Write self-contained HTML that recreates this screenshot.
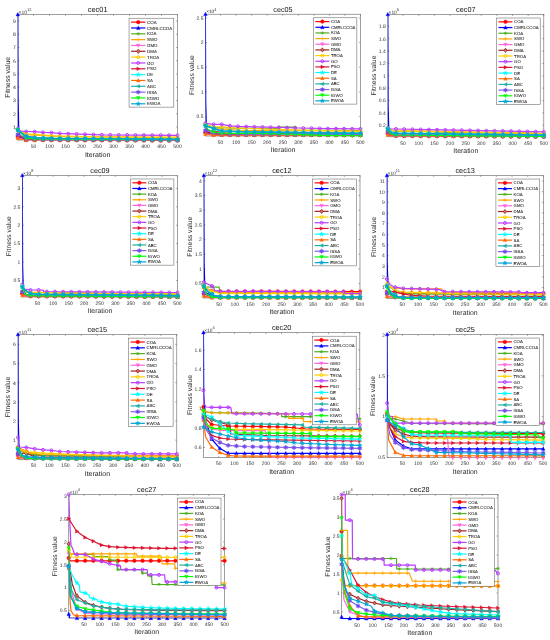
<!DOCTYPE html>
<html lang="en"><head><meta charset="utf-8"><title>Convergence curves</title>
<style>html,body{margin:0;padding:0;background:#fff}body{width:550px;height:640px;overflow:hidden}svg{display:block}</style></head>
<body>
<svg width="550" height="640" viewBox="0 0 550 640" font-family='"Liberation Sans", Arial, sans-serif' text-rendering="geometricPrecision">
<defs><g id="m0"><circle cx="0" cy="0" r="1.75" fill="#ff0000" stroke="#ff0000" stroke-width="0.55"/></g><g id="m1"><polygon points="0,-1.9 1.8,1.42 -1.8,1.42" fill="#0000ff" stroke="#0000ff" stroke-width="0.4"/></g><g id="m2"><path d="M-1.61 0H1.61M0 -1.61V1.61M-1.18 -1.18L1.18 1.18M-1.18 1.18L1.18 -1.18" stroke="#4cae1e" stroke-width="0.7" fill="none"/></g><g id="m3"><path d="M-1.9 0H1.9M0 -1.9V1.9" stroke="#ffa500" stroke-width="0.7" fill="none"/></g><g id="m4"><polygon points="0,1.9 1.8,-1.42 -1.8,-1.42" fill="#ff66dd" stroke="#ff66dd" stroke-width="0.4"/></g><g id="m5"><polygon points="0,-2.09 1.61,0 0,2.09 -1.61,0" fill="#c87870" stroke="#a02020" stroke-width="0.8"/></g><g id="m6"><circle cx="0" cy="0" r="1.48" fill="none" stroke="#ffd000" stroke-width="1.0"/></g><g id="m7"><circle cx="0" cy="0" r="1.48" fill="none" stroke="#b93cff" stroke-width="1.0"/></g><g id="m8"><polygon points="1.9,0 -1.42,-1.8 -1.42,1.8" fill="#dc1430" stroke="#dc1430" stroke-width="0.4"/></g><g id="m9"><polygon points="0,-2.38 0.58,-0.8 2.26,-0.73 0.94,0.31 1.4,1.92 0,0.99 -1.4,1.92 -0.94,0.31 -2.26,-0.73 -0.58,-0.8" fill="#00ffff" stroke="#00ffff" stroke-width="0.4"/></g><g id="m10"><polygon points="0,-1.9 1.8,1.42 -1.8,1.42" fill="#ff6a00" stroke="#ff6a00" stroke-width="0.4"/></g><g id="m11"><polygon points="-1.9,0 1.42,-1.8 1.42,1.8" fill="#20b0a4" stroke="#20b0a4" stroke-width="0.4"/></g><g id="m12"><polygon points="0,-2.38 0.68,-1.18 2.06,-1.19 1.37,0 2.06,1.19 0.68,1.18 0,2.38 -0.68,1.18 -2.06,1.19 -1.37,0 -2.06,-1.19 -0.68,-1.18" fill="#7048e8" stroke="#8560f0" stroke-width="0.4"/></g><g id="m13"><polygon points="0,1.9 1.8,-1.42 -1.8,-1.42" fill="#00ff00" stroke="#00ff00" stroke-width="0.4"/></g><g id="m14"><polygon points="0,-2.38 0.58,-0.8 2.26,-0.73 0.94,0.31 1.4,1.92 0,0.99 -1.4,1.92 -0.94,0.31 -2.26,-0.73 -0.58,-0.8" fill="#00a4d4" stroke="#00a4d4" stroke-width="0.4"/></g></defs>
<!-- cec01 -->
<clipPath id="c0"><rect x="17.8" y="14.2" width="160" height="126.1"/></clipPath>
<rect x="17.8" y="14.5" width="159.7" height="125.5" fill="#fff" stroke="#606060" stroke-width="0.6"/>
<path d="M33.48 140v-1.6 M33.48 14.5v1.6 M49.48 140v-1.6 M49.48 14.5v1.6 M65.49 140v-1.6 M65.49 14.5v1.6 M81.49 140v-1.6 M81.49 14.5v1.6 M97.49 140v-1.6 M97.49 14.5v1.6 M113.49 140v-1.6 M113.49 14.5v1.6 M129.49 140v-1.6 M129.49 14.5v1.6 M145.5 140v-1.6 M145.5 14.5v1.6 M161.5 140v-1.6 M161.5 14.5v1.6 M177.5 140v-1.6 M177.5 14.5v1.6 M17.8 21h1.6 M177.5 21h-1.6 M17.8 34.25h1.6 M177.5 34.25h-1.6 M17.8 47.5h1.6 M177.5 47.5h-1.6 M17.8 60.75h1.6 M177.5 60.75h-1.6 M17.8 74h1.6 M177.5 74h-1.6 M17.8 87.25h1.6 M177.5 87.25h-1.6 M17.8 100.5h1.6 M177.5 100.5h-1.6 M17.8 113.75h1.6 M177.5 113.75h-1.6 M17.8 127h1.6 M177.5 127h-1.6" stroke="#606060" stroke-width="0.5" fill="none"/>
<g font-size="5.12" fill="#303030"><g text-anchor="middle"><text x="33.48" y="147.88">50</text><text x="49.48" y="147.88">100</text><text x="65.49" y="147.88">150</text><text x="81.49" y="147.88">200</text><text x="97.49" y="147.88">250</text><text x="113.49" y="147.88">300</text><text x="129.49" y="147.88">350</text><text x="145.5" y="147.88">400</text><text x="161.5" y="147.88">450</text><text x="177.5" y="147.88">500</text></g><g text-anchor="end"><text x="15.8" y="22.84">9</text><text x="15.8" y="36.09">8</text><text x="15.8" y="49.34">7</text><text x="15.8" y="62.59">6</text><text x="15.8" y="75.84">5</text><text x="15.8" y="89.09">4</text><text x="15.8" y="102.34">3</text><text x="15.8" y="115.59">2</text><text x="15.8" y="128.84">1</text></g><text x="18.6" y="13.6" font-size="4.91">×10<tspan dy="-2.35" font-size="3.99">12</tspan></text></g>
<text x="97.65" y="12.04" font-size="7.42" text-anchor="middle" fill="#111">cec01</text>
<text x="97.65" y="156.58" font-size="7.06" text-anchor="middle" fill="#262626">Iteration</text>
<text transform="translate(9.51 77.25) rotate(-90)" font-size="6.96" text-anchor="middle" fill="#262626">Fitness value</text>
<polyline clip-path="url(#c0)" points="17.8,137 20.68,138.5 26.12,140 177.5,140.4" fill="none" stroke="#ff0000" stroke-width="1.2" stroke-linejoin="round"/><use href="#m0" x="17.8" y="137"/><use href="#m0" x="26.21" y="140"/><use href="#m0" x="34.61" y="140.02"/><use href="#m0" x="43.02" y="140.04"/><use href="#m0" x="51.42" y="140.07"/><use href="#m0" x="59.83" y="140.09"/><use href="#m0" x="68.23" y="140.11"/><use href="#m0" x="76.64" y="140.13"/><use href="#m0" x="85.04" y="140.16"/><use href="#m0" x="93.45" y="140.18"/><use href="#m0" x="101.85" y="140.2"/><use href="#m0" x="110.26" y="140.22"/><use href="#m0" x="118.66" y="140.24"/><use href="#m0" x="127.07" y="140.27"/><use href="#m0" x="135.47" y="140.29"/><use href="#m0" x="143.88" y="140.31"/><use href="#m0" x="152.28" y="140.33"/><use href="#m0" x="160.69" y="140.36"/><use href="#m0" x="169.09" y="140.38"/><use href="#m0" x="177.5" y="140.4"/><polyline clip-path="url(#c0)" points="17.8,14.5 18.12,100 18.76,130 20.36,137 26.12,139.8 177.5,140.3" fill="none" stroke="#0000ff" stroke-width="1.2" stroke-linejoin="round"/><use href="#m1" x="17.8" y="14.5"/><use href="#m1" x="26.21" y="139.8"/><use href="#m1" x="34.61" y="139.83"/><use href="#m1" x="43.02" y="139.86"/><use href="#m1" x="51.42" y="139.88"/><use href="#m1" x="59.83" y="139.91"/><use href="#m1" x="68.23" y="139.94"/><use href="#m1" x="76.64" y="139.97"/><use href="#m1" x="85.04" y="139.99"/><use href="#m1" x="93.45" y="140.02"/><use href="#m1" x="101.85" y="140.05"/><use href="#m1" x="110.26" y="140.08"/><use href="#m1" x="118.66" y="140.11"/><use href="#m1" x="127.07" y="140.13"/><use href="#m1" x="135.47" y="140.16"/><use href="#m1" x="143.88" y="140.19"/><use href="#m1" x="152.28" y="140.22"/><use href="#m1" x="160.69" y="140.24"/><use href="#m1" x="169.09" y="140.27"/><use href="#m1" x="177.5" y="140.3"/><polyline clip-path="url(#c0)" points="17.8,130 26.12,136.5 43.08,138 177.5,139" fill="none" stroke="#4cae1e" stroke-width="1.2" stroke-linejoin="round"/><use href="#m2" x="17.8" y="130"/><use href="#m2" x="26.21" y="136.51"/><use href="#m2" x="34.61" y="137.25"/><use href="#m2" x="43.02" y="137.99"/><use href="#m2" x="51.42" y="138.06"/><use href="#m2" x="59.83" y="138.12"/><use href="#m2" x="68.23" y="138.19"/><use href="#m2" x="76.64" y="138.25"/><use href="#m2" x="85.04" y="138.31"/><use href="#m2" x="93.45" y="138.37"/><use href="#m2" x="101.85" y="138.44"/><use href="#m2" x="110.26" y="138.5"/><use href="#m2" x="118.66" y="138.56"/><use href="#m2" x="127.07" y="138.62"/><use href="#m2" x="135.47" y="138.69"/><use href="#m2" x="143.88" y="138.75"/><use href="#m2" x="152.28" y="138.81"/><use href="#m2" x="160.69" y="138.87"/><use href="#m2" x="169.09" y="138.94"/><use href="#m2" x="177.5" y="139"/><polyline clip-path="url(#c0)" points="17.8,131 26.12,134.6 59.09,136.3 177.5,137.6" fill="none" stroke="#ffa500" stroke-width="1.2" stroke-linejoin="round"/><use href="#m3" x="17.8" y="131"/><use href="#m3" x="26.21" y="134.6"/><use href="#m3" x="34.61" y="135.04"/><use href="#m3" x="43.02" y="135.47"/><use href="#m3" x="51.42" y="135.9"/><use href="#m3" x="59.83" y="136.31"/><use href="#m3" x="68.23" y="136.4"/><use href="#m3" x="76.64" y="136.49"/><use href="#m3" x="85.04" y="136.58"/><use href="#m3" x="93.45" y="136.68"/><use href="#m3" x="101.85" y="136.77"/><use href="#m3" x="110.26" y="136.86"/><use href="#m3" x="118.66" y="136.95"/><use href="#m3" x="127.07" y="137.05"/><use href="#m3" x="135.47" y="137.14"/><use href="#m3" x="143.88" y="137.23"/><use href="#m3" x="152.28" y="137.32"/><use href="#m3" x="160.69" y="137.42"/><use href="#m3" x="169.09" y="137.51"/><use href="#m3" x="177.5" y="137.6"/><polyline clip-path="url(#c0)" points="17.8,137.8 21.32,138.5 26.12,140 177.5,140.6" fill="none" stroke="#ff66dd" stroke-width="1.2" stroke-linejoin="round"/><use href="#m4" x="17.8" y="137.8"/><use href="#m4" x="26.21" y="140"/><use href="#m4" x="34.61" y="140.03"/><use href="#m4" x="43.02" y="140.07"/><use href="#m4" x="51.42" y="140.1"/><use href="#m4" x="59.83" y="140.13"/><use href="#m4" x="68.23" y="140.17"/><use href="#m4" x="76.64" y="140.2"/><use href="#m4" x="85.04" y="140.23"/><use href="#m4" x="93.45" y="140.27"/><use href="#m4" x="101.85" y="140.3"/><use href="#m4" x="110.26" y="140.33"/><use href="#m4" x="118.66" y="140.37"/><use href="#m4" x="127.07" y="140.4"/><use href="#m4" x="135.47" y="140.43"/><use href="#m4" x="143.88" y="140.47"/><use href="#m4" x="152.28" y="140.5"/><use href="#m4" x="160.69" y="140.53"/><use href="#m4" x="169.09" y="140.57"/><use href="#m4" x="177.5" y="140.6"/><polyline clip-path="url(#c0)" points="17.8,136 22.28,137.5 33.48,139.6 177.5,140.2" fill="none" stroke="#a02020" stroke-width="1.2" stroke-linejoin="round"/><use href="#m5" x="17.8" y="136"/><use href="#m5" x="26.21" y="138.24"/><use href="#m5" x="34.61" y="139.6"/><use href="#m5" x="43.02" y="139.64"/><use href="#m5" x="51.42" y="139.67"/><use href="#m5" x="59.83" y="139.71"/><use href="#m5" x="68.23" y="139.74"/><use href="#m5" x="76.64" y="139.78"/><use href="#m5" x="85.04" y="139.81"/><use href="#m5" x="93.45" y="139.85"/><use href="#m5" x="101.85" y="139.88"/><use href="#m5" x="110.26" y="139.92"/><use href="#m5" x="118.66" y="139.95"/><use href="#m5" x="127.07" y="139.99"/><use href="#m5" x="135.47" y="140.02"/><use href="#m5" x="143.88" y="140.06"/><use href="#m5" x="152.28" y="140.09"/><use href="#m5" x="160.69" y="140.13"/><use href="#m5" x="169.09" y="140.16"/><use href="#m5" x="177.5" y="140.2"/><polyline clip-path="url(#c0)" points="17.8,129.5 26.12,133.9 34.44,134.4 52.68,135.8 100.69,136.8 177.5,137.2" fill="none" stroke="#ffd000" stroke-width="1.2" stroke-linejoin="round"/><use href="#m6" x="17.8" y="129.5"/><use href="#m6" x="26.21" y="133.91"/><use href="#m6" x="34.61" y="134.41"/><use href="#m6" x="43.02" y="135.06"/><use href="#m6" x="51.42" y="135.7"/><use href="#m6" x="59.83" y="135.95"/><use href="#m6" x="68.23" y="136.12"/><use href="#m6" x="76.64" y="136.3"/><use href="#m6" x="85.04" y="136.47"/><use href="#m6" x="93.45" y="136.65"/><use href="#m6" x="101.85" y="136.81"/><use href="#m6" x="110.26" y="136.85"/><use href="#m6" x="118.66" y="136.89"/><use href="#m6" x="127.07" y="136.94"/><use href="#m6" x="135.47" y="136.98"/><use href="#m6" x="143.88" y="137.02"/><use href="#m6" x="152.28" y="137.07"/><use href="#m6" x="160.69" y="137.11"/><use href="#m6" x="169.09" y="137.16"/><use href="#m6" x="177.5" y="137.2"/><polyline clip-path="url(#c0)" points="17.8,128.7 20.68,131.2 26.12,131.5 34.44,131.7 43.08,132.4 51.4,132.6 59.09,133.3 100.69,134.8 177.5,135.3" fill="none" stroke="#b93cff" stroke-width="1.2" stroke-linejoin="round"/><use href="#m7" x="17.8" y="128.7"/><use href="#m7" x="26.21" y="131.5"/><use href="#m7" x="34.61" y="131.71"/><use href="#m7" x="43.02" y="132.39"/><use href="#m7" x="51.42" y="132.6"/><use href="#m7" x="59.83" y="133.33"/><use href="#m7" x="68.23" y="133.63"/><use href="#m7" x="76.64" y="133.93"/><use href="#m7" x="85.04" y="134.24"/><use href="#m7" x="93.45" y="134.54"/><use href="#m7" x="101.85" y="134.81"/><use href="#m7" x="110.26" y="134.86"/><use href="#m7" x="118.66" y="134.92"/><use href="#m7" x="127.07" y="134.97"/><use href="#m7" x="135.47" y="135.03"/><use href="#m7" x="143.88" y="135.08"/><use href="#m7" x="152.28" y="135.14"/><use href="#m7" x="160.69" y="135.19"/><use href="#m7" x="169.09" y="135.25"/><use href="#m7" x="177.5" y="135.3"/><polyline clip-path="url(#c0)" points="17.8,135.2 26.12,137.5 43.08,139.3 177.5,139.9" fill="none" stroke="#dc1430" stroke-width="1.2" stroke-linejoin="round"/><use href="#m8" x="17.8" y="135.2"/><use href="#m8" x="26.21" y="137.51"/><use href="#m8" x="34.61" y="138.4"/><use href="#m8" x="43.02" y="139.29"/><use href="#m8" x="51.42" y="139.34"/><use href="#m8" x="59.83" y="139.37"/><use href="#m8" x="68.23" y="139.41"/><use href="#m8" x="76.64" y="139.45"/><use href="#m8" x="85.04" y="139.49"/><use href="#m8" x="93.45" y="139.52"/><use href="#m8" x="101.85" y="139.56"/><use href="#m8" x="110.26" y="139.6"/><use href="#m8" x="118.66" y="139.64"/><use href="#m8" x="127.07" y="139.67"/><use href="#m8" x="135.47" y="139.71"/><use href="#m8" x="143.88" y="139.75"/><use href="#m8" x="152.28" y="139.79"/><use href="#m8" x="160.69" y="139.82"/><use href="#m8" x="169.09" y="139.86"/><use href="#m8" x="177.5" y="139.9"/><polyline clip-path="url(#c0)" points="17.8,130 26.12,136.5 34.44,137.8 52.68,138.6 177.5,139.5" fill="none" stroke="#00ffff" stroke-width="1.2" stroke-linejoin="round"/><use href="#m9" x="17.8" y="130"/><use href="#m9" x="26.21" y="136.51"/><use href="#m9" x="34.61" y="137.81"/><use href="#m9" x="43.02" y="138.18"/><use href="#m9" x="51.42" y="138.54"/><use href="#m9" x="59.83" y="138.65"/><use href="#m9" x="68.23" y="138.71"/><use href="#m9" x="76.64" y="138.77"/><use href="#m9" x="85.04" y="138.83"/><use href="#m9" x="93.45" y="138.89"/><use href="#m9" x="101.85" y="138.95"/><use href="#m9" x="110.26" y="139.02"/><use href="#m9" x="118.66" y="139.08"/><use href="#m9" x="127.07" y="139.14"/><use href="#m9" x="135.47" y="139.2"/><use href="#m9" x="143.88" y="139.26"/><use href="#m9" x="152.28" y="139.32"/><use href="#m9" x="160.69" y="139.38"/><use href="#m9" x="169.09" y="139.44"/><use href="#m9" x="177.5" y="139.5"/><polyline clip-path="url(#c0)" points="17.8,138.3 20.68,139 26.12,140.2 177.5,140.5" fill="none" stroke="#ff6a00" stroke-width="1.2" stroke-linejoin="round"/><use href="#m10" x="17.8" y="138.3"/><use href="#m10" x="26.21" y="140.2"/><use href="#m10" x="34.61" y="140.22"/><use href="#m10" x="43.02" y="140.23"/><use href="#m10" x="51.42" y="140.25"/><use href="#m10" x="59.83" y="140.27"/><use href="#m10" x="68.23" y="140.28"/><use href="#m10" x="76.64" y="140.3"/><use href="#m10" x="85.04" y="140.32"/><use href="#m10" x="93.45" y="140.33"/><use href="#m10" x="101.85" y="140.35"/><use href="#m10" x="110.26" y="140.37"/><use href="#m10" x="118.66" y="140.38"/><use href="#m10" x="127.07" y="140.4"/><use href="#m10" x="135.47" y="140.42"/><use href="#m10" x="143.88" y="140.43"/><use href="#m10" x="152.28" y="140.45"/><use href="#m10" x="160.69" y="140.47"/><use href="#m10" x="169.09" y="140.48"/><use href="#m10" x="177.5" y="140.5"/><polyline clip-path="url(#c0)" points="17.8,130.5 26.12,136.2 34.44,137.5 52.68,138.3 177.5,139.3" fill="none" stroke="#20b0a4" stroke-width="1.2" stroke-linejoin="round"/><use href="#m11" x="17.8" y="130.5"/><use href="#m11" x="26.21" y="136.21"/><use href="#m11" x="34.61" y="137.51"/><use href="#m11" x="43.02" y="137.88"/><use href="#m11" x="51.42" y="138.24"/><use href="#m11" x="59.83" y="138.36"/><use href="#m11" x="68.23" y="138.42"/><use href="#m11" x="76.64" y="138.49"/><use href="#m11" x="85.04" y="138.56"/><use href="#m11" x="93.45" y="138.63"/><use href="#m11" x="101.85" y="138.69"/><use href="#m11" x="110.26" y="138.76"/><use href="#m11" x="118.66" y="138.83"/><use href="#m11" x="127.07" y="138.9"/><use href="#m11" x="135.47" y="138.96"/><use href="#m11" x="143.88" y="139.03"/><use href="#m11" x="152.28" y="139.1"/><use href="#m11" x="160.69" y="139.17"/><use href="#m11" x="169.09" y="139.23"/><use href="#m11" x="177.5" y="139.3"/><polyline clip-path="url(#c0)" points="17.8,134.5 26.12,138.3 43.08,139.5 177.5,140" fill="none" stroke="#8560f0" stroke-width="1.2" stroke-linejoin="round"/><use href="#m12" x="17.8" y="134.5"/><use href="#m12" x="26.21" y="138.31"/><use href="#m12" x="34.61" y="138.9"/><use href="#m12" x="43.02" y="139.5"/><use href="#m12" x="51.42" y="139.53"/><use href="#m12" x="59.83" y="139.56"/><use href="#m12" x="68.23" y="139.59"/><use href="#m12" x="76.64" y="139.62"/><use href="#m12" x="85.04" y="139.66"/><use href="#m12" x="93.45" y="139.69"/><use href="#m12" x="101.85" y="139.72"/><use href="#m12" x="110.26" y="139.75"/><use href="#m12" x="118.66" y="139.78"/><use href="#m12" x="127.07" y="139.81"/><use href="#m12" x="135.47" y="139.84"/><use href="#m12" x="143.88" y="139.87"/><use href="#m12" x="152.28" y="139.91"/><use href="#m12" x="160.69" y="139.94"/><use href="#m12" x="169.09" y="139.97"/><use href="#m12" x="177.5" y="140"/><polyline clip-path="url(#c0)" points="17.8,130 26.12,138 34.44,139 177.5,139.8" fill="none" stroke="#00ff00" stroke-width="1.2" stroke-linejoin="round"/><use href="#m13" x="17.8" y="130"/><use href="#m13" x="26.21" y="138.01"/><use href="#m13" x="34.61" y="139"/><use href="#m13" x="43.02" y="139.05"/><use href="#m13" x="51.42" y="139.09"/><use href="#m13" x="59.83" y="139.14"/><use href="#m13" x="68.23" y="139.19"/><use href="#m13" x="76.64" y="139.24"/><use href="#m13" x="85.04" y="139.28"/><use href="#m13" x="93.45" y="139.33"/><use href="#m13" x="101.85" y="139.38"/><use href="#m13" x="110.26" y="139.42"/><use href="#m13" x="118.66" y="139.47"/><use href="#m13" x="127.07" y="139.52"/><use href="#m13" x="135.47" y="139.56"/><use href="#m13" x="143.88" y="139.61"/><use href="#m13" x="152.28" y="139.66"/><use href="#m13" x="160.69" y="139.71"/><use href="#m13" x="169.09" y="139.75"/><use href="#m13" x="177.5" y="139.8"/><polyline clip-path="url(#c0)" points="17.8,130 26.12,136.4 34.44,137.7 52.68,138.4 177.5,139.4" fill="none" stroke="#00a4d4" stroke-width="1.2" stroke-linejoin="round"/><use href="#m14" x="17.8" y="130"/><use href="#m14" x="26.21" y="136.41"/><use href="#m14" x="34.61" y="137.71"/><use href="#m14" x="43.02" y="138.03"/><use href="#m14" x="51.42" y="138.35"/><use href="#m14" x="59.83" y="138.46"/><use href="#m14" x="68.23" y="138.52"/><use href="#m14" x="76.64" y="138.59"/><use href="#m14" x="85.04" y="138.66"/><use href="#m14" x="93.45" y="138.73"/><use href="#m14" x="101.85" y="138.79"/><use href="#m14" x="110.26" y="138.86"/><use href="#m14" x="118.66" y="138.93"/><use href="#m14" x="127.07" y="139"/><use href="#m14" x="135.47" y="139.06"/><use href="#m14" x="143.88" y="139.13"/><use href="#m14" x="152.28" y="139.2"/><use href="#m14" x="160.69" y="139.27"/><use href="#m14" x="169.09" y="139.33"/><use href="#m14" x="177.5" y="139.4"/>
<rect x="129.05" y="18.2" width="44.75" height="88.92" fill="#fff" stroke="#555" stroke-width="0.5"/>
<g font-size="4.4" fill="#111" stroke="#111" stroke-width="0.04"><path d="M131.09 22.14H145.43" stroke="#ff0000" stroke-width="1.2"/><use href="#m0" x="138.26" y="22.14"/><text x="147.06" y="23.73">COA</text><path d="M131.09 27.97H145.43" stroke="#0000ff" stroke-width="1.2"/><use href="#m1" x="138.26" y="27.97"/><text x="147.06" y="29.56">CMRLCCOA</text><path d="M131.09 33.81H145.43" stroke="#4cae1e" stroke-width="1.2"/><use href="#m2" x="138.26" y="33.81"/><text x="147.06" y="35.39">KOA</text><path d="M131.09 39.64H145.43" stroke="#ffa500" stroke-width="1.2"/><use href="#m3" x="138.26" y="39.64"/><text x="147.06" y="41.23">SWO</text><path d="M131.09 45.47H145.43" stroke="#ff66dd" stroke-width="1.2"/><use href="#m4" x="138.26" y="45.47"/><text x="147.06" y="47.06">GMO</text><path d="M131.09 51.3H145.43" stroke="#a02020" stroke-width="1.2"/><use href="#m5" x="138.26" y="51.3"/><text x="147.06" y="52.89">DMA</text><path d="M131.09 57.14H145.43" stroke="#ffd000" stroke-width="1.2"/><use href="#m6" x="138.26" y="57.14"/><text x="147.06" y="58.72">TROA</text><path d="M131.09 62.97H145.43" stroke="#b93cff" stroke-width="1.2"/><use href="#m7" x="138.26" y="62.97"/><text x="147.06" y="64.55">GO</text><path d="M131.09 68.8H145.43" stroke="#dc1430" stroke-width="1.2"/><use href="#m8" x="138.26" y="68.8"/><text x="147.06" y="70.39">PSO</text><path d="M131.09 74.63H145.43" stroke="#00ffff" stroke-width="1.2"/><use href="#m9" x="138.26" y="74.63"/><text x="147.06" y="76.22">DE</text><path d="M131.09 80.46H145.43" stroke="#ff6a00" stroke-width="1.2"/><use href="#m10" x="138.26" y="80.46"/><text x="147.06" y="82.05">SA</text><path d="M131.09 86.3H145.43" stroke="#20b0a4" stroke-width="1.2"/><use href="#m11" x="138.26" y="86.3"/><text x="147.06" y="87.88">ABC</text><path d="M131.09 92.13H145.43" stroke="#8560f0" stroke-width="1.2"/><use href="#m12" x="138.26" y="92.13"/><text x="147.06" y="93.72">ISSA</text><path d="M131.09 97.96H145.43" stroke="#00ff00" stroke-width="1.2"/><use href="#m13" x="138.26" y="97.96"/><text x="147.06" y="99.55">IGWO</text><path d="M131.09 103.79H145.43" stroke="#00a4d4" stroke-width="1.2"/><use href="#m14" x="138.26" y="103.79"/><text x="147.06" y="105.38">EWOA</text></g>
<!-- cec05 -->
<clipPath id="c1"><rect x="205.4" y="13.9" width="155.35" height="122.4"/></clipPath>
<rect x="205.4" y="14.2" width="155.05" height="121.8" fill="#fff" stroke="#606060" stroke-width="0.6"/>
<path d="M220.63 136v-1.6 M220.63 14.2v1.6 M236.16 136v-1.6 M236.16 14.2v1.6 M251.7 136v-1.6 M251.7 14.2v1.6 M267.23 136v-1.6 M267.23 14.2v1.6 M282.77 136v-1.6 M282.77 14.2v1.6 M298.31 136v-1.6 M298.31 14.2v1.6 M313.84 136v-1.6 M313.84 14.2v1.6 M329.38 136v-1.6 M329.38 14.2v1.6 M344.91 136v-1.6 M344.91 14.2v1.6 M360.45 136v-1.6 M360.45 14.2v1.6 M205.4 18h1.6 M360.45 18h-1.6 M205.4 42.6h1.6 M360.45 42.6h-1.6 M205.4 67.2h1.6 M360.45 67.2h-1.6 M205.4 91.8h1.6 M360.45 91.8h-1.6 M205.4 116.4h1.6 M360.45 116.4h-1.6" stroke="#606060" stroke-width="0.5" fill="none"/>
<g font-size="4.97" fill="#303030"><g text-anchor="middle"><text x="220.63" y="143.65">50</text><text x="236.16" y="143.65">100</text><text x="251.7" y="143.65">150</text><text x="267.23" y="143.65">200</text><text x="282.77" y="143.65">250</text><text x="298.31" y="143.65">300</text><text x="313.84" y="143.65">350</text><text x="329.38" y="143.65">400</text><text x="344.91" y="143.65">450</text><text x="360.45" y="143.65">500</text></g><g text-anchor="end"><text x="203.4" y="19.79">2.5</text><text x="203.4" y="44.39">2</text><text x="203.4" y="68.99">1.5</text><text x="203.4" y="93.59">1</text><text x="203.4" y="118.19">0.5</text></g><text x="206.2" y="13.3" font-size="4.77">×10<tspan dy="-2.29" font-size="3.88">4</tspan></text></g>
<text x="282.93" y="11.81" font-size="7.21" text-anchor="middle" fill="#111">cec05</text>
<text x="282.93" y="152.1" font-size="6.86" text-anchor="middle" fill="#262626">Iteration</text>
<text transform="translate(193.77 75.1) rotate(-90)" font-size="6.76" text-anchor="middle" fill="#262626">Fitness value</text>
<polyline clip-path="url(#c1)" points="205.4,133 207.58,133.5 213.48,134.8 360.45,135" fill="none" stroke="#ff0000" stroke-width="1.2" stroke-linejoin="round"/><use href="#m0" x="205.4" y="133"/><use href="#m0" x="213.56" y="134.8"/><use href="#m0" x="221.72" y="134.81"/><use href="#m0" x="229.88" y="134.82"/><use href="#m0" x="238.04" y="134.83"/><use href="#m0" x="246.2" y="134.84"/><use href="#m0" x="254.36" y="134.86"/><use href="#m0" x="262.52" y="134.87"/><use href="#m0" x="270.68" y="134.88"/><use href="#m0" x="278.84" y="134.89"/><use href="#m0" x="287.01" y="134.9"/><use href="#m0" x="295.17" y="134.91"/><use href="#m0" x="303.33" y="134.92"/><use href="#m0" x="311.49" y="134.93"/><use href="#m0" x="319.65" y="134.94"/><use href="#m0" x="327.81" y="134.96"/><use href="#m0" x="335.97" y="134.97"/><use href="#m0" x="344.13" y="134.98"/><use href="#m0" x="352.29" y="134.99"/><use href="#m0" x="360.45" y="135"/><polyline clip-path="url(#c1)" points="205.4,14.2 205.71,100 206.33,126 207.58,131 209.75,134 221.56,134.8 360.45,135" fill="none" stroke="#0000ff" stroke-width="1.2" stroke-linejoin="round"/><use href="#m1" x="205.4" y="14.2"/><use href="#m1" x="213.56" y="134.26"/><use href="#m1" x="221.72" y="134.8"/><use href="#m1" x="229.88" y="134.81"/><use href="#m1" x="238.04" y="134.82"/><use href="#m1" x="246.2" y="134.84"/><use href="#m1" x="254.36" y="134.85"/><use href="#m1" x="262.52" y="134.86"/><use href="#m1" x="270.68" y="134.87"/><use href="#m1" x="278.84" y="134.88"/><use href="#m1" x="287.01" y="134.89"/><use href="#m1" x="295.17" y="134.91"/><use href="#m1" x="303.33" y="134.92"/><use href="#m1" x="311.49" y="134.93"/><use href="#m1" x="319.65" y="134.94"/><use href="#m1" x="327.81" y="134.95"/><use href="#m1" x="335.97" y="134.96"/><use href="#m1" x="344.13" y="134.98"/><use href="#m1" x="352.29" y="134.99"/><use href="#m1" x="360.45" y="135"/><polyline clip-path="url(#c1)" points="205.4,125 213.48,127.5 245.48,128.3 278.11,128.6 278.73,127.2 295.2,127.2 295.82,130 360.45,130.6" fill="none" stroke="#4cae1e" stroke-width="1.2" stroke-linejoin="round"/><use href="#m2" x="205.4" y="125"/><use href="#m2" x="213.56" y="127.5"/><use href="#m2" x="221.72" y="127.71"/><use href="#m2" x="229.88" y="127.91"/><use href="#m2" x="238.04" y="128.11"/><use href="#m2" x="246.2" y="128.31"/><use href="#m2" x="254.36" y="128.38"/><use href="#m2" x="262.52" y="128.46"/><use href="#m2" x="270.68" y="128.53"/><use href="#m2" x="278.84" y="127.2"/><use href="#m2" x="287.01" y="127.2"/><use href="#m2" x="295.17" y="127.2"/><use href="#m2" x="303.33" y="130.07"/><use href="#m2" x="311.49" y="130.15"/><use href="#m2" x="319.65" y="130.22"/><use href="#m2" x="327.81" y="130.3"/><use href="#m2" x="335.97" y="130.37"/><use href="#m2" x="344.13" y="130.45"/><use href="#m2" x="352.29" y="130.52"/><use href="#m2" x="360.45" y="130.6"/><polyline clip-path="url(#c1)" points="205.4,124.8 213.48,128.5 245.48,130.5 360.45,131" fill="none" stroke="#ffa500" stroke-width="1.2" stroke-linejoin="round"/><use href="#m3" x="205.4" y="124.8"/><use href="#m3" x="213.56" y="128.51"/><use href="#m3" x="221.72" y="129.02"/><use href="#m3" x="229.88" y="129.53"/><use href="#m3" x="238.04" y="130.04"/><use href="#m3" x="246.2" y="130.5"/><use href="#m3" x="254.36" y="130.54"/><use href="#m3" x="262.52" y="130.57"/><use href="#m3" x="270.68" y="130.61"/><use href="#m3" x="278.84" y="130.65"/><use href="#m3" x="287.01" y="130.68"/><use href="#m3" x="295.17" y="130.72"/><use href="#m3" x="303.33" y="130.75"/><use href="#m3" x="311.49" y="130.79"/><use href="#m3" x="319.65" y="130.82"/><use href="#m3" x="327.81" y="130.86"/><use href="#m3" x="335.97" y="130.89"/><use href="#m3" x="344.13" y="130.93"/><use href="#m3" x="352.29" y="130.96"/><use href="#m3" x="360.45" y="131"/><polyline clip-path="url(#c1)" points="205.4,133.7 207.58,134 213.48,135 360.45,135.2" fill="none" stroke="#ff66dd" stroke-width="1.2" stroke-linejoin="round"/><use href="#m4" x="205.4" y="133.7"/><use href="#m4" x="213.56" y="135"/><use href="#m4" x="221.72" y="135.01"/><use href="#m4" x="229.88" y="135.02"/><use href="#m4" x="238.04" y="135.03"/><use href="#m4" x="246.2" y="135.04"/><use href="#m4" x="254.36" y="135.06"/><use href="#m4" x="262.52" y="135.07"/><use href="#m4" x="270.68" y="135.08"/><use href="#m4" x="278.84" y="135.09"/><use href="#m4" x="287.01" y="135.1"/><use href="#m4" x="295.17" y="135.11"/><use href="#m4" x="303.33" y="135.12"/><use href="#m4" x="311.49" y="135.13"/><use href="#m4" x="319.65" y="135.14"/><use href="#m4" x="327.81" y="135.16"/><use href="#m4" x="335.97" y="135.17"/><use href="#m4" x="344.13" y="135.18"/><use href="#m4" x="352.29" y="135.19"/><use href="#m4" x="360.45" y="135.2"/><polyline clip-path="url(#c1)" points="205.4,132 211.3,133 229.95,134.4 360.45,134.7" fill="none" stroke="#a02020" stroke-width="1.2" stroke-linejoin="round"/><use href="#m5" x="205.4" y="132"/><use href="#m5" x="213.56" y="133.17"/><use href="#m5" x="221.72" y="133.78"/><use href="#m5" x="229.88" y="134.4"/><use href="#m5" x="238.04" y="134.42"/><use href="#m5" x="246.2" y="134.44"/><use href="#m5" x="254.36" y="134.46"/><use href="#m5" x="262.52" y="134.47"/><use href="#m5" x="270.68" y="134.49"/><use href="#m5" x="278.84" y="134.51"/><use href="#m5" x="287.01" y="134.53"/><use href="#m5" x="295.17" y="134.55"/><use href="#m5" x="303.33" y="134.57"/><use href="#m5" x="311.49" y="134.59"/><use href="#m5" x="319.65" y="134.61"/><use href="#m5" x="327.81" y="134.62"/><use href="#m5" x="335.97" y="134.64"/><use href="#m5" x="344.13" y="134.66"/><use href="#m5" x="352.29" y="134.68"/><use href="#m5" x="360.45" y="134.7"/><polyline clip-path="url(#c1)" points="205.4,124.5 213.48,126.5 245.48,128.3 298.31,130 360.45,131.3" fill="none" stroke="#ffd000" stroke-width="1.2" stroke-linejoin="round"/><use href="#m6" x="205.4" y="124.5"/><use href="#m6" x="213.56" y="126.5"/><use href="#m6" x="221.72" y="126.96"/><use href="#m6" x="229.88" y="127.42"/><use href="#m6" x="238.04" y="127.88"/><use href="#m6" x="246.2" y="128.32"/><use href="#m6" x="254.36" y="128.59"/><use href="#m6" x="262.52" y="128.85"/><use href="#m6" x="270.68" y="129.11"/><use href="#m6" x="278.84" y="129.37"/><use href="#m6" x="287.01" y="129.64"/><use href="#m6" x="295.17" y="129.9"/><use href="#m6" x="303.33" y="130.11"/><use href="#m6" x="311.49" y="130.28"/><use href="#m6" x="319.65" y="130.45"/><use href="#m6" x="327.81" y="130.62"/><use href="#m6" x="335.97" y="130.79"/><use href="#m6" x="344.13" y="130.96"/><use href="#m6" x="352.29" y="131.13"/><use href="#m6" x="360.45" y="131.3"/><polyline clip-path="url(#c1)" points="205.4,123.3 213.48,124.3 221.56,124.3 229.95,125.8 238.03,126.3 267.23,127.2 298.31,128 329.38,128.6 360.45,128.9" fill="none" stroke="#b93cff" stroke-width="1.2" stroke-linejoin="round"/><use href="#m7" x="205.4" y="123.3"/><use href="#m7" x="213.56" y="124.3"/><use href="#m7" x="221.72" y="124.33"/><use href="#m7" x="229.88" y="125.79"/><use href="#m7" x="238.04" y="126.3"/><use href="#m7" x="246.2" y="126.55"/><use href="#m7" x="254.36" y="126.8"/><use href="#m7" x="262.52" y="127.05"/><use href="#m7" x="270.68" y="127.29"/><use href="#m7" x="278.84" y="127.5"/><use href="#m7" x="287.01" y="127.71"/><use href="#m7" x="295.17" y="127.92"/><use href="#m7" x="303.33" y="128.1"/><use href="#m7" x="311.49" y="128.25"/><use href="#m7" x="319.65" y="128.41"/><use href="#m7" x="327.81" y="128.57"/><use href="#m7" x="335.97" y="128.66"/><use href="#m7" x="344.13" y="128.74"/><use href="#m7" x="352.29" y="128.82"/><use href="#m7" x="360.45" y="128.9"/><polyline clip-path="url(#c1)" points="205.4,130.7 213.48,131 229.95,133.5 360.45,134.2" fill="none" stroke="#dc1430" stroke-width="1.2" stroke-linejoin="round"/><use href="#m8" x="205.4" y="130.7"/><use href="#m8" x="213.56" y="131.01"/><use href="#m8" x="221.72" y="132.25"/><use href="#m8" x="229.88" y="133.49"/><use href="#m8" x="238.04" y="133.54"/><use href="#m8" x="246.2" y="133.59"/><use href="#m8" x="254.36" y="133.63"/><use href="#m8" x="262.52" y="133.67"/><use href="#m8" x="270.68" y="133.72"/><use href="#m8" x="278.84" y="133.76"/><use href="#m8" x="287.01" y="133.81"/><use href="#m8" x="295.17" y="133.85"/><use href="#m8" x="303.33" y="133.89"/><use href="#m8" x="311.49" y="133.94"/><use href="#m8" x="319.65" y="133.98"/><use href="#m8" x="327.81" y="134.02"/><use href="#m8" x="335.97" y="134.07"/><use href="#m8" x="344.13" y="134.11"/><use href="#m8" x="352.29" y="134.16"/><use href="#m8" x="360.45" y="134.2"/><polyline clip-path="url(#c1)" points="205.4,125.5 213.48,129 221.56,131.5 245.48,132 360.45,133.3" fill="none" stroke="#00ffff" stroke-width="1.2" stroke-linejoin="round"/><use href="#m9" x="205.4" y="125.5"/><use href="#m9" x="213.56" y="129.03"/><use href="#m9" x="221.72" y="131.5"/><use href="#m9" x="229.88" y="131.67"/><use href="#m9" x="238.04" y="131.84"/><use href="#m9" x="246.2" y="132.01"/><use href="#m9" x="254.36" y="132.1"/><use href="#m9" x="262.52" y="132.19"/><use href="#m9" x="270.68" y="132.28"/><use href="#m9" x="278.84" y="132.38"/><use href="#m9" x="287.01" y="132.47"/><use href="#m9" x="295.17" y="132.56"/><use href="#m9" x="303.33" y="132.65"/><use href="#m9" x="311.49" y="132.75"/><use href="#m9" x="319.65" y="132.84"/><use href="#m9" x="327.81" y="132.93"/><use href="#m9" x="335.97" y="133.02"/><use href="#m9" x="344.13" y="133.12"/><use href="#m9" x="352.29" y="133.21"/><use href="#m9" x="360.45" y="133.3"/><polyline clip-path="url(#c1)" points="205.4,134.2 206.95,134.5 213.48,135.1 360.45,135.2" fill="none" stroke="#ff6a00" stroke-width="1.2" stroke-linejoin="round"/><use href="#m10" x="205.4" y="134.2"/><use href="#m10" x="213.56" y="135.1"/><use href="#m10" x="221.72" y="135.11"/><use href="#m10" x="229.88" y="135.11"/><use href="#m10" x="238.04" y="135.12"/><use href="#m10" x="246.2" y="135.12"/><use href="#m10" x="254.36" y="135.13"/><use href="#m10" x="262.52" y="135.13"/><use href="#m10" x="270.68" y="135.14"/><use href="#m10" x="278.84" y="135.14"/><use href="#m10" x="287.01" y="135.15"/><use href="#m10" x="295.17" y="135.16"/><use href="#m10" x="303.33" y="135.16"/><use href="#m10" x="311.49" y="135.17"/><use href="#m10" x="319.65" y="135.17"/><use href="#m10" x="327.81" y="135.18"/><use href="#m10" x="335.97" y="135.18"/><use href="#m10" x="344.13" y="135.19"/><use href="#m10" x="352.29" y="135.19"/><use href="#m10" x="360.45" y="135.2"/><polyline clip-path="url(#c1)" points="205.4,125.5 213.48,128 221.56,130.6 245.48,131.8 360.45,133.2" fill="none" stroke="#20b0a4" stroke-width="1.2" stroke-linejoin="round"/><use href="#m11" x="205.4" y="125.5"/><use href="#m11" x="213.56" y="128.03"/><use href="#m11" x="221.72" y="130.61"/><use href="#m11" x="229.88" y="131.02"/><use href="#m11" x="238.04" y="131.43"/><use href="#m11" x="246.2" y="131.81"/><use href="#m11" x="254.36" y="131.91"/><use href="#m11" x="262.52" y="132.01"/><use href="#m11" x="270.68" y="132.11"/><use href="#m11" x="278.84" y="132.21"/><use href="#m11" x="287.01" y="132.31"/><use href="#m11" x="295.17" y="132.41"/><use href="#m11" x="303.33" y="132.5"/><use href="#m11" x="311.49" y="132.6"/><use href="#m11" x="319.65" y="132.7"/><use href="#m11" x="327.81" y="132.8"/><use href="#m11" x="335.97" y="132.9"/><use href="#m11" x="344.13" y="133"/><use href="#m11" x="352.29" y="133.1"/><use href="#m11" x="360.45" y="133.2"/><polyline clip-path="url(#c1)" points="205.4,130.5 213.48,132.5 229.95,134 360.45,134.4" fill="none" stroke="#8560f0" stroke-width="1.2" stroke-linejoin="round"/><use href="#m12" x="205.4" y="130.5"/><use href="#m12" x="213.56" y="132.51"/><use href="#m12" x="221.72" y="133.25"/><use href="#m12" x="229.88" y="133.99"/><use href="#m12" x="238.04" y="134.02"/><use href="#m12" x="246.2" y="134.05"/><use href="#m12" x="254.36" y="134.07"/><use href="#m12" x="262.52" y="134.1"/><use href="#m12" x="270.68" y="134.12"/><use href="#m12" x="278.84" y="134.15"/><use href="#m12" x="287.01" y="134.17"/><use href="#m12" x="295.17" y="134.2"/><use href="#m12" x="303.33" y="134.22"/><use href="#m12" x="311.49" y="134.25"/><use href="#m12" x="319.65" y="134.27"/><use href="#m12" x="327.81" y="134.3"/><use href="#m12" x="335.97" y="134.32"/><use href="#m12" x="344.13" y="134.35"/><use href="#m12" x="352.29" y="134.37"/><use href="#m12" x="360.45" y="134.4"/><polyline clip-path="url(#c1)" points="205.4,126 208.2,129.5 213.48,132 221.56,133.1 245.48,133.3 282.77,133.8 307.63,134.8 335.59,135.6 360.45,135.9" fill="none" stroke="#00ff00" stroke-width="1.2" stroke-linejoin="round"/><use href="#m13" x="205.4" y="126"/><use href="#m13" x="213.56" y="132.01"/><use href="#m13" x="221.72" y="133.1"/><use href="#m13" x="229.88" y="133.17"/><use href="#m13" x="238.04" y="133.24"/><use href="#m13" x="246.2" y="133.31"/><use href="#m13" x="254.36" y="133.42"/><use href="#m13" x="262.52" y="133.53"/><use href="#m13" x="270.68" y="133.64"/><use href="#m13" x="278.84" y="133.75"/><use href="#m13" x="287.01" y="133.97"/><use href="#m13" x="295.17" y="134.3"/><use href="#m13" x="303.33" y="134.63"/><use href="#m13" x="311.49" y="134.91"/><use href="#m13" x="319.65" y="135.14"/><use href="#m13" x="327.81" y="135.38"/><use href="#m13" x="335.97" y="135.6"/><use href="#m13" x="344.13" y="135.7"/><use href="#m13" x="352.29" y="135.8"/><use href="#m13" x="360.45" y="135.9"/><polyline clip-path="url(#c1)" points="205.4,126 213.48,128.5 221.56,131 245.48,132 360.45,133.4" fill="none" stroke="#00a4d4" stroke-width="1.2" stroke-linejoin="round"/><use href="#m14" x="205.4" y="126"/><use href="#m14" x="213.56" y="128.53"/><use href="#m14" x="221.72" y="131.01"/><use href="#m14" x="229.88" y="131.35"/><use href="#m14" x="238.04" y="131.69"/><use href="#m14" x="246.2" y="132.01"/><use href="#m14" x="254.36" y="132.11"/><use href="#m14" x="262.52" y="132.21"/><use href="#m14" x="270.68" y="132.31"/><use href="#m14" x="278.84" y="132.41"/><use href="#m14" x="287.01" y="132.51"/><use href="#m14" x="295.17" y="132.61"/><use href="#m14" x="303.33" y="132.7"/><use href="#m14" x="311.49" y="132.8"/><use href="#m14" x="319.65" y="132.9"/><use href="#m14" x="327.81" y="133"/><use href="#m14" x="335.97" y="133.1"/><use href="#m14" x="344.13" y="133.2"/><use href="#m14" x="352.29" y="133.3"/><use href="#m14" x="360.45" y="133.4"/>
<rect x="313.41" y="17.79" width="43.45" height="86.3" fill="#fff" stroke="#555" stroke-width="0.5"/>
<g font-size="4.27" fill="#111" stroke="#111" stroke-width="0.04"><path d="M315.4 21.62H329.31" stroke="#ff0000" stroke-width="1.2"/><use href="#m0" x="322.35" y="21.62"/><text x="330.9" y="23.16">COA</text><path d="M315.4 27.28H329.31" stroke="#0000ff" stroke-width="1.2"/><use href="#m1" x="322.35" y="27.28"/><text x="330.9" y="28.82">CMRLCCOA</text><path d="M315.4 32.94H329.31" stroke="#4cae1e" stroke-width="1.2"/><use href="#m2" x="322.35" y="32.94"/><text x="330.9" y="34.48">KOA</text><path d="M315.4 38.6H329.31" stroke="#ffa500" stroke-width="1.2"/><use href="#m3" x="322.35" y="38.6"/><text x="330.9" y="40.14">SWO</text><path d="M315.4 44.26H329.31" stroke="#ff66dd" stroke-width="1.2"/><use href="#m4" x="322.35" y="44.26"/><text x="330.9" y="45.8">GMO</text><path d="M315.4 49.92H329.31" stroke="#a02020" stroke-width="1.2"/><use href="#m5" x="322.35" y="49.92"/><text x="330.9" y="51.46">DMA</text><path d="M315.4 55.58H329.31" stroke="#ffd000" stroke-width="1.2"/><use href="#m6" x="322.35" y="55.58"/><text x="330.9" y="57.12">TROA</text><path d="M315.4 61.24H329.31" stroke="#b93cff" stroke-width="1.2"/><use href="#m7" x="322.35" y="61.24"/><text x="330.9" y="62.78">GO</text><path d="M315.4 66.9H329.31" stroke="#dc1430" stroke-width="1.2"/><use href="#m8" x="322.35" y="66.9"/><text x="330.9" y="68.44">PSO</text><path d="M315.4 72.56H329.31" stroke="#00ffff" stroke-width="1.2"/><use href="#m9" x="322.35" y="72.56"/><text x="330.9" y="74.1">DE</text><path d="M315.4 78.22H329.31" stroke="#ff6a00" stroke-width="1.2"/><use href="#m10" x="322.35" y="78.22"/><text x="330.9" y="79.76">SA</text><path d="M315.4 83.88H329.31" stroke="#20b0a4" stroke-width="1.2"/><use href="#m11" x="322.35" y="83.88"/><text x="330.9" y="85.42">ABC</text><path d="M315.4 89.54H329.31" stroke="#8560f0" stroke-width="1.2"/><use href="#m12" x="322.35" y="89.54"/><text x="330.9" y="91.08">ISSA</text><path d="M315.4 95.2H329.31" stroke="#00ff00" stroke-width="1.2"/><use href="#m13" x="322.35" y="95.2"/><text x="330.9" y="96.74">IGWO</text><path d="M315.4 100.86H329.31" stroke="#00a4d4" stroke-width="1.2"/><use href="#m14" x="322.35" y="100.86"/><text x="330.9" y="102.4">EWOA</text></g>
<!-- cec07 -->
<clipPath id="c2"><rect x="387.8" y="14.1" width="156.3" height="123"/></clipPath>
<rect x="387.8" y="14.4" width="156" height="122.4" fill="#fff" stroke="#606060" stroke-width="0.6"/>
<path d="M403.12 136.8v-1.6 M403.12 14.4v1.6 M418.75 136.8v-1.6 M418.75 14.4v1.6 M434.38 136.8v-1.6 M434.38 14.4v1.6 M450.01 136.8v-1.6 M450.01 14.4v1.6 M465.64 136.8v-1.6 M465.64 14.4v1.6 M481.27 136.8v-1.6 M481.27 14.4v1.6 M496.91 136.8v-1.6 M496.91 14.4v1.6 M512.54 136.8v-1.6 M512.54 14.4v1.6 M528.17 136.8v-1.6 M528.17 14.4v1.6 M543.8 136.8v-1.6 M543.8 14.4v1.6 M387.8 26.4h1.6 M543.8 26.4h-1.6 M387.8 38.75h1.6 M543.8 38.75h-1.6 M387.8 51.1h1.6 M543.8 51.1h-1.6 M387.8 63.45h1.6 M543.8 63.45h-1.6 M387.8 75.8h1.6 M543.8 75.8h-1.6 M387.8 88.15h1.6 M543.8 88.15h-1.6 M387.8 100.5h1.6 M543.8 100.5h-1.6 M387.8 112.85h1.6 M543.8 112.85h-1.6 M387.8 125.2h1.6 M543.8 125.2h-1.6" stroke="#606060" stroke-width="0.5" fill="none"/>
<g font-size="5" fill="#303030"><g text-anchor="middle"><text x="403.12" y="144.5">50</text><text x="418.75" y="144.5">100</text><text x="434.38" y="144.5">150</text><text x="450.01" y="144.5">200</text><text x="465.64" y="144.5">250</text><text x="481.27" y="144.5">300</text><text x="496.91" y="144.5">350</text><text x="512.54" y="144.5">400</text><text x="528.17" y="144.5">450</text><text x="543.8" y="144.5">500</text></g><g text-anchor="end"><text x="385.8" y="28.2">1.8</text><text x="385.8" y="40.55">1.6</text><text x="385.8" y="52.9">1.4</text><text x="385.8" y="65.25">1.2</text><text x="385.8" y="77.6">1</text><text x="385.8" y="89.95">0.8</text><text x="385.8" y="102.3">0.6</text><text x="385.8" y="114.65">0.4</text><text x="385.8" y="127">0.2</text></g><text x="388.6" y="13.5" font-size="4.8">×10<tspan dy="-2.3" font-size="3.9">5</tspan></text></g>
<text x="465.8" y="12" font-size="7.25" text-anchor="middle" fill="#111">cec07</text>
<text x="465.8" y="153" font-size="6.9" text-anchor="middle" fill="#262626">Iteration</text>
<text transform="translate(376.1 75.6) rotate(-90)" font-size="6.8" text-anchor="middle" fill="#262626">Fitness value</text>
<polyline clip-path="url(#c2)" points="387.8,133.8 389.99,135.3 395.93,136 543.8,136.6" fill="none" stroke="#ff0000" stroke-width="1.2" stroke-linejoin="round"/><use href="#m0" x="387.8" y="133.8"/><use href="#m0" x="396.01" y="136"/><use href="#m0" x="404.22" y="136.03"/><use href="#m0" x="412.43" y="136.07"/><use href="#m0" x="420.64" y="136.1"/><use href="#m0" x="428.85" y="136.13"/><use href="#m0" x="437.06" y="136.17"/><use href="#m0" x="445.27" y="136.2"/><use href="#m0" x="453.48" y="136.23"/><use href="#m0" x="461.69" y="136.27"/><use href="#m0" x="469.91" y="136.3"/><use href="#m0" x="478.12" y="136.33"/><use href="#m0" x="486.33" y="136.37"/><use href="#m0" x="494.54" y="136.4"/><use href="#m0" x="502.75" y="136.43"/><use href="#m0" x="510.96" y="136.47"/><use href="#m0" x="519.17" y="136.5"/><use href="#m0" x="527.38" y="136.53"/><use href="#m0" x="535.59" y="136.57"/><use href="#m0" x="543.8" y="136.6"/><polyline clip-path="url(#c2)" points="387.8,14.4 388.11,105 388.74,128 389.99,133 392.18,135.3 543.8,136.5" fill="none" stroke="#0000ff" stroke-width="1.2" stroke-linejoin="round"/><use href="#m1" x="387.8" y="14.4"/><use href="#m1" x="396.01" y="135.33"/><use href="#m1" x="404.22" y="135.4"/><use href="#m1" x="412.43" y="135.46"/><use href="#m1" x="420.64" y="135.53"/><use href="#m1" x="428.85" y="135.59"/><use href="#m1" x="437.06" y="135.66"/><use href="#m1" x="445.27" y="135.72"/><use href="#m1" x="453.48" y="135.79"/><use href="#m1" x="461.69" y="135.85"/><use href="#m1" x="469.91" y="135.92"/><use href="#m1" x="478.12" y="135.98"/><use href="#m1" x="486.33" y="136.05"/><use href="#m1" x="494.54" y="136.11"/><use href="#m1" x="502.75" y="136.18"/><use href="#m1" x="510.96" y="136.24"/><use href="#m1" x="519.17" y="136.31"/><use href="#m1" x="527.38" y="136.37"/><use href="#m1" x="535.59" y="136.44"/><use href="#m1" x="543.8" y="136.5"/><polyline clip-path="url(#c2)" points="387.8,129 392.18,131 481.27,132.8 543.8,133.6" fill="none" stroke="#4cae1e" stroke-width="1.2" stroke-linejoin="round"/><use href="#m2" x="387.8" y="129"/><use href="#m2" x="396.01" y="131.08"/><use href="#m2" x="404.22" y="131.24"/><use href="#m2" x="412.43" y="131.41"/><use href="#m2" x="420.64" y="131.58"/><use href="#m2" x="428.85" y="131.74"/><use href="#m2" x="437.06" y="131.91"/><use href="#m2" x="445.27" y="132.07"/><use href="#m2" x="453.48" y="132.24"/><use href="#m2" x="461.69" y="132.4"/><use href="#m2" x="469.91" y="132.57"/><use href="#m2" x="478.12" y="132.74"/><use href="#m2" x="486.33" y="132.86"/><use href="#m2" x="494.54" y="132.97"/><use href="#m2" x="502.75" y="133.07"/><use href="#m2" x="510.96" y="133.18"/><use href="#m2" x="519.17" y="133.28"/><use href="#m2" x="527.38" y="133.39"/><use href="#m2" x="535.59" y="133.49"/><use href="#m2" x="543.8" y="133.6"/><polyline clip-path="url(#c2)" points="387.8,128.8 392.18,130.6 481.27,132.5 543.8,133.5" fill="none" stroke="#ffa500" stroke-width="1.2" stroke-linejoin="round"/><use href="#m3" x="387.8" y="128.8"/><use href="#m3" x="396.01" y="130.68"/><use href="#m3" x="404.22" y="130.86"/><use href="#m3" x="412.43" y="131.03"/><use href="#m3" x="420.64" y="131.21"/><use href="#m3" x="428.85" y="131.38"/><use href="#m3" x="437.06" y="131.56"/><use href="#m3" x="445.27" y="131.73"/><use href="#m3" x="453.48" y="131.91"/><use href="#m3" x="461.69" y="132.08"/><use href="#m3" x="469.91" y="132.26"/><use href="#m3" x="478.12" y="132.43"/><use href="#m3" x="486.33" y="132.58"/><use href="#m3" x="494.54" y="132.71"/><use href="#m3" x="502.75" y="132.84"/><use href="#m3" x="510.96" y="132.97"/><use href="#m3" x="519.17" y="133.11"/><use href="#m3" x="527.38" y="133.24"/><use href="#m3" x="535.59" y="133.37"/><use href="#m3" x="543.8" y="133.5"/><polyline clip-path="url(#c2)" points="387.8,134.6 389.99,135.4 395.93,136.1 543.8,136.7" fill="none" stroke="#ff66dd" stroke-width="1.2" stroke-linejoin="round"/><use href="#m4" x="387.8" y="134.6"/><use href="#m4" x="396.01" y="136.1"/><use href="#m4" x="404.22" y="136.13"/><use href="#m4" x="412.43" y="136.17"/><use href="#m4" x="420.64" y="136.2"/><use href="#m4" x="428.85" y="136.23"/><use href="#m4" x="437.06" y="136.27"/><use href="#m4" x="445.27" y="136.3"/><use href="#m4" x="453.48" y="136.33"/><use href="#m4" x="461.69" y="136.37"/><use href="#m4" x="469.91" y="136.4"/><use href="#m4" x="478.12" y="136.43"/><use href="#m4" x="486.33" y="136.47"/><use href="#m4" x="494.54" y="136.5"/><use href="#m4" x="502.75" y="136.53"/><use href="#m4" x="510.96" y="136.57"/><use href="#m4" x="519.17" y="136.6"/><use href="#m4" x="527.38" y="136.63"/><use href="#m4" x="535.59" y="136.67"/><use href="#m4" x="543.8" y="136.7"/><polyline clip-path="url(#c2)" points="387.8,132.8 391.86,134.8 399.99,135.5 543.8,136.3" fill="none" stroke="#a02020" stroke-width="1.2" stroke-linejoin="round"/><use href="#m5" x="387.8" y="132.8"/><use href="#m5" x="396.01" y="135.16"/><use href="#m5" x="404.22" y="135.52"/><use href="#m5" x="412.43" y="135.57"/><use href="#m5" x="420.64" y="135.61"/><use href="#m5" x="428.85" y="135.66"/><use href="#m5" x="437.06" y="135.71"/><use href="#m5" x="445.27" y="135.75"/><use href="#m5" x="453.48" y="135.8"/><use href="#m5" x="461.69" y="135.84"/><use href="#m5" x="469.91" y="135.89"/><use href="#m5" x="478.12" y="135.93"/><use href="#m5" x="486.33" y="135.98"/><use href="#m5" x="494.54" y="136.03"/><use href="#m5" x="502.75" y="136.07"/><use href="#m5" x="510.96" y="136.12"/><use href="#m5" x="519.17" y="136.16"/><use href="#m5" x="527.38" y="136.21"/><use href="#m5" x="535.59" y="136.25"/><use href="#m5" x="543.8" y="136.3"/><polyline clip-path="url(#c2)" points="387.8,128.5 392.18,130.3 395.93,130.6 481.27,132.2 543.8,133.3" fill="none" stroke="#ffd000" stroke-width="1.2" stroke-linejoin="round"/><use href="#m6" x="387.8" y="128.5"/><use href="#m6" x="396.01" y="130.6"/><use href="#m6" x="404.22" y="130.76"/><use href="#m6" x="412.43" y="130.91"/><use href="#m6" x="420.64" y="131.06"/><use href="#m6" x="428.85" y="131.22"/><use href="#m6" x="437.06" y="131.37"/><use href="#m6" x="445.27" y="131.53"/><use href="#m6" x="453.48" y="131.68"/><use href="#m6" x="461.69" y="131.83"/><use href="#m6" x="469.91" y="131.99"/><use href="#m6" x="478.12" y="132.14"/><use href="#m6" x="486.33" y="132.29"/><use href="#m6" x="494.54" y="132.43"/><use href="#m6" x="502.75" y="132.58"/><use href="#m6" x="510.96" y="132.72"/><use href="#m6" x="519.17" y="132.87"/><use href="#m6" x="527.38" y="133.01"/><use href="#m6" x="535.59" y="133.16"/><use href="#m6" x="543.8" y="133.3"/><polyline clip-path="url(#c2)" points="387.8,127.9 390.61,128.8 395.93,129 428.13,129.6 481.27,130.6 543.8,131.8" fill="none" stroke="#b93cff" stroke-width="1.2" stroke-linejoin="round"/><use href="#m7" x="387.8" y="127.9"/><use href="#m7" x="396.01" y="129"/><use href="#m7" x="404.22" y="129.15"/><use href="#m7" x="412.43" y="129.31"/><use href="#m7" x="420.64" y="129.46"/><use href="#m7" x="428.85" y="129.61"/><use href="#m7" x="437.06" y="129.77"/><use href="#m7" x="445.27" y="129.92"/><use href="#m7" x="453.48" y="130.08"/><use href="#m7" x="461.69" y="130.23"/><use href="#m7" x="469.91" y="130.39"/><use href="#m7" x="478.12" y="130.54"/><use href="#m7" x="486.33" y="130.7"/><use href="#m7" x="494.54" y="130.85"/><use href="#m7" x="502.75" y="131.01"/><use href="#m7" x="510.96" y="131.17"/><use href="#m7" x="519.17" y="131.33"/><use href="#m7" x="527.38" y="131.48"/><use href="#m7" x="535.59" y="131.64"/><use href="#m7" x="543.8" y="131.8"/><polyline clip-path="url(#c2)" points="387.8,132 393.74,134.8 543.8,136.2" fill="none" stroke="#dc1430" stroke-width="1.2" stroke-linejoin="round"/><use href="#m8" x="387.8" y="132"/><use href="#m8" x="396.01" y="134.82"/><use href="#m8" x="404.22" y="134.9"/><use href="#m8" x="412.43" y="134.97"/><use href="#m8" x="420.64" y="135.05"/><use href="#m8" x="428.85" y="135.13"/><use href="#m8" x="437.06" y="135.2"/><use href="#m8" x="445.27" y="135.28"/><use href="#m8" x="453.48" y="135.36"/><use href="#m8" x="461.69" y="135.43"/><use href="#m8" x="469.91" y="135.51"/><use href="#m8" x="478.12" y="135.59"/><use href="#m8" x="486.33" y="135.66"/><use href="#m8" x="494.54" y="135.74"/><use href="#m8" x="502.75" y="135.82"/><use href="#m8" x="510.96" y="135.89"/><use href="#m8" x="519.17" y="135.97"/><use href="#m8" x="527.38" y="136.05"/><use href="#m8" x="535.59" y="136.12"/><use href="#m8" x="543.8" y="136.2"/><polyline clip-path="url(#c2)" points="387.8,128.5 393.74,133.2 481.27,134.5 543.8,135.3" fill="none" stroke="#00ffff" stroke-width="1.2" stroke-linejoin="round"/><use href="#m9" x="387.8" y="128.5"/><use href="#m9" x="396.01" y="133.23"/><use href="#m9" x="404.22" y="133.36"/><use href="#m9" x="412.43" y="133.48"/><use href="#m9" x="420.64" y="133.6"/><use href="#m9" x="428.85" y="133.72"/><use href="#m9" x="437.06" y="133.84"/><use href="#m9" x="445.27" y="133.97"/><use href="#m9" x="453.48" y="134.09"/><use href="#m9" x="461.69" y="134.21"/><use href="#m9" x="469.91" y="134.33"/><use href="#m9" x="478.12" y="134.45"/><use href="#m9" x="486.33" y="134.56"/><use href="#m9" x="494.54" y="134.67"/><use href="#m9" x="502.75" y="134.77"/><use href="#m9" x="510.96" y="134.88"/><use href="#m9" x="519.17" y="134.98"/><use href="#m9" x="527.38" y="135.09"/><use href="#m9" x="535.59" y="135.19"/><use href="#m9" x="543.8" y="135.3"/><polyline clip-path="url(#c2)" points="387.8,135.1 389.36,135.6 543.8,136.7" fill="none" stroke="#ff6a00" stroke-width="1.2" stroke-linejoin="round"/><use href="#m10" x="387.8" y="135.1"/><use href="#m10" x="396.01" y="135.65"/><use href="#m10" x="404.22" y="135.71"/><use href="#m10" x="412.43" y="135.76"/><use href="#m10" x="420.64" y="135.82"/><use href="#m10" x="428.85" y="135.88"/><use href="#m10" x="437.06" y="135.94"/><use href="#m10" x="445.27" y="136"/><use href="#m10" x="453.48" y="136.06"/><use href="#m10" x="461.69" y="136.12"/><use href="#m10" x="469.91" y="136.17"/><use href="#m10" x="478.12" y="136.23"/><use href="#m10" x="486.33" y="136.29"/><use href="#m10" x="494.54" y="136.35"/><use href="#m10" x="502.75" y="136.41"/><use href="#m10" x="510.96" y="136.47"/><use href="#m10" x="519.17" y="136.52"/><use href="#m10" x="527.38" y="136.58"/><use href="#m10" x="535.59" y="136.64"/><use href="#m10" x="543.8" y="136.7"/><polyline clip-path="url(#c2)" points="387.8,128.7 391.86,132.8 395.93,133.2 481.27,134.3 543.8,135.1" fill="none" stroke="#20b0a4" stroke-width="1.2" stroke-linejoin="round"/><use href="#m11" x="387.8" y="128.7"/><use href="#m11" x="396.01" y="133.2"/><use href="#m11" x="404.22" y="133.31"/><use href="#m11" x="412.43" y="133.41"/><use href="#m11" x="420.64" y="133.52"/><use href="#m11" x="428.85" y="133.62"/><use href="#m11" x="437.06" y="133.73"/><use href="#m11" x="445.27" y="133.84"/><use href="#m11" x="453.48" y="133.94"/><use href="#m11" x="461.69" y="134.05"/><use href="#m11" x="469.91" y="134.15"/><use href="#m11" x="478.12" y="134.26"/><use href="#m11" x="486.33" y="134.36"/><use href="#m11" x="494.54" y="134.47"/><use href="#m11" x="502.75" y="134.57"/><use href="#m11" x="510.96" y="134.68"/><use href="#m11" x="519.17" y="134.78"/><use href="#m11" x="527.38" y="134.89"/><use href="#m11" x="535.59" y="134.99"/><use href="#m11" x="543.8" y="135.1"/><polyline clip-path="url(#c2)" points="387.8,131.3 392.49,134.8 543.8,136.1" fill="none" stroke="#8560f0" stroke-width="1.2" stroke-linejoin="round"/><use href="#m12" x="387.8" y="131.3"/><use href="#m12" x="396.01" y="134.83"/><use href="#m12" x="404.22" y="134.9"/><use href="#m12" x="412.43" y="134.97"/><use href="#m12" x="420.64" y="135.04"/><use href="#m12" x="428.85" y="135.11"/><use href="#m12" x="437.06" y="135.18"/><use href="#m12" x="445.27" y="135.25"/><use href="#m12" x="453.48" y="135.32"/><use href="#m12" x="461.69" y="135.39"/><use href="#m12" x="469.91" y="135.47"/><use href="#m12" x="478.12" y="135.54"/><use href="#m12" x="486.33" y="135.61"/><use href="#m12" x="494.54" y="135.68"/><use href="#m12" x="502.75" y="135.75"/><use href="#m12" x="510.96" y="135.82"/><use href="#m12" x="519.17" y="135.89"/><use href="#m12" x="527.38" y="135.96"/><use href="#m12" x="535.59" y="136.03"/><use href="#m12" x="543.8" y="136.1"/><polyline clip-path="url(#c2)" points="387.8,129.5 390.61,134 395.93,135 481.27,135.8 543.8,136.5" fill="none" stroke="#00ff00" stroke-width="1.2" stroke-linejoin="round"/><use href="#m13" x="387.8" y="129.5"/><use href="#m13" x="396.01" y="135"/><use href="#m13" x="404.22" y="135.08"/><use href="#m13" x="412.43" y="135.15"/><use href="#m13" x="420.64" y="135.23"/><use href="#m13" x="428.85" y="135.31"/><use href="#m13" x="437.06" y="135.39"/><use href="#m13" x="445.27" y="135.46"/><use href="#m13" x="453.48" y="135.54"/><use href="#m13" x="461.69" y="135.62"/><use href="#m13" x="469.91" y="135.69"/><use href="#m13" x="478.12" y="135.77"/><use href="#m13" x="486.33" y="135.86"/><use href="#m13" x="494.54" y="135.95"/><use href="#m13" x="502.75" y="136.04"/><use href="#m13" x="510.96" y="136.13"/><use href="#m13" x="519.17" y="136.22"/><use href="#m13" x="527.38" y="136.32"/><use href="#m13" x="535.59" y="136.41"/><use href="#m13" x="543.8" y="136.5"/><polyline clip-path="url(#c2)" points="387.8,129 391.86,133 395.93,133.3 481.27,134.4 543.8,135.2" fill="none" stroke="#00a4d4" stroke-width="1.2" stroke-linejoin="round"/><use href="#m14" x="387.8" y="129"/><use href="#m14" x="396.01" y="133.3"/><use href="#m14" x="404.22" y="133.41"/><use href="#m14" x="412.43" y="133.51"/><use href="#m14" x="420.64" y="133.62"/><use href="#m14" x="428.85" y="133.72"/><use href="#m14" x="437.06" y="133.83"/><use href="#m14" x="445.27" y="133.94"/><use href="#m14" x="453.48" y="134.04"/><use href="#m14" x="461.69" y="134.15"/><use href="#m14" x="469.91" y="134.25"/><use href="#m14" x="478.12" y="134.36"/><use href="#m14" x="486.33" y="134.46"/><use href="#m14" x="494.54" y="134.57"/><use href="#m14" x="502.75" y="134.67"/><use href="#m14" x="510.96" y="134.78"/><use href="#m14" x="519.17" y="134.88"/><use href="#m14" x="527.38" y="134.99"/><use href="#m14" x="535.59" y="135.09"/><use href="#m14" x="543.8" y="135.2"/>
<rect x="496.47" y="18.01" width="43.71" height="86.72" fill="#fff" stroke="#555" stroke-width="0.5"/>
<g font-size="4.3" fill="#111" stroke="#111" stroke-width="0.04"><path d="M498.47 21.85H512.47" stroke="#ff0000" stroke-width="1.2"/><use href="#m0" x="505.47" y="21.85"/><text x="514.07" y="23.4">COA</text><path d="M498.47 27.54H512.47" stroke="#0000ff" stroke-width="1.2"/><use href="#m1" x="505.47" y="27.54"/><text x="514.07" y="29.09">CMRLCCOA</text><path d="M498.47 33.23H512.47" stroke="#4cae1e" stroke-width="1.2"/><use href="#m2" x="505.47" y="33.23"/><text x="514.07" y="34.78">KOA</text><path d="M498.47 38.92H512.47" stroke="#ffa500" stroke-width="1.2"/><use href="#m3" x="505.47" y="38.92"/><text x="514.07" y="40.47">SWO</text><path d="M498.47 44.61H512.47" stroke="#ff66dd" stroke-width="1.2"/><use href="#m4" x="505.47" y="44.61"/><text x="514.07" y="46.16">GMO</text><path d="M498.47 50.29H512.47" stroke="#a02020" stroke-width="1.2"/><use href="#m5" x="505.47" y="50.29"/><text x="514.07" y="51.84">DMA</text><path d="M498.47 55.98H512.47" stroke="#ffd000" stroke-width="1.2"/><use href="#m6" x="505.47" y="55.98"/><text x="514.07" y="57.53">TROA</text><path d="M498.47 61.67H512.47" stroke="#b93cff" stroke-width="1.2"/><use href="#m7" x="505.47" y="61.67"/><text x="514.07" y="63.22">GO</text><path d="M498.47 67.36H512.47" stroke="#dc1430" stroke-width="1.2"/><use href="#m8" x="505.47" y="67.36"/><text x="514.07" y="68.91">PSO</text><path d="M498.47 73.05H512.47" stroke="#00ffff" stroke-width="1.2"/><use href="#m9" x="505.47" y="73.05"/><text x="514.07" y="74.6">DE</text><path d="M498.47 78.74H512.47" stroke="#ff6a00" stroke-width="1.2"/><use href="#m10" x="505.47" y="78.74"/><text x="514.07" y="80.29">SA</text><path d="M498.47 84.42H512.47" stroke="#20b0a4" stroke-width="1.2"/><use href="#m11" x="505.47" y="84.42"/><text x="514.07" y="85.97">ABC</text><path d="M498.47 90.11H512.47" stroke="#8560f0" stroke-width="1.2"/><use href="#m12" x="505.47" y="90.11"/><text x="514.07" y="91.66">ISSA</text><path d="M498.47 95.8H512.47" stroke="#00ff00" stroke-width="1.2"/><use href="#m13" x="505.47" y="95.8"/><text x="514.07" y="97.35">IGWO</text><path d="M498.47 101.49H512.47" stroke="#00a4d4" stroke-width="1.2"/><use href="#m14" x="505.47" y="101.49"/><text x="514.07" y="103.04">EWOA</text></g>
<!-- cec09 -->
<clipPath id="c3"><rect x="22.3" y="175.1" width="155.5" height="122.2"/></clipPath>
<rect x="22.3" y="175.4" width="155.2" height="121.6" fill="#fff" stroke="#606060" stroke-width="0.6"/>
<path d="M37.54 297v-1.6 M37.54 175.4v1.6 M53.09 297v-1.6 M53.09 175.4v1.6 M68.64 297v-1.6 M68.64 175.4v1.6 M84.19 297v-1.6 M84.19 175.4v1.6 M99.74 297v-1.6 M99.74 175.4v1.6 M115.3 297v-1.6 M115.3 175.4v1.6 M130.85 297v-1.6 M130.85 175.4v1.6 M146.4 297v-1.6 M146.4 175.4v1.6 M161.95 297v-1.6 M161.95 175.4v1.6 M177.5 297v-1.6 M177.5 175.4v1.6 M22.3 188.4h1.6 M177.5 188.4h-1.6 M22.3 206.82h1.6 M177.5 206.82h-1.6 M22.3 225.24h1.6 M177.5 225.24h-1.6 M22.3 243.66h1.6 M177.5 243.66h-1.6 M22.3 262.08h1.6 M177.5 262.08h-1.6 M22.3 280.5h1.6 M177.5 280.5h-1.6" stroke="#606060" stroke-width="0.5" fill="none"/>
<g font-size="4.97" fill="#303030"><g text-anchor="middle"><text x="37.54" y="304.66">50</text><text x="53.09" y="304.66">100</text><text x="68.64" y="304.66">150</text><text x="84.19" y="304.66">200</text><text x="99.74" y="304.66">250</text><text x="115.3" y="304.66">300</text><text x="130.85" y="304.66">350</text><text x="146.4" y="304.66">400</text><text x="161.95" y="304.66">450</text><text x="177.5" y="304.66">500</text></g><g text-anchor="end"><text x="20.3" y="190.19">3</text><text x="20.3" y="208.61">2.5</text><text x="20.3" y="227.03">2</text><text x="20.3" y="245.45">1.5</text><text x="20.3" y="263.87">1</text><text x="20.3" y="282.29">0.5</text></g><text x="23.1" y="174.5" font-size="4.78">×10<tspan dy="-2.29" font-size="3.88">8</tspan></text></g>
<text x="99.9" y="173.01" font-size="7.21" text-anchor="middle" fill="#111">cec09</text>
<text x="99.9" y="313.12" font-size="6.86" text-anchor="middle" fill="#262626">Iteration</text>
<text transform="translate(10.66 236.2) rotate(-90)" font-size="6.77" text-anchor="middle" fill="#262626">Fitness value</text>
<polyline clip-path="url(#c3)" points="22.3,294 24.48,295.5 30.39,296.3 177.5,297" fill="none" stroke="#ff0000" stroke-width="1.2" stroke-linejoin="round"/><use href="#m0" x="22.3" y="294"/><use href="#m0" x="30.47" y="296.3"/><use href="#m0" x="38.64" y="296.34"/><use href="#m0" x="46.81" y="296.38"/><use href="#m0" x="54.97" y="296.42"/><use href="#m0" x="63.14" y="296.46"/><use href="#m0" x="71.31" y="296.49"/><use href="#m0" x="79.48" y="296.53"/><use href="#m0" x="87.65" y="296.57"/><use href="#m0" x="95.82" y="296.61"/><use href="#m0" x="103.98" y="296.65"/><use href="#m0" x="112.15" y="296.69"/><use href="#m0" x="120.32" y="296.73"/><use href="#m0" x="128.49" y="296.77"/><use href="#m0" x="136.66" y="296.81"/><use href="#m0" x="144.83" y="296.84"/><use href="#m0" x="152.99" y="296.88"/><use href="#m0" x="161.16" y="296.92"/><use href="#m0" x="169.33" y="296.96"/><use href="#m0" x="177.5" y="297"/><polyline clip-path="url(#c3)" points="22.3,175.4 22.61,265 23.23,287 24.48,292 26.65,295.5 177.5,296.8" fill="none" stroke="#0000ff" stroke-width="1.2" stroke-linejoin="round"/><use href="#m1" x="22.3" y="175.4"/><use href="#m1" x="30.47" y="295.53"/><use href="#m1" x="38.64" y="295.6"/><use href="#m1" x="46.81" y="295.67"/><use href="#m1" x="54.97" y="295.74"/><use href="#m1" x="63.14" y="295.81"/><use href="#m1" x="71.31" y="295.88"/><use href="#m1" x="79.48" y="295.96"/><use href="#m1" x="87.65" y="296.03"/><use href="#m1" x="95.82" y="296.1"/><use href="#m1" x="103.98" y="296.17"/><use href="#m1" x="112.15" y="296.24"/><use href="#m1" x="120.32" y="296.31"/><use href="#m1" x="128.49" y="296.38"/><use href="#m1" x="136.66" y="296.45"/><use href="#m1" x="144.83" y="296.52"/><use href="#m1" x="152.99" y="296.59"/><use href="#m1" x="161.16" y="296.66"/><use href="#m1" x="169.33" y="296.73"/><use href="#m1" x="177.5" y="296.8"/><polyline clip-path="url(#c3)" points="22.3,287 26.65,292.5 177.5,294.3" fill="none" stroke="#4cae1e" stroke-width="1.2" stroke-linejoin="round"/><use href="#m2" x="22.3" y="287"/><use href="#m2" x="30.47" y="292.55"/><use href="#m2" x="38.64" y="292.64"/><use href="#m2" x="46.81" y="292.74"/><use href="#m2" x="54.97" y="292.84"/><use href="#m2" x="63.14" y="292.94"/><use href="#m2" x="71.31" y="293.03"/><use href="#m2" x="79.48" y="293.13"/><use href="#m2" x="87.65" y="293.23"/><use href="#m2" x="95.82" y="293.33"/><use href="#m2" x="103.98" y="293.42"/><use href="#m2" x="112.15" y="293.52"/><use href="#m2" x="120.32" y="293.62"/><use href="#m2" x="128.49" y="293.72"/><use href="#m2" x="136.66" y="293.81"/><use href="#m2" x="144.83" y="293.91"/><use href="#m2" x="152.99" y="294.01"/><use href="#m2" x="161.16" y="294.11"/><use href="#m2" x="169.33" y="294.2"/><use href="#m2" x="177.5" y="294.3"/><polyline clip-path="url(#c3)" points="22.3,286.5 26.65,292.2 115.3,293.9 177.5,294.2" fill="none" stroke="#ffa500" stroke-width="1.2" stroke-linejoin="round"/><use href="#m3" x="22.3" y="286.5"/><use href="#m3" x="30.47" y="292.27"/><use href="#m3" x="38.64" y="292.43"/><use href="#m3" x="46.81" y="292.59"/><use href="#m3" x="54.97" y="292.74"/><use href="#m3" x="63.14" y="292.9"/><use href="#m3" x="71.31" y="293.06"/><use href="#m3" x="79.48" y="293.21"/><use href="#m3" x="87.65" y="293.37"/><use href="#m3" x="95.82" y="293.53"/><use href="#m3" x="103.98" y="293.68"/><use href="#m3" x="112.15" y="293.84"/><use href="#m3" x="120.32" y="293.92"/><use href="#m3" x="128.49" y="293.96"/><use href="#m3" x="136.66" y="294"/><use href="#m3" x="144.83" y="294.04"/><use href="#m3" x="152.99" y="294.08"/><use href="#m3" x="161.16" y="294.12"/><use href="#m3" x="169.33" y="294.16"/><use href="#m3" x="177.5" y="294.2"/><polyline clip-path="url(#c3)" points="22.3,294.8 24.48,295.6 30.39,296.4 177.5,297.1" fill="none" stroke="#ff66dd" stroke-width="1.2" stroke-linejoin="round"/><use href="#m4" x="22.3" y="294.8"/><use href="#m4" x="30.47" y="296.4"/><use href="#m4" x="38.64" y="296.44"/><use href="#m4" x="46.81" y="296.48"/><use href="#m4" x="54.97" y="296.52"/><use href="#m4" x="63.14" y="296.56"/><use href="#m4" x="71.31" y="296.59"/><use href="#m4" x="79.48" y="296.63"/><use href="#m4" x="87.65" y="296.67"/><use href="#m4" x="95.82" y="296.71"/><use href="#m4" x="103.98" y="296.75"/><use href="#m4" x="112.15" y="296.79"/><use href="#m4" x="120.32" y="296.83"/><use href="#m4" x="128.49" y="296.87"/><use href="#m4" x="136.66" y="296.91"/><use href="#m4" x="144.83" y="296.94"/><use href="#m4" x="152.99" y="296.98"/><use href="#m4" x="161.16" y="297.02"/><use href="#m4" x="169.33" y="297.06"/><use href="#m4" x="177.5" y="297.1"/><polyline clip-path="url(#c3)" points="22.3,293 26.34,295 34.43,295.8 177.5,296.6" fill="none" stroke="#a02020" stroke-width="1.2" stroke-linejoin="round"/><use href="#m5" x="22.3" y="293"/><use href="#m5" x="30.47" y="295.41"/><use href="#m5" x="38.64" y="295.82"/><use href="#m5" x="46.81" y="295.87"/><use href="#m5" x="54.97" y="295.91"/><use href="#m5" x="63.14" y="295.96"/><use href="#m5" x="71.31" y="296.01"/><use href="#m5" x="79.48" y="296.05"/><use href="#m5" x="87.65" y="296.1"/><use href="#m5" x="95.82" y="296.14"/><use href="#m5" x="103.98" y="296.19"/><use href="#m5" x="112.15" y="296.23"/><use href="#m5" x="120.32" y="296.28"/><use href="#m5" x="128.49" y="296.33"/><use href="#m5" x="136.66" y="296.37"/><use href="#m5" x="144.83" y="296.42"/><use href="#m5" x="152.99" y="296.46"/><use href="#m5" x="161.16" y="296.51"/><use href="#m5" x="169.33" y="296.55"/><use href="#m5" x="177.5" y="296.6"/><polyline clip-path="url(#c3)" points="22.3,286 26.65,291.8 30.39,292.3 115.3,293.6 177.5,294" fill="none" stroke="#ffd000" stroke-width="1.2" stroke-linejoin="round"/><use href="#m6" x="22.3" y="286"/><use href="#m6" x="30.47" y="292.3"/><use href="#m6" x="38.64" y="292.43"/><use href="#m6" x="46.81" y="292.55"/><use href="#m6" x="54.97" y="292.68"/><use href="#m6" x="63.14" y="292.8"/><use href="#m6" x="71.31" y="292.93"/><use href="#m6" x="79.48" y="293.05"/><use href="#m6" x="87.65" y="293.18"/><use href="#m6" x="95.82" y="293.3"/><use href="#m6" x="103.98" y="293.43"/><use href="#m6" x="112.15" y="293.55"/><use href="#m6" x="120.32" y="293.63"/><use href="#m6" x="128.49" y="293.68"/><use href="#m6" x="136.66" y="293.74"/><use href="#m6" x="144.83" y="293.79"/><use href="#m6" x="152.99" y="293.84"/><use href="#m6" x="161.16" y="293.89"/><use href="#m6" x="169.33" y="293.95"/><use href="#m6" x="177.5" y="294"/><polyline clip-path="url(#c3)" points="22.3,284.5 24.48,289 30.39,290 38.47,290 43.14,290.1 43.76,291.5 115.3,292.2 177.5,292.5" fill="none" stroke="#b93cff" stroke-width="1.2" stroke-linejoin="round"/><use href="#m7" x="22.3" y="284.5"/><use href="#m7" x="30.47" y="290"/><use href="#m7" x="38.64" y="290"/><use href="#m7" x="46.81" y="291.53"/><use href="#m7" x="54.97" y="291.61"/><use href="#m7" x="63.14" y="291.69"/><use href="#m7" x="71.31" y="291.77"/><use href="#m7" x="79.48" y="291.85"/><use href="#m7" x="87.65" y="291.93"/><use href="#m7" x="95.82" y="292.01"/><use href="#m7" x="103.98" y="292.09"/><use href="#m7" x="112.15" y="292.17"/><use href="#m7" x="120.32" y="292.22"/><use href="#m7" x="128.49" y="292.26"/><use href="#m7" x="136.66" y="292.3"/><use href="#m7" x="144.83" y="292.34"/><use href="#m7" x="152.99" y="292.38"/><use href="#m7" x="161.16" y="292.42"/><use href="#m7" x="169.33" y="292.46"/><use href="#m7" x="177.5" y="292.5"/><polyline clip-path="url(#c3)" points="22.3,292.2 28.21,295.3 177.5,296.5" fill="none" stroke="#dc1430" stroke-width="1.2" stroke-linejoin="round"/><use href="#m8" x="22.3" y="292.2"/><use href="#m8" x="30.47" y="295.32"/><use href="#m8" x="38.64" y="295.38"/><use href="#m8" x="46.81" y="295.45"/><use href="#m8" x="54.97" y="295.52"/><use href="#m8" x="63.14" y="295.58"/><use href="#m8" x="71.31" y="295.65"/><use href="#m8" x="79.48" y="295.71"/><use href="#m8" x="87.65" y="295.78"/><use href="#m8" x="95.82" y="295.84"/><use href="#m8" x="103.98" y="295.91"/><use href="#m8" x="112.15" y="295.97"/><use href="#m8" x="120.32" y="296.04"/><use href="#m8" x="128.49" y="296.11"/><use href="#m8" x="136.66" y="296.17"/><use href="#m8" x="144.83" y="296.24"/><use href="#m8" x="152.99" y="296.3"/><use href="#m8" x="161.16" y="296.37"/><use href="#m8" x="169.33" y="296.43"/><use href="#m8" x="177.5" y="296.5"/><polyline clip-path="url(#c3)" points="22.3,286.5 25.1,290.2 30.39,293.7 38.47,294.4 177.5,295.8" fill="none" stroke="#00ffff" stroke-width="1.2" stroke-linejoin="round"/><use href="#m9" x="22.3" y="286.5"/><use href="#m9" x="30.47" y="293.71"/><use href="#m9" x="38.64" y="294.4"/><use href="#m9" x="46.81" y="294.48"/><use href="#m9" x="54.97" y="294.57"/><use href="#m9" x="63.14" y="294.65"/><use href="#m9" x="71.31" y="294.73"/><use href="#m9" x="79.48" y="294.81"/><use href="#m9" x="87.65" y="294.9"/><use href="#m9" x="95.82" y="294.98"/><use href="#m9" x="103.98" y="295.06"/><use href="#m9" x="112.15" y="295.14"/><use href="#m9" x="120.32" y="295.22"/><use href="#m9" x="128.49" y="295.31"/><use href="#m9" x="136.66" y="295.39"/><use href="#m9" x="144.83" y="295.47"/><use href="#m9" x="152.99" y="295.55"/><use href="#m9" x="161.16" y="295.64"/><use href="#m9" x="169.33" y="295.72"/><use href="#m9" x="177.5" y="295.8"/><polyline clip-path="url(#c3)" points="22.3,295.3 23.86,295.8 177.5,297" fill="none" stroke="#ff6a00" stroke-width="1.2" stroke-linejoin="round"/><use href="#m10" x="22.3" y="295.3"/><use href="#m10" x="30.47" y="295.85"/><use href="#m10" x="38.64" y="295.92"/><use href="#m10" x="46.81" y="295.98"/><use href="#m10" x="54.97" y="296.04"/><use href="#m10" x="63.14" y="296.11"/><use href="#m10" x="71.31" y="296.17"/><use href="#m10" x="79.48" y="296.23"/><use href="#m10" x="87.65" y="296.3"/><use href="#m10" x="95.82" y="296.36"/><use href="#m10" x="103.98" y="296.43"/><use href="#m10" x="112.15" y="296.49"/><use href="#m10" x="120.32" y="296.55"/><use href="#m10" x="128.49" y="296.62"/><use href="#m10" x="136.66" y="296.68"/><use href="#m10" x="144.83" y="296.74"/><use href="#m10" x="152.99" y="296.81"/><use href="#m10" x="161.16" y="296.87"/><use href="#m10" x="169.33" y="296.94"/><use href="#m10" x="177.5" y="297"/><polyline clip-path="url(#c3)" points="22.3,286.8 25.1,290 30.39,293.5 38.47,294.2 177.5,295.6" fill="none" stroke="#20b0a4" stroke-width="1.2" stroke-linejoin="round"/><use href="#m11" x="22.3" y="286.8"/><use href="#m11" x="30.47" y="293.51"/><use href="#m11" x="38.64" y="294.2"/><use href="#m11" x="46.81" y="294.28"/><use href="#m11" x="54.97" y="294.37"/><use href="#m11" x="63.14" y="294.45"/><use href="#m11" x="71.31" y="294.53"/><use href="#m11" x="79.48" y="294.61"/><use href="#m11" x="87.65" y="294.7"/><use href="#m11" x="95.82" y="294.78"/><use href="#m11" x="103.98" y="294.86"/><use href="#m11" x="112.15" y="294.94"/><use href="#m11" x="120.32" y="295.02"/><use href="#m11" x="128.49" y="295.11"/><use href="#m11" x="136.66" y="295.19"/><use href="#m11" x="144.83" y="295.27"/><use href="#m11" x="152.99" y="295.35"/><use href="#m11" x="161.16" y="295.44"/><use href="#m11" x="169.33" y="295.52"/><use href="#m11" x="177.5" y="295.6"/><polyline clip-path="url(#c3)" points="22.3,291.5 26.97,295.2 177.5,296.4" fill="none" stroke="#8560f0" stroke-width="1.2" stroke-linejoin="round"/><use href="#m12" x="22.3" y="291.5"/><use href="#m12" x="30.47" y="295.23"/><use href="#m12" x="38.64" y="295.29"/><use href="#m12" x="46.81" y="295.36"/><use href="#m12" x="54.97" y="295.42"/><use href="#m12" x="63.14" y="295.49"/><use href="#m12" x="71.31" y="295.55"/><use href="#m12" x="79.48" y="295.62"/><use href="#m12" x="87.65" y="295.68"/><use href="#m12" x="95.82" y="295.75"/><use href="#m12" x="103.98" y="295.81"/><use href="#m12" x="112.15" y="295.88"/><use href="#m12" x="120.32" y="295.94"/><use href="#m12" x="128.49" y="296.01"/><use href="#m12" x="136.66" y="296.07"/><use href="#m12" x="144.83" y="296.14"/><use href="#m12" x="152.99" y="296.2"/><use href="#m12" x="161.16" y="296.27"/><use href="#m12" x="169.33" y="296.33"/><use href="#m12" x="177.5" y="296.4"/><polyline clip-path="url(#c3)" points="22.3,287.5 25.1,294.3 30.39,295.6 177.5,297.1" fill="none" stroke="#00ff00" stroke-width="1.2" stroke-linejoin="round"/><use href="#m13" x="22.3" y="287.5"/><use href="#m13" x="30.47" y="295.6"/><use href="#m13" x="38.64" y="295.68"/><use href="#m13" x="46.81" y="295.77"/><use href="#m13" x="54.97" y="295.85"/><use href="#m13" x="63.14" y="295.93"/><use href="#m13" x="71.31" y="296.02"/><use href="#m13" x="79.48" y="296.1"/><use href="#m13" x="87.65" y="296.18"/><use href="#m13" x="95.82" y="296.27"/><use href="#m13" x="103.98" y="296.35"/><use href="#m13" x="112.15" y="296.43"/><use href="#m13" x="120.32" y="296.52"/><use href="#m13" x="128.49" y="296.6"/><use href="#m13" x="136.66" y="296.68"/><use href="#m13" x="144.83" y="296.77"/><use href="#m13" x="152.99" y="296.85"/><use href="#m13" x="161.16" y="296.93"/><use href="#m13" x="169.33" y="297.02"/><use href="#m13" x="177.5" y="297.1"/><polyline clip-path="url(#c3)" points="22.3,287 25.1,290.1 30.39,293.6 38.47,294.3 177.5,295.7" fill="none" stroke="#00a4d4" stroke-width="1.2" stroke-linejoin="round"/><use href="#m14" x="22.3" y="287"/><use href="#m14" x="30.47" y="293.61"/><use href="#m14" x="38.64" y="294.3"/><use href="#m14" x="46.81" y="294.38"/><use href="#m14" x="54.97" y="294.47"/><use href="#m14" x="63.14" y="294.55"/><use href="#m14" x="71.31" y="294.63"/><use href="#m14" x="79.48" y="294.71"/><use href="#m14" x="87.65" y="294.8"/><use href="#m14" x="95.82" y="294.88"/><use href="#m14" x="103.98" y="294.96"/><use href="#m14" x="112.15" y="295.04"/><use href="#m14" x="120.32" y="295.12"/><use href="#m14" x="128.49" y="295.21"/><use href="#m14" x="136.66" y="295.29"/><use href="#m14" x="144.83" y="295.37"/><use href="#m14" x="152.99" y="295.45"/><use href="#m14" x="161.16" y="295.54"/><use href="#m14" x="169.33" y="295.62"/><use href="#m14" x="177.5" y="295.7"/>
<rect x="130.41" y="178.99" width="43.49" height="86.15" fill="#fff" stroke="#555" stroke-width="0.5"/>
<g font-size="4.28" fill="#111" stroke="#111" stroke-width="0.04"><path d="M132.4 182.81H146.33" stroke="#ff0000" stroke-width="1.2"/><use href="#m0" x="139.37" y="182.81"/><text x="147.92" y="184.35">COA</text><path d="M132.4 188.46H146.33" stroke="#0000ff" stroke-width="1.2"/><use href="#m1" x="139.37" y="188.46"/><text x="147.92" y="190">CMRLCCOA</text><path d="M132.4 194.11H146.33" stroke="#4cae1e" stroke-width="1.2"/><use href="#m2" x="139.37" y="194.11"/><text x="147.92" y="195.65">KOA</text><path d="M132.4 199.76H146.33" stroke="#ffa500" stroke-width="1.2"/><use href="#m3" x="139.37" y="199.76"/><text x="147.92" y="201.3">SWO</text><path d="M132.4 205.41H146.33" stroke="#ff66dd" stroke-width="1.2"/><use href="#m4" x="139.37" y="205.41"/><text x="147.92" y="206.95">GMO</text><path d="M132.4 211.06H146.33" stroke="#a02020" stroke-width="1.2"/><use href="#m5" x="139.37" y="211.06"/><text x="147.92" y="212.6">DMA</text><path d="M132.4 216.71H146.33" stroke="#ffd000" stroke-width="1.2"/><use href="#m6" x="139.37" y="216.71"/><text x="147.92" y="218.25">TROA</text><path d="M132.4 222.36H146.33" stroke="#b93cff" stroke-width="1.2"/><use href="#m7" x="139.37" y="222.36"/><text x="147.92" y="223.9">GO</text><path d="M132.4 228.01H146.33" stroke="#dc1430" stroke-width="1.2"/><use href="#m8" x="139.37" y="228.01"/><text x="147.92" y="229.56">PSO</text><path d="M132.4 233.66H146.33" stroke="#00ffff" stroke-width="1.2"/><use href="#m9" x="139.37" y="233.66"/><text x="147.92" y="235.21">DE</text><path d="M132.4 239.31H146.33" stroke="#ff6a00" stroke-width="1.2"/><use href="#m10" x="139.37" y="239.31"/><text x="147.92" y="240.86">SA</text><path d="M132.4 244.97H146.33" stroke="#20b0a4" stroke-width="1.2"/><use href="#m11" x="139.37" y="244.97"/><text x="147.92" y="246.51">ABC</text><path d="M132.4 250.62H146.33" stroke="#8560f0" stroke-width="1.2"/><use href="#m12" x="139.37" y="250.62"/><text x="147.92" y="252.16">ISSA</text><path d="M132.4 256.27H146.33" stroke="#00ff00" stroke-width="1.2"/><use href="#m13" x="139.37" y="256.27"/><text x="147.92" y="257.81">IGWO</text><path d="M132.4 261.92H146.33" stroke="#00a4d4" stroke-width="1.2"/><use href="#m14" x="139.37" y="261.92"/><text x="147.92" y="263.46">EWOA</text></g>
<!-- cec12 -->
<clipPath id="c4"><rect x="203.8" y="175.1" width="156.5" height="123.2"/></clipPath>
<rect x="203.8" y="175.4" width="156.2" height="122.6" fill="#fff" stroke="#606060" stroke-width="0.6"/>
<path d="M219.14 298v-1.6 M219.14 175.4v1.6 M234.79 298v-1.6 M234.79 175.4v1.6 M250.44 298v-1.6 M250.44 175.4v1.6 M266.09 298v-1.6 M266.09 175.4v1.6 M281.74 298v-1.6 M281.74 175.4v1.6 M297.39 298v-1.6 M297.39 175.4v1.6 M313.05 298v-1.6 M313.05 175.4v1.6 M328.7 298v-1.6 M328.7 175.4v1.6 M344.35 298v-1.6 M344.35 175.4v1.6 M360 298v-1.6 M360 175.4v1.6 M203.8 180.7h1.6 M360 180.7h-1.6 M203.8 195.41h1.6 M360 195.41h-1.6 M203.8 210.12h1.6 M360 210.12h-1.6 M203.8 224.83h1.6 M360 224.83h-1.6 M203.8 239.54h1.6 M360 239.54h-1.6 M203.8 254.25h1.6 M360 254.25h-1.6 M203.8 268.96h1.6 M360 268.96h-1.6 M203.8 283.67h1.6 M360 283.67h-1.6" stroke="#606060" stroke-width="0.5" fill="none"/>
<g font-size="5.01" fill="#303030"><g text-anchor="middle"><text x="219.14" y="305.71">50</text><text x="234.79" y="305.71">100</text><text x="250.44" y="305.71">150</text><text x="266.09" y="305.71">200</text><text x="281.74" y="305.71">250</text><text x="297.39" y="305.71">300</text><text x="313.05" y="305.71">350</text><text x="328.7" y="305.71">400</text><text x="344.35" y="305.71">450</text><text x="360" y="305.71">500</text></g><g text-anchor="end"><text x="201.8" y="182.5">4</text><text x="201.8" y="197.21">3.5</text><text x="201.8" y="211.92">3</text><text x="201.8" y="226.63">2.5</text><text x="201.8" y="241.34">2</text><text x="201.8" y="256.05">1.5</text><text x="201.8" y="270.76">1</text><text x="201.8" y="285.47">0.5</text></g><text x="204.6" y="174.5" font-size="4.81">×10<tspan dy="-2.3" font-size="3.9">12</tspan></text></g>
<text x="281.9" y="173" font-size="7.26" text-anchor="middle" fill="#111">cec12</text>
<text x="281.9" y="314.22" font-size="6.91" text-anchor="middle" fill="#262626">Iteration</text>
<text transform="translate(192.09 236.7) rotate(-90)" font-size="6.81" text-anchor="middle" fill="#262626">Fitness value</text>
<polyline clip-path="url(#c4)" points="203.8,287 208.18,289.5 211.94,291 220.08,291.4 360,291.7" fill="none" stroke="#ff0000" stroke-width="1.2" stroke-linejoin="round"/><use href="#m0" x="203.8" y="287"/><use href="#m0" x="212.02" y="291"/><use href="#m0" x="220.24" y="291.4"/><use href="#m0" x="228.46" y="291.42"/><use href="#m0" x="236.68" y="291.44"/><use href="#m0" x="244.91" y="291.45"/><use href="#m0" x="253.13" y="291.47"/><use href="#m0" x="261.35" y="291.49"/><use href="#m0" x="269.57" y="291.51"/><use href="#m0" x="277.79" y="291.52"/><use href="#m0" x="286.01" y="291.54"/><use href="#m0" x="294.23" y="291.56"/><use href="#m0" x="302.45" y="291.58"/><use href="#m0" x="310.67" y="291.59"/><use href="#m0" x="318.89" y="291.61"/><use href="#m0" x="327.12" y="291.63"/><use href="#m0" x="335.34" y="291.65"/><use href="#m0" x="343.56" y="291.66"/><use href="#m0" x="351.78" y="291.68"/><use href="#m0" x="360" y="291.7"/><polyline clip-path="url(#c4)" points="203.8,175.4 204.11,262 204.74,284 205.99,292.8 212.88,295.6 220.08,297 360,297.8" fill="none" stroke="#0000ff" stroke-width="1.2" stroke-linejoin="round"/><use href="#m1" x="203.8" y="175.4"/><use href="#m1" x="212.02" y="295.25"/><use href="#m1" x="220.24" y="297"/><use href="#m1" x="228.46" y="297.05"/><use href="#m1" x="236.68" y="297.09"/><use href="#m1" x="244.91" y="297.14"/><use href="#m1" x="253.13" y="297.19"/><use href="#m1" x="261.35" y="297.24"/><use href="#m1" x="269.57" y="297.28"/><use href="#m1" x="277.79" y="297.33"/><use href="#m1" x="286.01" y="297.38"/><use href="#m1" x="294.23" y="297.42"/><use href="#m1" x="302.45" y="297.47"/><use href="#m1" x="310.67" y="297.52"/><use href="#m1" x="318.89" y="297.56"/><use href="#m1" x="327.12" y="297.61"/><use href="#m1" x="335.34" y="297.66"/><use href="#m1" x="343.56" y="297.71"/><use href="#m1" x="351.78" y="297.75"/><use href="#m1" x="360" y="297.8"/><polyline clip-path="url(#c4)" points="203.8,284 205.99,287 219.14,287.2 219.76,292 222.27,293 360,293.6" fill="none" stroke="#4cae1e" stroke-width="1.2" stroke-linejoin="round"/><use href="#m2" x="203.8" y="284"/><use href="#m2" x="212.02" y="287.09"/><use href="#m2" x="220.24" y="292.19"/><use href="#m2" x="228.46" y="293.03"/><use href="#m2" x="236.68" y="293.06"/><use href="#m2" x="244.91" y="293.1"/><use href="#m2" x="253.13" y="293.13"/><use href="#m2" x="261.35" y="293.17"/><use href="#m2" x="269.57" y="293.21"/><use href="#m2" x="277.79" y="293.24"/><use href="#m2" x="286.01" y="293.28"/><use href="#m2" x="294.23" y="293.31"/><use href="#m2" x="302.45" y="293.35"/><use href="#m2" x="310.67" y="293.39"/><use href="#m2" x="318.89" y="293.42"/><use href="#m2" x="327.12" y="293.46"/><use href="#m2" x="335.34" y="293.49"/><use href="#m2" x="343.56" y="293.53"/><use href="#m2" x="351.78" y="293.56"/><use href="#m2" x="360" y="293.6"/><polyline clip-path="url(#c4)" points="203.8,285.5 209.75,290.6 220.08,292.3 360,292.7" fill="none" stroke="#ffa500" stroke-width="1.2" stroke-linejoin="round"/><use href="#m3" x="203.8" y="285.5"/><use href="#m3" x="212.02" y="290.97"/><use href="#m3" x="220.24" y="292.3"/><use href="#m3" x="228.46" y="292.32"/><use href="#m3" x="236.68" y="292.35"/><use href="#m3" x="244.91" y="292.37"/><use href="#m3" x="253.13" y="292.39"/><use href="#m3" x="261.35" y="292.42"/><use href="#m3" x="269.57" y="292.44"/><use href="#m3" x="277.79" y="292.46"/><use href="#m3" x="286.01" y="292.49"/><use href="#m3" x="294.23" y="292.51"/><use href="#m3" x="302.45" y="292.54"/><use href="#m3" x="310.67" y="292.56"/><use href="#m3" x="318.89" y="292.58"/><use href="#m3" x="327.12" y="292.61"/><use href="#m3" x="335.34" y="292.63"/><use href="#m3" x="343.56" y="292.65"/><use href="#m3" x="351.78" y="292.68"/><use href="#m3" x="360" y="292.7"/><polyline clip-path="url(#c4)" points="203.8,295.8 205.99,296.5 211.94,297.6 360,298.1" fill="none" stroke="#ff66dd" stroke-width="1.2" stroke-linejoin="round"/><use href="#m4" x="203.8" y="295.8"/><use href="#m4" x="212.02" y="297.6"/><use href="#m4" x="220.24" y="297.63"/><use href="#m4" x="228.46" y="297.66"/><use href="#m4" x="236.68" y="297.68"/><use href="#m4" x="244.91" y="297.71"/><use href="#m4" x="253.13" y="297.74"/><use href="#m4" x="261.35" y="297.77"/><use href="#m4" x="269.57" y="297.79"/><use href="#m4" x="277.79" y="297.82"/><use href="#m4" x="286.01" y="297.85"/><use href="#m4" x="294.23" y="297.88"/><use href="#m4" x="302.45" y="297.91"/><use href="#m4" x="310.67" y="297.93"/><use href="#m4" x="318.89" y="297.96"/><use href="#m4" x="327.12" y="297.99"/><use href="#m4" x="335.34" y="298.02"/><use href="#m4" x="343.56" y="298.04"/><use href="#m4" x="351.78" y="298.07"/><use href="#m4" x="360" y="298.1"/><polyline clip-path="url(#c4)" points="203.8,294 207.87,295.5 216.01,297.2 360,297.7" fill="none" stroke="#a02020" stroke-width="1.2" stroke-linejoin="round"/><use href="#m5" x="203.8" y="294"/><use href="#m5" x="212.02" y="296.37"/><use href="#m5" x="220.24" y="297.21"/><use href="#m5" x="228.46" y="297.24"/><use href="#m5" x="236.68" y="297.27"/><use href="#m5" x="244.91" y="297.3"/><use href="#m5" x="253.13" y="297.33"/><use href="#m5" x="261.35" y="297.36"/><use href="#m5" x="269.57" y="297.39"/><use href="#m5" x="277.79" y="297.41"/><use href="#m5" x="286.01" y="297.44"/><use href="#m5" x="294.23" y="297.47"/><use href="#m5" x="302.45" y="297.5"/><use href="#m5" x="310.67" y="297.53"/><use href="#m5" x="318.89" y="297.56"/><use href="#m5" x="327.12" y="297.59"/><use href="#m5" x="335.34" y="297.61"/><use href="#m5" x="343.56" y="297.64"/><use href="#m5" x="351.78" y="297.67"/><use href="#m5" x="360" y="297.7"/><polyline clip-path="url(#c4)" points="203.8,285 209.75,291 220.08,293.2 360,293.8" fill="none" stroke="#ffd000" stroke-width="1.2" stroke-linejoin="round"/><use href="#m6" x="203.8" y="285"/><use href="#m6" x="212.02" y="291.48"/><use href="#m6" x="220.24" y="293.2"/><use href="#m6" x="228.46" y="293.24"/><use href="#m6" x="236.68" y="293.27"/><use href="#m6" x="244.91" y="293.31"/><use href="#m6" x="253.13" y="293.34"/><use href="#m6" x="261.35" y="293.38"/><use href="#m6" x="269.57" y="293.41"/><use href="#m6" x="277.79" y="293.45"/><use href="#m6" x="286.01" y="293.48"/><use href="#m6" x="294.23" y="293.52"/><use href="#m6" x="302.45" y="293.55"/><use href="#m6" x="310.67" y="293.59"/><use href="#m6" x="318.89" y="293.62"/><use href="#m6" x="327.12" y="293.66"/><use href="#m6" x="335.34" y="293.69"/><use href="#m6" x="343.56" y="293.73"/><use href="#m6" x="351.78" y="293.76"/><use href="#m6" x="360" y="293.8"/><polyline clip-path="url(#c4)" points="203.8,282.3 211.53,285.9 213.19,286.2 214.76,290.6 220.08,291.2 284.87,291.5 344.35,291.7 344.97,293.5 360,293.5" fill="none" stroke="#b93cff" stroke-width="1.2" stroke-linejoin="round"/><use href="#m7" x="203.8" y="282.3"/><use href="#m7" x="212.02" y="285.99"/><use href="#m7" x="220.24" y="291.2"/><use href="#m7" x="228.46" y="291.24"/><use href="#m7" x="236.68" y="291.28"/><use href="#m7" x="244.91" y="291.31"/><use href="#m7" x="253.13" y="291.35"/><use href="#m7" x="261.35" y="291.39"/><use href="#m7" x="269.57" y="291.43"/><use href="#m7" x="277.79" y="291.47"/><use href="#m7" x="286.01" y="291.5"/><use href="#m7" x="294.23" y="291.53"/><use href="#m7" x="302.45" y="291.56"/><use href="#m7" x="310.67" y="291.59"/><use href="#m7" x="318.89" y="291.61"/><use href="#m7" x="327.12" y="291.64"/><use href="#m7" x="335.34" y="291.67"/><use href="#m7" x="343.56" y="291.7"/><use href="#m7" x="351.78" y="293.5"/><use href="#m7" x="360" y="293.5"/><polyline clip-path="url(#c4)" points="203.8,293.2 206.62,294.5 211.94,296.9 360,297.6" fill="none" stroke="#dc1430" stroke-width="1.2" stroke-linejoin="round"/><use href="#m8" x="203.8" y="293.2"/><use href="#m8" x="212.02" y="296.9"/><use href="#m8" x="220.24" y="296.94"/><use href="#m8" x="228.46" y="296.98"/><use href="#m8" x="236.68" y="297.02"/><use href="#m8" x="244.91" y="297.06"/><use href="#m8" x="253.13" y="297.09"/><use href="#m8" x="261.35" y="297.13"/><use href="#m8" x="269.57" y="297.17"/><use href="#m8" x="277.79" y="297.21"/><use href="#m8" x="286.01" y="297.25"/><use href="#m8" x="294.23" y="297.29"/><use href="#m8" x="302.45" y="297.33"/><use href="#m8" x="310.67" y="297.37"/><use href="#m8" x="318.89" y="297.41"/><use href="#m8" x="327.12" y="297.44"/><use href="#m8" x="335.34" y="297.48"/><use href="#m8" x="343.56" y="297.52"/><use href="#m8" x="351.78" y="297.56"/><use href="#m8" x="360" y="297.6"/><polyline clip-path="url(#c4)" points="203.8,286 208.18,291.5 214.44,295.6 220.08,296.6 360,297.2" fill="none" stroke="#00ffff" stroke-width="1.2" stroke-linejoin="round"/><use href="#m9" x="203.8" y="286"/><use href="#m9" x="212.02" y="294.01"/><use href="#m9" x="220.24" y="296.6"/><use href="#m9" x="228.46" y="296.64"/><use href="#m9" x="236.68" y="296.67"/><use href="#m9" x="244.91" y="296.71"/><use href="#m9" x="253.13" y="296.74"/><use href="#m9" x="261.35" y="296.78"/><use href="#m9" x="269.57" y="296.81"/><use href="#m9" x="277.79" y="296.85"/><use href="#m9" x="286.01" y="296.88"/><use href="#m9" x="294.23" y="296.92"/><use href="#m9" x="302.45" y="296.95"/><use href="#m9" x="310.67" y="296.99"/><use href="#m9" x="318.89" y="297.02"/><use href="#m9" x="327.12" y="297.06"/><use href="#m9" x="335.34" y="297.09"/><use href="#m9" x="343.56" y="297.13"/><use href="#m9" x="351.78" y="297.16"/><use href="#m9" x="360" y="297.2"/><polyline clip-path="url(#c4)" points="203.8,296.3 205.37,296.6 211.94,297.8 360,298.2" fill="none" stroke="#ff6a00" stroke-width="1.2" stroke-linejoin="round"/><use href="#m10" x="203.8" y="296.3"/><use href="#m10" x="212.02" y="297.8"/><use href="#m10" x="220.24" y="297.82"/><use href="#m10" x="228.46" y="297.84"/><use href="#m10" x="236.68" y="297.87"/><use href="#m10" x="244.91" y="297.89"/><use href="#m10" x="253.13" y="297.91"/><use href="#m10" x="261.35" y="297.93"/><use href="#m10" x="269.57" y="297.96"/><use href="#m10" x="277.79" y="297.98"/><use href="#m10" x="286.01" y="298"/><use href="#m10" x="294.23" y="298.02"/><use href="#m10" x="302.45" y="298.04"/><use href="#m10" x="310.67" y="298.07"/><use href="#m10" x="318.89" y="298.09"/><use href="#m10" x="327.12" y="298.11"/><use href="#m10" x="335.34" y="298.13"/><use href="#m10" x="343.56" y="298.16"/><use href="#m10" x="351.78" y="298.18"/><use href="#m10" x="360" y="298.2"/><polyline clip-path="url(#c4)" points="203.8,286 208.18,291.5 214.44,295.5 220.08,296.5 360,297.1" fill="none" stroke="#20b0a4" stroke-width="1.2" stroke-linejoin="round"/><use href="#m11" x="203.8" y="286"/><use href="#m11" x="212.02" y="293.95"/><use href="#m11" x="220.24" y="296.5"/><use href="#m11" x="228.46" y="296.54"/><use href="#m11" x="236.68" y="296.57"/><use href="#m11" x="244.91" y="296.61"/><use href="#m11" x="253.13" y="296.64"/><use href="#m11" x="261.35" y="296.68"/><use href="#m11" x="269.57" y="296.71"/><use href="#m11" x="277.79" y="296.75"/><use href="#m11" x="286.01" y="296.78"/><use href="#m11" x="294.23" y="296.82"/><use href="#m11" x="302.45" y="296.85"/><use href="#m11" x="310.67" y="296.89"/><use href="#m11" x="318.89" y="296.92"/><use href="#m11" x="327.12" y="296.96"/><use href="#m11" x="335.34" y="296.99"/><use href="#m11" x="343.56" y="297.03"/><use href="#m11" x="351.78" y="297.06"/><use href="#m11" x="360" y="297.1"/><polyline clip-path="url(#c4)" points="203.8,292.5 208.5,295.5 216.01,297.1 360,297.7" fill="none" stroke="#8560f0" stroke-width="1.2" stroke-linejoin="round"/><use href="#m12" x="203.8" y="292.5"/><use href="#m12" x="212.02" y="296.25"/><use href="#m12" x="220.24" y="297.12"/><use href="#m12" x="228.46" y="297.15"/><use href="#m12" x="236.68" y="297.19"/><use href="#m12" x="244.91" y="297.22"/><use href="#m12" x="253.13" y="297.25"/><use href="#m12" x="261.35" y="297.29"/><use href="#m12" x="269.57" y="297.32"/><use href="#m12" x="277.79" y="297.36"/><use href="#m12" x="286.01" y="297.39"/><use href="#m12" x="294.23" y="297.43"/><use href="#m12" x="302.45" y="297.46"/><use href="#m12" x="310.67" y="297.49"/><use href="#m12" x="318.89" y="297.53"/><use href="#m12" x="327.12" y="297.56"/><use href="#m12" x="335.34" y="297.6"/><use href="#m12" x="343.56" y="297.63"/><use href="#m12" x="351.78" y="297.67"/><use href="#m12" x="360" y="297.7"/><polyline clip-path="url(#c4)" points="203.8,287 206.62,294 211.94,297 220.08,297.8 360,298.2" fill="none" stroke="#00ff00" stroke-width="1.2" stroke-linejoin="round"/><use href="#m13" x="203.8" y="287"/><use href="#m13" x="212.02" y="297.01"/><use href="#m13" x="220.24" y="297.8"/><use href="#m13" x="228.46" y="297.82"/><use href="#m13" x="236.68" y="297.85"/><use href="#m13" x="244.91" y="297.87"/><use href="#m13" x="253.13" y="297.89"/><use href="#m13" x="261.35" y="297.92"/><use href="#m13" x="269.57" y="297.94"/><use href="#m13" x="277.79" y="297.96"/><use href="#m13" x="286.01" y="297.99"/><use href="#m13" x="294.23" y="298.01"/><use href="#m13" x="302.45" y="298.04"/><use href="#m13" x="310.67" y="298.06"/><use href="#m13" x="318.89" y="298.08"/><use href="#m13" x="327.12" y="298.11"/><use href="#m13" x="335.34" y="298.13"/><use href="#m13" x="343.56" y="298.15"/><use href="#m13" x="351.78" y="298.18"/><use href="#m13" x="360" y="298.2"/><polyline clip-path="url(#c4)" points="203.8,286 208.18,292 214.44,295.7 220.08,296.6 360,297" fill="none" stroke="#00a4d4" stroke-width="1.2" stroke-linejoin="round"/><use href="#m14" x="203.8" y="286"/><use href="#m14" x="212.02" y="294.27"/><use href="#m14" x="220.24" y="296.6"/><use href="#m14" x="228.46" y="296.62"/><use href="#m14" x="236.68" y="296.65"/><use href="#m14" x="244.91" y="296.67"/><use href="#m14" x="253.13" y="296.69"/><use href="#m14" x="261.35" y="296.72"/><use href="#m14" x="269.57" y="296.74"/><use href="#m14" x="277.79" y="296.76"/><use href="#m14" x="286.01" y="296.79"/><use href="#m14" x="294.23" y="296.81"/><use href="#m14" x="302.45" y="296.84"/><use href="#m14" x="310.67" y="296.86"/><use href="#m14" x="318.89" y="296.88"/><use href="#m14" x="327.12" y="296.91"/><use href="#m14" x="335.34" y="296.93"/><use href="#m14" x="343.56" y="296.95"/><use href="#m14" x="351.78" y="296.98"/><use href="#m14" x="360" y="297"/>
<rect x="312.61" y="179.02" width="43.77" height="86.86" fill="#fff" stroke="#555" stroke-width="0.5"/>
<g font-size="4.31" fill="#111" stroke="#111" stroke-width="0.04"><path d="M314.61 182.87H328.63" stroke="#ff0000" stroke-width="1.2"/><use href="#m0" x="321.62" y="182.87"/><text x="330.23" y="184.42">COA</text><path d="M314.61 188.56H328.63" stroke="#0000ff" stroke-width="1.2"/><use href="#m1" x="321.62" y="188.56"/><text x="330.23" y="190.12">CMRLCCOA</text><path d="M314.61 194.26H328.63" stroke="#4cae1e" stroke-width="1.2"/><use href="#m2" x="321.62" y="194.26"/><text x="330.23" y="195.81">KOA</text><path d="M314.61 199.96H328.63" stroke="#ffa500" stroke-width="1.2"/><use href="#m3" x="321.62" y="199.96"/><text x="330.23" y="201.51">SWO</text><path d="M314.61 205.66H328.63" stroke="#ff66dd" stroke-width="1.2"/><use href="#m4" x="321.62" y="205.66"/><text x="330.23" y="207.21">GMO</text><path d="M314.61 211.35H328.63" stroke="#a02020" stroke-width="1.2"/><use href="#m5" x="321.62" y="211.35"/><text x="330.23" y="212.91">DMA</text><path d="M314.61 217.05H328.63" stroke="#ffd000" stroke-width="1.2"/><use href="#m6" x="321.62" y="217.05"/><text x="330.23" y="218.6">TROA</text><path d="M314.61 222.75H328.63" stroke="#b93cff" stroke-width="1.2"/><use href="#m7" x="321.62" y="222.75"/><text x="330.23" y="224.3">GO</text><path d="M314.61 228.45H328.63" stroke="#dc1430" stroke-width="1.2"/><use href="#m8" x="321.62" y="228.45"/><text x="330.23" y="230">PSO</text><path d="M314.61 234.14H328.63" stroke="#00ffff" stroke-width="1.2"/><use href="#m9" x="321.62" y="234.14"/><text x="330.23" y="235.69">DE</text><path d="M314.61 239.84H328.63" stroke="#ff6a00" stroke-width="1.2"/><use href="#m10" x="321.62" y="239.84"/><text x="330.23" y="241.39">SA</text><path d="M314.61 245.54H328.63" stroke="#20b0a4" stroke-width="1.2"/><use href="#m11" x="321.62" y="245.54"/><text x="330.23" y="247.09">ABC</text><path d="M314.61 251.23H328.63" stroke="#8560f0" stroke-width="1.2"/><use href="#m12" x="321.62" y="251.23"/><text x="330.23" y="252.79">ISSA</text><path d="M314.61 256.93H328.63" stroke="#00ff00" stroke-width="1.2"/><use href="#m13" x="321.62" y="256.93"/><text x="330.23" y="258.48">IGWO</text><path d="M314.61 262.63H328.63" stroke="#00a4d4" stroke-width="1.2"/><use href="#m14" x="321.62" y="262.63"/><text x="330.23" y="264.18">EWOA</text></g>
<!-- cec13 -->
<clipPath id="c5"><rect x="386.9" y="175.1" width="156.8" height="123.8"/></clipPath>
<rect x="386.9" y="175.4" width="156.5" height="123.2" fill="#fff" stroke="#606060" stroke-width="0.6"/>
<path d="M402.27 298.6v-1.6 M402.27 175.4v1.6 M417.95 298.6v-1.6 M417.95 175.4v1.6 M433.63 298.6v-1.6 M433.63 175.4v1.6 M449.31 298.6v-1.6 M449.31 175.4v1.6 M464.99 298.6v-1.6 M464.99 175.4v1.6 M480.67 298.6v-1.6 M480.67 175.4v1.6 M496.36 298.6v-1.6 M496.36 175.4v1.6 M512.04 298.6v-1.6 M512.04 175.4v1.6 M527.72 298.6v-1.6 M527.72 175.4v1.6 M543.4 298.6v-1.6 M543.4 175.4v1.6 M386.9 181.1h1.6 M543.4 181.1h-1.6 M386.9 191.74h1.6 M543.4 191.74h-1.6 M386.9 202.38h1.6 M543.4 202.38h-1.6 M386.9 213.02h1.6 M543.4 213.02h-1.6 M386.9 223.66h1.6 M543.4 223.66h-1.6 M386.9 234.3h1.6 M543.4 234.3h-1.6 M386.9 244.94h1.6 M543.4 244.94h-1.6 M386.9 255.58h1.6 M543.4 255.58h-1.6 M386.9 266.22h1.6 M543.4 266.22h-1.6 M386.9 276.86h1.6 M543.4 276.86h-1.6 M386.9 287.5h1.6 M543.4 287.5h-1.6" stroke="#606060" stroke-width="0.5" fill="none"/>
<g font-size="5.02" fill="#303030"><g text-anchor="middle"><text x="402.27" y="306.32">50</text><text x="417.95" y="306.32">100</text><text x="433.63" y="306.32">150</text><text x="449.31" y="306.32">200</text><text x="464.99" y="306.32">250</text><text x="480.67" y="306.32">300</text><text x="496.36" y="306.32">350</text><text x="512.04" y="306.32">400</text><text x="527.72" y="306.32">450</text><text x="543.4" y="306.32">500</text></g><g text-anchor="end"><text x="384.9" y="182.91">11</text><text x="384.9" y="193.55">10</text><text x="384.9" y="204.19">9</text><text x="384.9" y="214.83">8</text><text x="384.9" y="225.47">7</text><text x="384.9" y="236.11">6</text><text x="384.9" y="246.75">5</text><text x="384.9" y="257.39">4</text><text x="384.9" y="268.03">3</text><text x="384.9" y="278.67">2</text><text x="384.9" y="289.31">1</text></g><text x="387.7" y="174.5" font-size="4.82">×10<tspan dy="-2.31" font-size="3.91">11</tspan></text></g>
<text x="465.15" y="172.99" font-size="7.27" text-anchor="middle" fill="#111">cec13</text>
<text x="465.15" y="314.85" font-size="6.92" text-anchor="middle" fill="#262626">Iteration</text>
<text transform="translate(376.17 237) rotate(-90)" font-size="6.82" text-anchor="middle" fill="#262626">Fitness value</text>
<polyline clip-path="url(#c5)" points="386.9,286 390.35,291 395.05,292.5 403.21,293 543.4,293.6" fill="none" stroke="#ff0000" stroke-width="1.2" stroke-linejoin="round"/><use href="#m0" x="386.9" y="286"/><use href="#m0" x="395.14" y="292.51"/><use href="#m0" x="403.37" y="293"/><use href="#m0" x="411.61" y="293.04"/><use href="#m0" x="419.85" y="293.07"/><use href="#m0" x="428.08" y="293.11"/><use href="#m0" x="436.32" y="293.14"/><use href="#m0" x="444.56" y="293.18"/><use href="#m0" x="452.79" y="293.21"/><use href="#m0" x="461.03" y="293.25"/><use href="#m0" x="469.27" y="293.28"/><use href="#m0" x="477.51" y="293.32"/><use href="#m0" x="485.74" y="293.35"/><use href="#m0" x="493.98" y="293.39"/><use href="#m0" x="502.22" y="293.42"/><use href="#m0" x="510.45" y="293.46"/><use href="#m0" x="518.69" y="293.49"/><use href="#m0" x="526.93" y="293.53"/><use href="#m0" x="535.16" y="293.56"/><use href="#m0" x="543.4" y="293.6"/><polyline clip-path="url(#c5)" points="386.9,175.4 387.21,262 387.84,283 389.1,291 392.86,296.3 403.21,297.9 543.4,298.4" fill="none" stroke="#0000ff" stroke-width="1.2" stroke-linejoin="round"/><use href="#m1" x="386.9" y="175.4"/><use href="#m1" x="395.14" y="296.65"/><use href="#m1" x="403.37" y="297.9"/><use href="#m1" x="411.61" y="297.93"/><use href="#m1" x="419.85" y="297.96"/><use href="#m1" x="428.08" y="297.99"/><use href="#m1" x="436.32" y="298.02"/><use href="#m1" x="444.56" y="298.05"/><use href="#m1" x="452.79" y="298.08"/><use href="#m1" x="461.03" y="298.11"/><use href="#m1" x="469.27" y="298.14"/><use href="#m1" x="477.51" y="298.16"/><use href="#m1" x="485.74" y="298.19"/><use href="#m1" x="493.98" y="298.22"/><use href="#m1" x="502.22" y="298.25"/><use href="#m1" x="510.45" y="298.28"/><use href="#m1" x="518.69" y="298.31"/><use href="#m1" x="526.93" y="298.34"/><use href="#m1" x="535.16" y="298.37"/><use href="#m1" x="543.4" y="298.4"/><polyline clip-path="url(#c5)" points="386.9,285.3 395.05,290.5 411.68,293.8 543.4,294.9" fill="none" stroke="#4cae1e" stroke-width="1.2" stroke-linejoin="round"/><use href="#m2" x="386.9" y="285.3"/><use href="#m2" x="395.14" y="290.52"/><use href="#m2" x="403.37" y="292.15"/><use href="#m2" x="411.61" y="293.79"/><use href="#m2" x="419.85" y="293.87"/><use href="#m2" x="428.08" y="293.94"/><use href="#m2" x="436.32" y="294.01"/><use href="#m2" x="444.56" y="294.07"/><use href="#m2" x="452.79" y="294.14"/><use href="#m2" x="461.03" y="294.21"/><use href="#m2" x="469.27" y="294.28"/><use href="#m2" x="477.51" y="294.35"/><use href="#m2" x="485.74" y="294.42"/><use href="#m2" x="493.98" y="294.49"/><use href="#m2" x="502.22" y="294.56"/><use href="#m2" x="510.45" y="294.62"/><use href="#m2" x="518.69" y="294.69"/><use href="#m2" x="526.93" y="294.76"/><use href="#m2" x="535.16" y="294.83"/><use href="#m2" x="543.4" y="294.9"/><polyline clip-path="url(#c5)" points="386.9,283.3 388.47,286.3 395.05,288 403.21,288.8 441.47,288.9 444.29,292.1 543.4,293.4" fill="none" stroke="#ffa500" stroke-width="1.2" stroke-linejoin="round"/><use href="#m3" x="386.9" y="283.3"/><use href="#m3" x="395.14" y="288.01"/><use href="#m3" x="403.37" y="288.8"/><use href="#m3" x="411.61" y="288.82"/><use href="#m3" x="419.85" y="288.84"/><use href="#m3" x="428.08" y="288.87"/><use href="#m3" x="436.32" y="288.89"/><use href="#m3" x="444.56" y="292.1"/><use href="#m3" x="452.79" y="292.21"/><use href="#m3" x="461.03" y="292.32"/><use href="#m3" x="469.27" y="292.43"/><use href="#m3" x="477.51" y="292.54"/><use href="#m3" x="485.74" y="292.64"/><use href="#m3" x="493.98" y="292.75"/><use href="#m3" x="502.22" y="292.86"/><use href="#m3" x="510.45" y="292.97"/><use href="#m3" x="518.69" y="293.08"/><use href="#m3" x="526.93" y="293.18"/><use href="#m3" x="535.16" y="293.29"/><use href="#m3" x="543.4" y="293.4"/><polyline clip-path="url(#c5)" points="386.9,296 389.1,296.3 395.05,298 543.4,298.6" fill="none" stroke="#ff66dd" stroke-width="1.2" stroke-linejoin="round"/><use href="#m4" x="386.9" y="296"/><use href="#m4" x="395.14" y="298"/><use href="#m4" x="403.37" y="298.03"/><use href="#m4" x="411.61" y="298.07"/><use href="#m4" x="419.85" y="298.1"/><use href="#m4" x="428.08" y="298.13"/><use href="#m4" x="436.32" y="298.17"/><use href="#m4" x="444.56" y="298.2"/><use href="#m4" x="452.79" y="298.23"/><use href="#m4" x="461.03" y="298.27"/><use href="#m4" x="469.27" y="298.3"/><use href="#m4" x="477.51" y="298.33"/><use href="#m4" x="485.74" y="298.37"/><use href="#m4" x="493.98" y="298.4"/><use href="#m4" x="502.22" y="298.43"/><use href="#m4" x="510.45" y="298.47"/><use href="#m4" x="518.69" y="298.5"/><use href="#m4" x="526.93" y="298.53"/><use href="#m4" x="535.16" y="298.57"/><use href="#m4" x="543.4" y="298.6"/><polyline clip-path="url(#c5)" points="386.9,294 390.98,294.3 399.13,297 543.4,297.9" fill="none" stroke="#a02020" stroke-width="1.2" stroke-linejoin="round"/><use href="#m5" x="386.9" y="294"/><use href="#m5" x="395.14" y="295.68"/><use href="#m5" x="403.37" y="297.03"/><use href="#m5" x="411.61" y="297.08"/><use href="#m5" x="419.85" y="297.13"/><use href="#m5" x="428.08" y="297.18"/><use href="#m5" x="436.32" y="297.23"/><use href="#m5" x="444.56" y="297.28"/><use href="#m5" x="452.79" y="297.33"/><use href="#m5" x="461.03" y="297.39"/><use href="#m5" x="469.27" y="297.44"/><use href="#m5" x="477.51" y="297.49"/><use href="#m5" x="485.74" y="297.54"/><use href="#m5" x="493.98" y="297.59"/><use href="#m5" x="502.22" y="297.64"/><use href="#m5" x="510.45" y="297.69"/><use href="#m5" x="518.69" y="297.75"/><use href="#m5" x="526.93" y="297.8"/><use href="#m5" x="535.16" y="297.85"/><use href="#m5" x="543.4" y="297.9"/><polyline clip-path="url(#c5)" points="386.9,284.3 395.05,290.5 403.21,292.1 469.07,293.8 543.4,294.6" fill="none" stroke="#ffd000" stroke-width="1.2" stroke-linejoin="round"/><use href="#m6" x="386.9" y="284.3"/><use href="#m6" x="395.14" y="290.52"/><use href="#m6" x="403.37" y="292.1"/><use href="#m6" x="411.61" y="292.32"/><use href="#m6" x="419.85" y="292.53"/><use href="#m6" x="428.08" y="292.74"/><use href="#m6" x="436.32" y="292.95"/><use href="#m6" x="444.56" y="293.17"/><use href="#m6" x="452.79" y="293.38"/><use href="#m6" x="461.03" y="293.59"/><use href="#m6" x="469.27" y="293.8"/><use href="#m6" x="477.51" y="293.89"/><use href="#m6" x="485.74" y="293.98"/><use href="#m6" x="493.98" y="294.07"/><use href="#m6" x="502.22" y="294.16"/><use href="#m6" x="510.45" y="294.25"/><use href="#m6" x="518.69" y="294.33"/><use href="#m6" x="526.93" y="294.42"/><use href="#m6" x="535.16" y="294.51"/><use href="#m6" x="543.4" y="294.6"/><polyline clip-path="url(#c5)" points="386.9,279 390.04,284.8 395.05,287.2 403.21,288.3 436.14,289.3 439.28,289.6 444.29,291.6 519.88,292 522.07,292.7 543.4,292.7" fill="none" stroke="#b93cff" stroke-width="1.2" stroke-linejoin="round"/><use href="#m7" x="386.9" y="279"/><use href="#m7" x="395.14" y="287.21"/><use href="#m7" x="403.37" y="288.31"/><use href="#m7" x="411.61" y="288.56"/><use href="#m7" x="419.85" y="288.81"/><use href="#m7" x="428.08" y="289.06"/><use href="#m7" x="436.32" y="289.32"/><use href="#m7" x="444.56" y="291.6"/><use href="#m7" x="452.79" y="291.64"/><use href="#m7" x="461.03" y="291.69"/><use href="#m7" x="469.27" y="291.73"/><use href="#m7" x="477.51" y="291.78"/><use href="#m7" x="485.74" y="291.82"/><use href="#m7" x="493.98" y="291.86"/><use href="#m7" x="502.22" y="291.91"/><use href="#m7" x="510.45" y="291.95"/><use href="#m7" x="518.69" y="291.99"/><use href="#m7" x="526.93" y="292.7"/><use href="#m7" x="535.16" y="292.7"/><use href="#m7" x="543.4" y="292.7"/><polyline clip-path="url(#c5)" points="386.9,291.8 395.05,292.1 403.21,293.8 411.68,295.4 427.36,296.2 543.4,296.6" fill="none" stroke="#dc1430" stroke-width="1.2" stroke-linejoin="round"/><use href="#m8" x="386.9" y="291.8"/><use href="#m8" x="395.14" y="292.12"/><use href="#m8" x="403.37" y="293.83"/><use href="#m8" x="411.61" y="295.39"/><use href="#m8" x="419.85" y="295.82"/><use href="#m8" x="428.08" y="296.2"/><use href="#m8" x="436.32" y="296.23"/><use href="#m8" x="444.56" y="296.26"/><use href="#m8" x="452.79" y="296.29"/><use href="#m8" x="461.03" y="296.32"/><use href="#m8" x="469.27" y="296.34"/><use href="#m8" x="477.51" y="296.37"/><use href="#m8" x="485.74" y="296.4"/><use href="#m8" x="493.98" y="296.43"/><use href="#m8" x="502.22" y="296.46"/><use href="#m8" x="510.45" y="296.49"/><use href="#m8" x="518.69" y="296.51"/><use href="#m8" x="526.93" y="296.54"/><use href="#m8" x="535.16" y="296.57"/><use href="#m8" x="543.4" y="296.6"/><polyline clip-path="url(#c5)" points="386.9,286 391.29,292.3 397.56,296.3 403.21,297.4 543.4,297.9" fill="none" stroke="#00ffff" stroke-width="1.2" stroke-linejoin="round"/><use href="#m9" x="386.9" y="286"/><use href="#m9" x="395.14" y="294.75"/><use href="#m9" x="403.37" y="297.4"/><use href="#m9" x="411.61" y="297.43"/><use href="#m9" x="419.85" y="297.46"/><use href="#m9" x="428.08" y="297.49"/><use href="#m9" x="436.32" y="297.52"/><use href="#m9" x="444.56" y="297.55"/><use href="#m9" x="452.79" y="297.58"/><use href="#m9" x="461.03" y="297.61"/><use href="#m9" x="469.27" y="297.64"/><use href="#m9" x="477.51" y="297.66"/><use href="#m9" x="485.74" y="297.69"/><use href="#m9" x="493.98" y="297.72"/><use href="#m9" x="502.22" y="297.75"/><use href="#m9" x="510.45" y="297.78"/><use href="#m9" x="518.69" y="297.81"/><use href="#m9" x="526.93" y="297.84"/><use href="#m9" x="535.16" y="297.87"/><use href="#m9" x="543.4" y="297.9"/><polyline clip-path="url(#c5)" points="386.9,296.5 388.47,296.8 543.4,298.6" fill="none" stroke="#ff6a00" stroke-width="1.2" stroke-linejoin="round"/><use href="#m10" x="386.9" y="296.5"/><use href="#m10" x="395.14" y="296.88"/><use href="#m10" x="403.37" y="296.97"/><use href="#m10" x="411.61" y="297.07"/><use href="#m10" x="419.85" y="297.16"/><use href="#m10" x="428.08" y="297.26"/><use href="#m10" x="436.32" y="297.36"/><use href="#m10" x="444.56" y="297.45"/><use href="#m10" x="452.79" y="297.55"/><use href="#m10" x="461.03" y="297.64"/><use href="#m10" x="469.27" y="297.74"/><use href="#m10" x="477.51" y="297.83"/><use href="#m10" x="485.74" y="297.93"/><use href="#m10" x="493.98" y="298.03"/><use href="#m10" x="502.22" y="298.12"/><use href="#m10" x="510.45" y="298.22"/><use href="#m10" x="518.69" y="298.31"/><use href="#m10" x="526.93" y="298.41"/><use href="#m10" x="535.16" y="298.5"/><use href="#m10" x="543.4" y="298.6"/><polyline clip-path="url(#c5)" points="386.9,286 391.29,293.3 397.56,296.6 403.21,297.5 543.4,297.8" fill="none" stroke="#20b0a4" stroke-width="1.2" stroke-linejoin="round"/><use href="#m11" x="386.9" y="286"/><use href="#m11" x="395.14" y="295.32"/><use href="#m11" x="403.37" y="297.5"/><use href="#m11" x="411.61" y="297.52"/><use href="#m11" x="419.85" y="297.54"/><use href="#m11" x="428.08" y="297.55"/><use href="#m11" x="436.32" y="297.57"/><use href="#m11" x="444.56" y="297.59"/><use href="#m11" x="452.79" y="297.61"/><use href="#m11" x="461.03" y="297.62"/><use href="#m11" x="469.27" y="297.64"/><use href="#m11" x="477.51" y="297.66"/><use href="#m11" x="485.74" y="297.68"/><use href="#m11" x="493.98" y="297.69"/><use href="#m11" x="502.22" y="297.71"/><use href="#m11" x="510.45" y="297.73"/><use href="#m11" x="518.69" y="297.75"/><use href="#m11" x="526.93" y="297.76"/><use href="#m11" x="535.16" y="297.78"/><use href="#m11" x="543.4" y="297.8"/><polyline clip-path="url(#c5)" points="386.9,293.1 391.6,295.8 399.13,297.7 543.4,298.3" fill="none" stroke="#8560f0" stroke-width="1.2" stroke-linejoin="round"/><use href="#m12" x="386.9" y="293.1"/><use href="#m12" x="395.14" y="296.69"/><use href="#m12" x="403.37" y="297.72"/><use href="#m12" x="411.61" y="297.75"/><use href="#m12" x="419.85" y="297.79"/><use href="#m12" x="428.08" y="297.82"/><use href="#m12" x="436.32" y="297.85"/><use href="#m12" x="444.56" y="297.89"/><use href="#m12" x="452.79" y="297.92"/><use href="#m12" x="461.03" y="297.96"/><use href="#m12" x="469.27" y="297.99"/><use href="#m12" x="477.51" y="298.03"/><use href="#m12" x="485.74" y="298.06"/><use href="#m12" x="493.98" y="298.09"/><use href="#m12" x="502.22" y="298.13"/><use href="#m12" x="510.45" y="298.16"/><use href="#m12" x="518.69" y="298.2"/><use href="#m12" x="526.93" y="298.23"/><use href="#m12" x="535.16" y="298.27"/><use href="#m12" x="543.4" y="298.3"/><polyline clip-path="url(#c5)" points="386.9,287 389.72,294.3 395.05,297.4 403.21,298.3 543.4,298.8" fill="none" stroke="#00ff00" stroke-width="1.2" stroke-linejoin="round"/><use href="#m13" x="386.9" y="287"/><use href="#m13" x="395.14" y="297.41"/><use href="#m13" x="403.37" y="298.3"/><use href="#m13" x="411.61" y="298.33"/><use href="#m13" x="419.85" y="298.36"/><use href="#m13" x="428.08" y="298.39"/><use href="#m13" x="436.32" y="298.42"/><use href="#m13" x="444.56" y="298.45"/><use href="#m13" x="452.79" y="298.48"/><use href="#m13" x="461.03" y="298.51"/><use href="#m13" x="469.27" y="298.54"/><use href="#m13" x="477.51" y="298.56"/><use href="#m13" x="485.74" y="298.59"/><use href="#m13" x="493.98" y="298.62"/><use href="#m13" x="502.22" y="298.65"/><use href="#m13" x="510.45" y="298.68"/><use href="#m13" x="518.69" y="298.71"/><use href="#m13" x="526.93" y="298.74"/><use href="#m13" x="535.16" y="298.77"/><use href="#m13" x="543.4" y="298.8"/><polyline clip-path="url(#c5)" points="386.9,286 391.29,293.8 397.56,296.9 403.21,297.6 543.4,297.9" fill="none" stroke="#00a4d4" stroke-width="1.2" stroke-linejoin="round"/><use href="#m14" x="386.9" y="286"/><use href="#m14" x="395.14" y="295.7"/><use href="#m14" x="403.37" y="297.6"/><use href="#m14" x="411.61" y="297.62"/><use href="#m14" x="419.85" y="297.64"/><use href="#m14" x="428.08" y="297.65"/><use href="#m14" x="436.32" y="297.67"/><use href="#m14" x="444.56" y="297.69"/><use href="#m14" x="452.79" y="297.71"/><use href="#m14" x="461.03" y="297.72"/><use href="#m14" x="469.27" y="297.74"/><use href="#m14" x="477.51" y="297.76"/><use href="#m14" x="485.74" y="297.78"/><use href="#m14" x="493.98" y="297.79"/><use href="#m14" x="502.22" y="297.81"/><use href="#m14" x="510.45" y="297.83"/><use href="#m14" x="518.69" y="297.85"/><use href="#m14" x="526.93" y="297.86"/><use href="#m14" x="535.16" y="297.88"/><use href="#m14" x="543.4" y="297.9"/>
<rect x="495.92" y="179.03" width="43.85" height="87.29" fill="#fff" stroke="#555" stroke-width="0.5"/>
<g font-size="4.31" fill="#111" stroke="#111" stroke-width="0.04"><path d="M497.92 182.9H511.97" stroke="#ff0000" stroke-width="1.2"/><use href="#m0" x="504.95" y="182.9"/><text x="513.57" y="184.46">COA</text><path d="M497.92 188.63H511.97" stroke="#0000ff" stroke-width="1.2"/><use href="#m1" x="504.95" y="188.63"/><text x="513.57" y="190.18">CMRLCCOA</text><path d="M497.92 194.35H511.97" stroke="#4cae1e" stroke-width="1.2"/><use href="#m2" x="504.95" y="194.35"/><text x="513.57" y="195.91">KOA</text><path d="M497.92 200.08H511.97" stroke="#ffa500" stroke-width="1.2"/><use href="#m3" x="504.95" y="200.08"/><text x="513.57" y="201.63">SWO</text><path d="M497.92 205.8H511.97" stroke="#ff66dd" stroke-width="1.2"/><use href="#m4" x="504.95" y="205.8"/><text x="513.57" y="207.36">GMO</text><path d="M497.92 211.53H511.97" stroke="#a02020" stroke-width="1.2"/><use href="#m5" x="504.95" y="211.53"/><text x="513.57" y="213.08">DMA</text><path d="M497.92 217.25H511.97" stroke="#ffd000" stroke-width="1.2"/><use href="#m6" x="504.95" y="217.25"/><text x="513.57" y="218.81">TROA</text><path d="M497.92 222.98H511.97" stroke="#b93cff" stroke-width="1.2"/><use href="#m7" x="504.95" y="222.98"/><text x="513.57" y="224.53">GO</text><path d="M497.92 228.7H511.97" stroke="#dc1430" stroke-width="1.2"/><use href="#m8" x="504.95" y="228.7"/><text x="513.57" y="230.26">PSO</text><path d="M497.92 234.43H511.97" stroke="#00ffff" stroke-width="1.2"/><use href="#m9" x="504.95" y="234.43"/><text x="513.57" y="235.98">DE</text><path d="M497.92 240.16H511.97" stroke="#ff6a00" stroke-width="1.2"/><use href="#m10" x="504.95" y="240.16"/><text x="513.57" y="241.71">SA</text><path d="M497.92 245.88H511.97" stroke="#20b0a4" stroke-width="1.2"/><use href="#m11" x="504.95" y="245.88"/><text x="513.57" y="247.44">ABC</text><path d="M497.92 251.61H511.97" stroke="#8560f0" stroke-width="1.2"/><use href="#m12" x="504.95" y="251.61"/><text x="513.57" y="253.16">ISSA</text><path d="M497.92 257.33H511.97" stroke="#00ff00" stroke-width="1.2"/><use href="#m13" x="504.95" y="257.33"/><text x="513.57" y="258.89">IGWO</text><path d="M497.92 263.06H511.97" stroke="#00a4d4" stroke-width="1.2"/><use href="#m14" x="504.95" y="263.06"/><text x="513.57" y="264.61">EWOA</text></g>
<!-- cec15 -->
<clipPath id="c6"><rect x="17.95" y="334.1" width="159.15" height="125.6"/></clipPath>
<rect x="17.95" y="334.4" width="158.85" height="125" fill="#fff" stroke="#606060" stroke-width="0.6"/>
<path d="M33.55 459.4v-1.6 M33.55 334.4v1.6 M49.47 459.4v-1.6 M49.47 334.4v1.6 M65.38 459.4v-1.6 M65.38 334.4v1.6 M81.3 459.4v-1.6 M81.3 334.4v1.6 M97.22 459.4v-1.6 M97.22 334.4v1.6 M113.13 459.4v-1.6 M113.13 334.4v1.6 M129.05 459.4v-1.6 M129.05 334.4v1.6 M144.97 459.4v-1.6 M144.97 334.4v1.6 M160.88 459.4v-1.6 M160.88 334.4v1.6 M176.8 459.4v-1.6 M176.8 334.4v1.6 M17.95 344.4h1.6 M176.8 344.4h-1.6 M17.95 363.54h1.6 M176.8 363.54h-1.6 M17.95 382.68h1.6 M176.8 382.68h-1.6 M17.95 401.82h1.6 M176.8 401.82h-1.6 M17.95 420.96h1.6 M176.8 420.96h-1.6 M17.95 440.1h1.6 M176.8 440.1h-1.6" stroke="#606060" stroke-width="0.5" fill="none"/>
<g font-size="5.09" fill="#303030"><g text-anchor="middle"><text x="33.55" y="467.24">50</text><text x="49.47" y="467.24">100</text><text x="65.38" y="467.24">150</text><text x="81.3" y="467.24">200</text><text x="97.22" y="467.24">250</text><text x="113.13" y="467.24">300</text><text x="129.05" y="467.24">350</text><text x="144.97" y="467.24">400</text><text x="160.88" y="467.24">450</text><text x="176.8" y="467.24">500</text></g><g text-anchor="end"><text x="15.95" y="346.23">6</text><text x="15.95" y="365.37">5</text><text x="15.95" y="384.51">4</text><text x="15.95" y="403.65">3</text><text x="15.95" y="422.79">2</text><text x="15.95" y="441.93">1</text></g><text x="18.75" y="333.5" font-size="4.89">×10<tspan dy="-2.34" font-size="3.97">11</tspan></text></g>
<text x="97.38" y="331.96" font-size="7.38" text-anchor="middle" fill="#111">cec15</text>
<text x="97.38" y="475.9" font-size="7.03" text-anchor="middle" fill="#262626">Iteration</text>
<text transform="translate(9.7 396.9) rotate(-90)" font-size="6.92" text-anchor="middle" fill="#262626">Fitness value</text>
<polyline clip-path="url(#c6)" points="17.95,447.5 26.55,451.5 34.82,454.6 44.69,455.8 176.8,456.2" fill="none" stroke="#ff0000" stroke-width="1.2" stroke-linejoin="round"/><use href="#m0" x="17.95" y="447.5"/><use href="#m0" x="26.31" y="451.39"/><use href="#m0" x="34.67" y="454.54"/><use href="#m0" x="43.03" y="455.6"/><use href="#m0" x="51.39" y="455.82"/><use href="#m0" x="59.75" y="455.85"/><use href="#m0" x="68.11" y="455.87"/><use href="#m0" x="76.47" y="455.9"/><use href="#m0" x="84.83" y="455.92"/><use href="#m0" x="93.19" y="455.95"/><use href="#m0" x="101.56" y="455.97"/><use href="#m0" x="109.92" y="456"/><use href="#m0" x="118.28" y="456.02"/><use href="#m0" x="126.64" y="456.05"/><use href="#m0" x="135" y="456.07"/><use href="#m0" x="143.36" y="456.1"/><use href="#m0" x="151.72" y="456.12"/><use href="#m0" x="160.08" y="456.15"/><use href="#m0" x="168.44" y="456.17"/><use href="#m0" x="176.8" y="456.2"/><polyline clip-path="url(#c6)" points="17.95,334.4 18.27,420 18.91,444 20.18,452 22.41,456.8 30.37,458.5 176.8,459.2" fill="none" stroke="#0000ff" stroke-width="1.2" stroke-linejoin="round"/><use href="#m1" x="17.95" y="334.4"/><use href="#m1" x="26.31" y="457.63"/><use href="#m1" x="34.67" y="458.52"/><use href="#m1" x="43.03" y="458.56"/><use href="#m1" x="51.39" y="458.6"/><use href="#m1" x="59.75" y="458.64"/><use href="#m1" x="68.11" y="458.68"/><use href="#m1" x="76.47" y="458.72"/><use href="#m1" x="84.83" y="458.76"/><use href="#m1" x="93.19" y="458.8"/><use href="#m1" x="101.56" y="458.84"/><use href="#m1" x="109.92" y="458.88"/><use href="#m1" x="118.28" y="458.92"/><use href="#m1" x="126.64" y="458.96"/><use href="#m1" x="135" y="459"/><use href="#m1" x="143.36" y="459.04"/><use href="#m1" x="151.72" y="459.08"/><use href="#m1" x="160.08" y="459.12"/><use href="#m1" x="168.44" y="459.16"/><use href="#m1" x="176.8" y="459.2"/><polyline clip-path="url(#c6)" points="17.95,449 26.55,453.8 44.69,455.6 176.8,456.6" fill="none" stroke="#4cae1e" stroke-width="1.2" stroke-linejoin="round"/><use href="#m2" x="17.95" y="449"/><use href="#m2" x="26.31" y="453.67"/><use href="#m2" x="34.67" y="454.61"/><use href="#m2" x="43.03" y="455.44"/><use href="#m2" x="51.39" y="455.65"/><use href="#m2" x="59.75" y="455.71"/><use href="#m2" x="68.11" y="455.78"/><use href="#m2" x="76.47" y="455.84"/><use href="#m2" x="84.83" y="455.9"/><use href="#m2" x="93.19" y="455.97"/><use href="#m2" x="101.56" y="456.03"/><use href="#m2" x="109.92" y="456.09"/><use href="#m2" x="118.28" y="456.16"/><use href="#m2" x="126.64" y="456.22"/><use href="#m2" x="135" y="456.28"/><use href="#m2" x="143.36" y="456.35"/><use href="#m2" x="151.72" y="456.41"/><use href="#m2" x="160.08" y="456.47"/><use href="#m2" x="168.44" y="456.54"/><use href="#m2" x="176.8" y="456.6"/><polyline clip-path="url(#c6)" points="17.95,449 26.7,452.8 44.69,454.5 176.8,456.1" fill="none" stroke="#ffa500" stroke-width="1.2" stroke-linejoin="round"/><use href="#m3" x="17.95" y="449"/><use href="#m3" x="26.31" y="452.63"/><use href="#m3" x="34.67" y="453.55"/><use href="#m3" x="43.03" y="454.34"/><use href="#m3" x="51.39" y="454.58"/><use href="#m3" x="59.75" y="454.68"/><use href="#m3" x="68.11" y="454.78"/><use href="#m3" x="76.47" y="454.88"/><use href="#m3" x="84.83" y="454.99"/><use href="#m3" x="93.19" y="455.09"/><use href="#m3" x="101.56" y="455.19"/><use href="#m3" x="109.92" y="455.29"/><use href="#m3" x="118.28" y="455.39"/><use href="#m3" x="126.64" y="455.49"/><use href="#m3" x="135" y="455.59"/><use href="#m3" x="143.36" y="455.69"/><use href="#m3" x="151.72" y="455.8"/><use href="#m3" x="160.08" y="455.9"/><use href="#m3" x="168.44" y="456"/><use href="#m3" x="176.8" y="456.1"/><polyline clip-path="url(#c6)" points="17.95,457 20.18,457.3 26.23,458.7 176.8,459.4" fill="none" stroke="#ff66dd" stroke-width="1.2" stroke-linejoin="round"/><use href="#m4" x="17.95" y="457"/><use href="#m4" x="26.31" y="458.7"/><use href="#m4" x="34.67" y="458.74"/><use href="#m4" x="43.03" y="458.78"/><use href="#m4" x="51.39" y="458.82"/><use href="#m4" x="59.75" y="458.86"/><use href="#m4" x="68.11" y="458.89"/><use href="#m4" x="76.47" y="458.93"/><use href="#m4" x="84.83" y="458.97"/><use href="#m4" x="93.19" y="459.01"/><use href="#m4" x="101.56" y="459.05"/><use href="#m4" x="109.92" y="459.09"/><use href="#m4" x="118.28" y="459.13"/><use href="#m4" x="126.64" y="459.17"/><use href="#m4" x="135" y="459.21"/><use href="#m4" x="143.36" y="459.24"/><use href="#m4" x="151.72" y="459.28"/><use href="#m4" x="160.08" y="459.32"/><use href="#m4" x="168.44" y="459.36"/><use href="#m4" x="176.8" y="459.4"/><polyline clip-path="url(#c6)" points="17.95,453.2 26.55,453.5 34.82,456.8 44.69,457.8 176.8,458.3" fill="none" stroke="#a02020" stroke-width="1.2" stroke-linejoin="round"/><use href="#m5" x="17.95" y="453.2"/><use href="#m5" x="26.31" y="453.49"/><use href="#m5" x="34.67" y="456.74"/><use href="#m5" x="43.03" y="457.63"/><use href="#m5" x="51.39" y="457.83"/><use href="#m5" x="59.75" y="457.86"/><use href="#m5" x="68.11" y="457.89"/><use href="#m5" x="76.47" y="457.92"/><use href="#m5" x="84.83" y="457.95"/><use href="#m5" x="93.19" y="457.98"/><use href="#m5" x="101.56" y="458.02"/><use href="#m5" x="109.92" y="458.05"/><use href="#m5" x="118.28" y="458.08"/><use href="#m5" x="126.64" y="458.11"/><use href="#m5" x="135" y="458.14"/><use href="#m5" x="143.36" y="458.17"/><use href="#m5" x="151.72" y="458.21"/><use href="#m5" x="160.08" y="458.24"/><use href="#m5" x="168.44" y="458.27"/><use href="#m5" x="176.8" y="458.3"/><polyline clip-path="url(#c6)" points="17.95,448 26.7,451.8 44.69,453.2 98.81,455.5 176.8,457.1" fill="none" stroke="#ffd000" stroke-width="1.2" stroke-linejoin="round"/><use href="#m6" x="17.95" y="448"/><use href="#m6" x="26.31" y="451.63"/><use href="#m6" x="34.67" y="452.42"/><use href="#m6" x="43.03" y="453.07"/><use href="#m6" x="51.39" y="453.48"/><use href="#m6" x="59.75" y="453.84"/><use href="#m6" x="68.11" y="454.2"/><use href="#m6" x="76.47" y="454.55"/><use href="#m6" x="84.83" y="454.91"/><use href="#m6" x="93.19" y="455.26"/><use href="#m6" x="101.56" y="455.56"/><use href="#m6" x="109.92" y="455.73"/><use href="#m6" x="118.28" y="455.9"/><use href="#m6" x="126.64" y="456.07"/><use href="#m6" x="135" y="456.24"/><use href="#m6" x="143.36" y="456.41"/><use href="#m6" x="151.72" y="456.59"/><use href="#m6" x="160.08" y="456.76"/><use href="#m6" x="168.44" y="456.93"/><use href="#m6" x="176.8" y="457.1"/><polyline clip-path="url(#c6)" points="17.95,437.5 18.59,447 26.23,447.4 34.82,448.8 43.1,449.9 51.28,450.3 59.49,451.5 77.48,452.2 98.81,452.8 127.46,452.9 128.09,453.9 176.8,453.9" fill="none" stroke="#b93cff" stroke-width="1.2" stroke-linejoin="round"/><use href="#m7" x="17.95" y="437.5"/><use href="#m7" x="26.31" y="447.41"/><use href="#m7" x="34.67" y="448.78"/><use href="#m7" x="43.03" y="449.89"/><use href="#m7" x="51.39" y="450.32"/><use href="#m7" x="59.75" y="451.51"/><use href="#m7" x="68.11" y="451.84"/><use href="#m7" x="76.47" y="452.16"/><use href="#m7" x="84.83" y="452.41"/><use href="#m7" x="93.19" y="452.64"/><use href="#m7" x="101.56" y="452.81"/><use href="#m7" x="109.92" y="452.84"/><use href="#m7" x="118.28" y="452.87"/><use href="#m7" x="126.64" y="452.9"/><use href="#m7" x="135" y="453.9"/><use href="#m7" x="143.36" y="453.9"/><use href="#m7" x="151.72" y="453.9"/><use href="#m7" x="160.08" y="453.9"/><use href="#m7" x="168.44" y="453.9"/><use href="#m7" x="176.8" y="453.9"/><polyline clip-path="url(#c6)" points="17.95,454.6 24,457.6 176.8,459" fill="none" stroke="#dc1430" stroke-width="1.2" stroke-linejoin="round"/><use href="#m8" x="17.95" y="454.6"/><use href="#m8" x="26.31" y="457.62"/><use href="#m8" x="34.67" y="457.7"/><use href="#m8" x="43.03" y="457.77"/><use href="#m8" x="51.39" y="457.85"/><use href="#m8" x="59.75" y="457.93"/><use href="#m8" x="68.11" y="458"/><use href="#m8" x="76.47" y="458.08"/><use href="#m8" x="84.83" y="458.16"/><use href="#m8" x="93.19" y="458.23"/><use href="#m8" x="101.56" y="458.31"/><use href="#m8" x="109.92" y="458.39"/><use href="#m8" x="118.28" y="458.46"/><use href="#m8" x="126.64" y="458.54"/><use href="#m8" x="135" y="458.62"/><use href="#m8" x="143.36" y="458.69"/><use href="#m8" x="151.72" y="458.77"/><use href="#m8" x="160.08" y="458.85"/><use href="#m8" x="168.44" y="458.92"/><use href="#m8" x="176.8" y="459"/><polyline clip-path="url(#c6)" points="17.95,449 22.41,455 26.7,457 43.1,457.7 176.8,459" fill="none" stroke="#00ffff" stroke-width="1.2" stroke-linejoin="round"/><use href="#m9" x="17.95" y="449"/><use href="#m9" x="26.31" y="456.82"/><use href="#m9" x="34.67" y="457.34"/><use href="#m9" x="43.03" y="457.7"/><use href="#m9" x="51.39" y="457.78"/><use href="#m9" x="59.75" y="457.86"/><use href="#m9" x="68.11" y="457.94"/><use href="#m9" x="76.47" y="458.02"/><use href="#m9" x="84.83" y="458.11"/><use href="#m9" x="93.19" y="458.19"/><use href="#m9" x="101.56" y="458.27"/><use href="#m9" x="109.92" y="458.35"/><use href="#m9" x="118.28" y="458.43"/><use href="#m9" x="126.64" y="458.51"/><use href="#m9" x="135" y="458.59"/><use href="#m9" x="143.36" y="458.67"/><use href="#m9" x="151.72" y="458.76"/><use href="#m9" x="160.08" y="458.84"/><use href="#m9" x="168.44" y="458.92"/><use href="#m9" x="176.8" y="459"/><polyline clip-path="url(#c6)" points="17.95,457.5 19.54,457.8 176.8,459.3" fill="none" stroke="#ff6a00" stroke-width="1.2" stroke-linejoin="round"/><use href="#m10" x="17.95" y="457.5"/><use href="#m10" x="26.31" y="457.86"/><use href="#m10" x="34.67" y="457.94"/><use href="#m10" x="43.03" y="458.02"/><use href="#m10" x="51.39" y="458.1"/><use href="#m10" x="59.75" y="458.18"/><use href="#m10" x="68.11" y="458.26"/><use href="#m10" x="76.47" y="458.34"/><use href="#m10" x="84.83" y="458.42"/><use href="#m10" x="93.19" y="458.5"/><use href="#m10" x="101.56" y="458.58"/><use href="#m10" x="109.92" y="458.66"/><use href="#m10" x="118.28" y="458.74"/><use href="#m10" x="126.64" y="458.82"/><use href="#m10" x="135" y="458.9"/><use href="#m10" x="143.36" y="458.98"/><use href="#m10" x="151.72" y="459.06"/><use href="#m10" x="160.08" y="459.14"/><use href="#m10" x="168.44" y="459.22"/><use href="#m10" x="176.8" y="459.3"/><polyline clip-path="url(#c6)" points="17.95,449.3 22.41,455.2 26.7,456.8 43.1,457.5 176.8,459" fill="none" stroke="#20b0a4" stroke-width="1.2" stroke-linejoin="round"/><use href="#m11" x="17.95" y="449.3"/><use href="#m11" x="26.31" y="456.65"/><use href="#m11" x="34.67" y="457.14"/><use href="#m11" x="43.03" y="457.5"/><use href="#m11" x="51.39" y="457.59"/><use href="#m11" x="59.75" y="457.69"/><use href="#m11" x="68.11" y="457.78"/><use href="#m11" x="76.47" y="457.87"/><use href="#m11" x="84.83" y="457.97"/><use href="#m11" x="93.19" y="458.06"/><use href="#m11" x="101.56" y="458.16"/><use href="#m11" x="109.92" y="458.25"/><use href="#m11" x="118.28" y="458.34"/><use href="#m11" x="126.64" y="458.44"/><use href="#m11" x="135" y="458.53"/><use href="#m11" x="143.36" y="458.62"/><use href="#m11" x="151.72" y="458.72"/><use href="#m11" x="160.08" y="458.81"/><use href="#m11" x="168.44" y="458.91"/><use href="#m11" x="176.8" y="459"/><polyline clip-path="url(#c6)" points="17.95,453.9 22.73,456.8 30.37,458.4 176.8,459.1" fill="none" stroke="#8560f0" stroke-width="1.2" stroke-linejoin="round"/><use href="#m12" x="17.95" y="453.9"/><use href="#m12" x="26.31" y="457.55"/><use href="#m12" x="34.67" y="458.42"/><use href="#m12" x="43.03" y="458.46"/><use href="#m12" x="51.39" y="458.5"/><use href="#m12" x="59.75" y="458.54"/><use href="#m12" x="68.11" y="458.58"/><use href="#m12" x="76.47" y="458.62"/><use href="#m12" x="84.83" y="458.66"/><use href="#m12" x="93.19" y="458.7"/><use href="#m12" x="101.56" y="458.74"/><use href="#m12" x="109.92" y="458.78"/><use href="#m12" x="118.28" y="458.82"/><use href="#m12" x="126.64" y="458.86"/><use href="#m12" x="135" y="458.9"/><use href="#m12" x="143.36" y="458.94"/><use href="#m12" x="151.72" y="458.98"/><use href="#m12" x="160.08" y="459.02"/><use href="#m12" x="168.44" y="459.06"/><use href="#m12" x="176.8" y="459.1"/><polyline clip-path="url(#c6)" points="17.95,449 20.82,455.8 26.23,458 34.5,458.9 176.8,459.4" fill="none" stroke="#00ff00" stroke-width="1.2" stroke-linejoin="round"/><use href="#m13" x="17.95" y="449"/><use href="#m13" x="26.31" y="458.01"/><use href="#m13" x="34.67" y="458.9"/><use href="#m13" x="43.03" y="458.93"/><use href="#m13" x="51.39" y="458.96"/><use href="#m13" x="59.75" y="458.99"/><use href="#m13" x="68.11" y="459.02"/><use href="#m13" x="76.47" y="459.05"/><use href="#m13" x="84.83" y="459.08"/><use href="#m13" x="93.19" y="459.11"/><use href="#m13" x="101.56" y="459.14"/><use href="#m13" x="109.92" y="459.16"/><use href="#m13" x="118.28" y="459.19"/><use href="#m13" x="126.64" y="459.22"/><use href="#m13" x="135" y="459.25"/><use href="#m13" x="143.36" y="459.28"/><use href="#m13" x="151.72" y="459.31"/><use href="#m13" x="160.08" y="459.34"/><use href="#m13" x="168.44" y="459.37"/><use href="#m13" x="176.8" y="459.4"/><polyline clip-path="url(#c6)" points="17.95,449.5 22.41,455.5 26.7,457 43.1,457.6 176.8,459" fill="none" stroke="#00a4d4" stroke-width="1.2" stroke-linejoin="round"/><use href="#m14" x="17.95" y="449.5"/><use href="#m14" x="26.31" y="456.86"/><use href="#m14" x="34.67" y="457.29"/><use href="#m14" x="43.03" y="457.6"/><use href="#m14" x="51.39" y="457.69"/><use href="#m14" x="59.75" y="457.77"/><use href="#m14" x="68.11" y="457.86"/><use href="#m14" x="76.47" y="457.95"/><use href="#m14" x="84.83" y="458.04"/><use href="#m14" x="93.19" y="458.12"/><use href="#m14" x="101.56" y="458.21"/><use href="#m14" x="109.92" y="458.3"/><use href="#m14" x="118.28" y="458.39"/><use href="#m14" x="126.64" y="458.47"/><use href="#m14" x="135" y="458.56"/><use href="#m14" x="143.36" y="458.65"/><use href="#m14" x="151.72" y="458.74"/><use href="#m14" x="160.08" y="458.82"/><use href="#m14" x="168.44" y="458.91"/><use href="#m14" x="176.8" y="459"/>
<rect x="128.6" y="338.09" width="44.51" height="88.56" fill="#fff" stroke="#555" stroke-width="0.5"/>
<g font-size="4.38" fill="#111" stroke="#111" stroke-width="0.04"><path d="M130.64 342.01H144.9" stroke="#ff0000" stroke-width="1.2"/><use href="#m0" x="137.77" y="342.01"/><text x="146.53" y="343.59">COA</text><path d="M130.64 347.82H144.9" stroke="#0000ff" stroke-width="1.2"/><use href="#m1" x="137.77" y="347.82"/><text x="146.53" y="349.4">CMRLCCOA</text><path d="M130.64 353.63H144.9" stroke="#4cae1e" stroke-width="1.2"/><use href="#m2" x="137.77" y="353.63"/><text x="146.53" y="355.21">KOA</text><path d="M130.64 359.44H144.9" stroke="#ffa500" stroke-width="1.2"/><use href="#m3" x="137.77" y="359.44"/><text x="146.53" y="361.02">SWO</text><path d="M130.64 365.25H144.9" stroke="#ff66dd" stroke-width="1.2"/><use href="#m4" x="137.77" y="365.25"/><text x="146.53" y="366.83">GMO</text><path d="M130.64 371.06H144.9" stroke="#a02020" stroke-width="1.2"/><use href="#m5" x="137.77" y="371.06"/><text x="146.53" y="372.63">DMA</text><path d="M130.64 376.87H144.9" stroke="#ffd000" stroke-width="1.2"/><use href="#m6" x="137.77" y="376.87"/><text x="146.53" y="378.44">TROA</text><path d="M130.64 382.67H144.9" stroke="#b93cff" stroke-width="1.2"/><use href="#m7" x="137.77" y="382.67"/><text x="146.53" y="384.25">GO</text><path d="M130.64 388.48H144.9" stroke="#dc1430" stroke-width="1.2"/><use href="#m8" x="137.77" y="388.48"/><text x="146.53" y="390.06">PSO</text><path d="M130.64 394.29H144.9" stroke="#00ffff" stroke-width="1.2"/><use href="#m9" x="137.77" y="394.29"/><text x="146.53" y="395.87">DE</text><path d="M130.64 400.1H144.9" stroke="#ff6a00" stroke-width="1.2"/><use href="#m10" x="137.77" y="400.1"/><text x="146.53" y="401.68">SA</text><path d="M130.64 405.91H144.9" stroke="#20b0a4" stroke-width="1.2"/><use href="#m11" x="137.77" y="405.91"/><text x="146.53" y="407.49">ABC</text><path d="M130.64 411.72H144.9" stroke="#8560f0" stroke-width="1.2"/><use href="#m12" x="137.77" y="411.72"/><text x="146.53" y="413.3">ISSA</text><path d="M130.64 417.53H144.9" stroke="#00ff00" stroke-width="1.2"/><use href="#m13" x="137.77" y="417.53"/><text x="146.53" y="419.11">IGWO</text><path d="M130.64 423.34H144.9" stroke="#00a4d4" stroke-width="1.2"/><use href="#m14" x="137.77" y="423.34"/><text x="146.53" y="424.92">EWOA</text></g>
<!-- cec20 -->
<clipPath id="c7"><rect x="203.45" y="332.2" width="156.65" height="125.7"/></clipPath>
<rect x="203.45" y="332.5" width="156.35" height="125.1" fill="#fff" stroke="#606060" stroke-width="0.6"/>
<path d="M218.8 457.6v-1.6 M218.8 332.5v1.6 M234.47 457.6v-1.6 M234.47 332.5v1.6 M250.14 457.6v-1.6 M250.14 332.5v1.6 M265.8 457.6v-1.6 M265.8 332.5v1.6 M281.47 457.6v-1.6 M281.47 332.5v1.6 M297.13 457.6v-1.6 M297.13 332.5v1.6 M312.8 457.6v-1.6 M312.8 332.5v1.6 M328.47 457.6v-1.6 M328.47 332.5v1.6 M344.13 457.6v-1.6 M344.13 332.5v1.6 M359.8 457.6v-1.6 M359.8 332.5v1.6 M203.45 350h1.6 M359.8 350h-1.6 M203.45 369.5h1.6 M359.8 369.5h-1.6 M203.45 389h1.6 M359.8 389h-1.6 M203.45 408.5h1.6 M359.8 408.5h-1.6 M203.45 428h1.6 M359.8 428h-1.6 M203.45 447.5h1.6 M359.8 447.5h-1.6" stroke="#606060" stroke-width="0.5" fill="none"/>
<g font-size="5.01" fill="#303030"><g text-anchor="middle"><text x="218.8" y="465.32">50</text><text x="234.47" y="465.32">100</text><text x="250.14" y="465.32">150</text><text x="265.8" y="465.32">200</text><text x="281.47" y="465.32">250</text><text x="297.13" y="465.32">300</text><text x="312.8" y="465.32">350</text><text x="328.47" y="465.32">400</text><text x="344.13" y="465.32">450</text><text x="359.8" y="465.32">500</text></g><g text-anchor="end"><text x="201.45" y="351.8">1.6</text><text x="201.45" y="371.3">1.4</text><text x="201.45" y="390.8">1.2</text><text x="201.45" y="410.3">1</text><text x="201.45" y="429.8">0.8</text><text x="201.45" y="449.3">0.6</text></g><text x="204.25" y="331.6" font-size="4.81">×10<tspan dy="-2.31" font-size="3.91">4</tspan></text></g>
<text x="281.62" y="330.09" font-size="7.27" text-anchor="middle" fill="#111">cec20</text>
<text x="281.62" y="473.84" font-size="6.92" text-anchor="middle" fill="#262626">Iteration</text>
<text transform="translate(191.72 395.05) rotate(-90)" font-size="6.82" text-anchor="middle" fill="#262626">Fitness value</text>
<polyline clip-path="url(#c7)" points="203.45,407 205.02,418 211.6,424.5 228.2,426 284.6,427 306.53,429 359.8,429.5" fill="none" stroke="#ff0000" stroke-width="1.2" stroke-linejoin="round"/><use href="#m0" x="203.45" y="407"/><use href="#m0" x="211.68" y="424.51"/><use href="#m0" x="219.91" y="425.25"/><use href="#m0" x="228.14" y="425.99"/><use href="#m0" x="236.37" y="426.14"/><use href="#m0" x="244.59" y="426.29"/><use href="#m0" x="252.82" y="426.44"/><use href="#m0" x="261.05" y="426.58"/><use href="#m0" x="269.28" y="426.73"/><use href="#m0" x="277.51" y="426.87"/><use href="#m0" x="285.74" y="427.1"/><use href="#m0" x="293.97" y="427.85"/><use href="#m0" x="302.2" y="428.6"/><use href="#m0" x="310.43" y="429.04"/><use href="#m0" x="318.66" y="429.11"/><use href="#m0" x="326.88" y="429.19"/><use href="#m0" x="335.11" y="429.27"/><use href="#m0" x="343.34" y="429.35"/><use href="#m0" x="351.57" y="429.42"/><use href="#m0" x="359.8" y="429.5"/><polyline clip-path="url(#c7)" points="203.45,332.5 203.76,395 205.64,420 211.6,439 219.74,448.3 227.89,453 231.34,453.3 359.8,453.3" fill="none" stroke="#0000ff" stroke-width="1.2" stroke-linejoin="round"/><use href="#m1" x="203.45" y="332.5"/><use href="#m1" x="211.68" y="439.09"/><use href="#m1" x="219.91" y="448.4"/><use href="#m1" x="228.14" y="453.02"/><use href="#m1" x="236.37" y="453.3"/><use href="#m1" x="244.59" y="453.3"/><use href="#m1" x="252.82" y="453.3"/><use href="#m1" x="261.05" y="453.3"/><use href="#m1" x="269.28" y="453.3"/><use href="#m1" x="277.51" y="453.3"/><use href="#m1" x="285.74" y="453.3"/><use href="#m1" x="293.97" y="453.3"/><use href="#m1" x="302.2" y="453.3"/><use href="#m1" x="310.43" y="453.3"/><use href="#m1" x="318.66" y="453.3"/><use href="#m1" x="326.88" y="453.3"/><use href="#m1" x="335.11" y="453.3"/><use href="#m1" x="343.34" y="453.3"/><use href="#m1" x="351.57" y="453.3"/><use href="#m1" x="359.8" y="453.3"/><polyline clip-path="url(#c7)" points="203.45,409 206.27,412 211.6,412.5 281.47,413.5 281.78,416.7 353.53,416.7 353.85,419 359.8,419" fill="none" stroke="#4cae1e" stroke-width="1.2" stroke-linejoin="round"/><use href="#m2" x="203.45" y="409"/><use href="#m2" x="211.68" y="412.5"/><use href="#m2" x="219.91" y="412.62"/><use href="#m2" x="228.14" y="412.74"/><use href="#m2" x="236.37" y="412.85"/><use href="#m2" x="244.59" y="412.97"/><use href="#m2" x="252.82" y="413.09"/><use href="#m2" x="261.05" y="413.21"/><use href="#m2" x="269.28" y="413.33"/><use href="#m2" x="277.51" y="413.44"/><use href="#m2" x="285.74" y="416.7"/><use href="#m2" x="293.97" y="416.7"/><use href="#m2" x="302.2" y="416.7"/><use href="#m2" x="310.43" y="416.7"/><use href="#m2" x="318.66" y="416.7"/><use href="#m2" x="326.88" y="416.7"/><use href="#m2" x="335.11" y="416.7"/><use href="#m2" x="343.34" y="416.7"/><use href="#m2" x="351.57" y="416.7"/><use href="#m2" x="359.8" y="419"/><polyline clip-path="url(#c7)" points="203.45,410 209.4,412.5 211.6,412.8 231.34,413 288.36,414 288.67,418.4 303.4,418.4 303.71,421.6 359.8,421.6" fill="none" stroke="#ffa500" stroke-width="1.2" stroke-linejoin="round"/><use href="#m3" x="203.45" y="410"/><use href="#m3" x="211.68" y="412.8"/><use href="#m3" x="219.91" y="412.88"/><use href="#m3" x="228.14" y="412.97"/><use href="#m3" x="236.37" y="413.09"/><use href="#m3" x="244.59" y="413.23"/><use href="#m3" x="252.82" y="413.38"/><use href="#m3" x="261.05" y="413.52"/><use href="#m3" x="269.28" y="413.67"/><use href="#m3" x="277.51" y="413.81"/><use href="#m3" x="285.74" y="413.95"/><use href="#m3" x="293.97" y="418.4"/><use href="#m3" x="302.2" y="418.4"/><use href="#m3" x="310.43" y="421.6"/><use href="#m3" x="318.66" y="421.6"/><use href="#m3" x="326.88" y="421.6"/><use href="#m3" x="335.11" y="421.6"/><use href="#m3" x="343.34" y="421.6"/><use href="#m3" x="351.57" y="421.6"/><use href="#m3" x="359.8" y="421.6"/><polyline clip-path="url(#c7)" points="203.45,412 206.27,425 211.6,429 221.94,430.5 265.18,430.7 267.06,437 268.62,443 270.19,456 272.07,457.5 359.8,457.8" fill="none" stroke="#ff66dd" stroke-width="1.2" stroke-linejoin="round"/><use href="#m4" x="203.45" y="412"/><use href="#m4" x="211.68" y="429.01"/><use href="#m4" x="219.91" y="430.21"/><use href="#m4" x="228.14" y="430.53"/><use href="#m4" x="236.37" y="430.57"/><use href="#m4" x="244.59" y="430.6"/><use href="#m4" x="252.82" y="430.64"/><use href="#m4" x="261.05" y="430.68"/><use href="#m4" x="269.28" y="448.47"/><use href="#m4" x="277.51" y="457.52"/><use href="#m4" x="285.74" y="457.55"/><use href="#m4" x="293.97" y="457.57"/><use href="#m4" x="302.2" y="457.6"/><use href="#m4" x="310.43" y="457.63"/><use href="#m4" x="318.66" y="457.66"/><use href="#m4" x="326.88" y="457.69"/><use href="#m4" x="335.11" y="457.72"/><use href="#m4" x="343.34" y="457.74"/><use href="#m4" x="351.57" y="457.77"/><use href="#m4" x="359.8" y="457.8"/><polyline clip-path="url(#c7)" points="203.45,410 206.27,417 211.6,420 219.74,422.5 227.89,424.5 230.08,425 230.71,434 265.8,435.5 359.8,436.3" fill="none" stroke="#a02020" stroke-width="1.2" stroke-linejoin="round"/><use href="#m5" x="203.45" y="410"/><use href="#m5" x="211.68" y="420.03"/><use href="#m5" x="219.91" y="422.54"/><use href="#m5" x="228.14" y="424.56"/><use href="#m5" x="236.37" y="434.24"/><use href="#m5" x="244.59" y="434.59"/><use href="#m5" x="252.82" y="434.95"/><use href="#m5" x="261.05" y="435.3"/><use href="#m5" x="269.28" y="435.53"/><use href="#m5" x="277.51" y="435.6"/><use href="#m5" x="285.74" y="435.67"/><use href="#m5" x="293.97" y="435.74"/><use href="#m5" x="302.2" y="435.81"/><use href="#m5" x="310.43" y="435.88"/><use href="#m5" x="318.66" y="435.95"/><use href="#m5" x="326.88" y="436.02"/><use href="#m5" x="335.11" y="436.09"/><use href="#m5" x="343.34" y="436.16"/><use href="#m5" x="351.57" y="436.23"/><use href="#m5" x="359.8" y="436.3"/><polyline clip-path="url(#c7)" points="203.45,411 206.27,424 211.6,427.5 221.94,429 359.8,431" fill="none" stroke="#ffd000" stroke-width="1.2" stroke-linejoin="round"/><use href="#m6" x="203.45" y="411"/><use href="#m6" x="211.68" y="427.51"/><use href="#m6" x="219.91" y="428.71"/><use href="#m6" x="228.14" y="429.09"/><use href="#m6" x="236.37" y="429.21"/><use href="#m6" x="244.59" y="429.33"/><use href="#m6" x="252.82" y="429.45"/><use href="#m6" x="261.05" y="429.57"/><use href="#m6" x="269.28" y="429.69"/><use href="#m6" x="277.51" y="429.81"/><use href="#m6" x="285.74" y="429.93"/><use href="#m6" x="293.97" y="430.04"/><use href="#m6" x="302.2" y="430.16"/><use href="#m6" x="310.43" y="430.28"/><use href="#m6" x="318.66" y="430.4"/><use href="#m6" x="326.88" y="430.52"/><use href="#m6" x="335.11" y="430.64"/><use href="#m6" x="343.34" y="430.76"/><use href="#m6" x="351.57" y="430.88"/><use href="#m6" x="359.8" y="431"/><polyline clip-path="url(#c7)" points="203.45,390.3 204.08,404 206.27,407 211.6,407.3 230.71,407.3 231.96,413.7 357.29,414.1 358.55,422 359.8,424.9" fill="none" stroke="#b93cff" stroke-width="1.2" stroke-linejoin="round"/><use href="#m7" x="203.45" y="390.3"/><use href="#m7" x="211.68" y="407.3"/><use href="#m7" x="219.91" y="407.3"/><use href="#m7" x="228.14" y="407.3"/><use href="#m7" x="236.37" y="413.71"/><use href="#m7" x="244.59" y="413.74"/><use href="#m7" x="252.82" y="413.77"/><use href="#m7" x="261.05" y="413.79"/><use href="#m7" x="269.28" y="413.82"/><use href="#m7" x="277.51" y="413.85"/><use href="#m7" x="285.74" y="413.87"/><use href="#m7" x="293.97" y="413.9"/><use href="#m7" x="302.2" y="413.92"/><use href="#m7" x="310.43" y="413.95"/><use href="#m7" x="318.66" y="413.98"/><use href="#m7" x="326.88" y="414"/><use href="#m7" x="335.11" y="414.03"/><use href="#m7" x="343.34" y="414.06"/><use href="#m7" x="351.57" y="414.08"/><use href="#m7" x="359.8" y="424.9"/><polyline clip-path="url(#c7)" points="203.45,415 206.27,428 211.6,435.4 219.74,438 227.89,439 243.87,439.5 359.8,441" fill="none" stroke="#dc1430" stroke-width="1.2" stroke-linejoin="round"/><use href="#m8" x="203.45" y="415"/><use href="#m8" x="211.68" y="435.43"/><use href="#m8" x="219.91" y="438.02"/><use href="#m8" x="228.14" y="439.01"/><use href="#m8" x="236.37" y="439.27"/><use href="#m8" x="244.59" y="439.51"/><use href="#m8" x="252.82" y="439.62"/><use href="#m8" x="261.05" y="439.72"/><use href="#m8" x="269.28" y="439.83"/><use href="#m8" x="277.51" y="439.94"/><use href="#m8" x="285.74" y="440.04"/><use href="#m8" x="293.97" y="440.15"/><use href="#m8" x="302.2" y="440.25"/><use href="#m8" x="310.43" y="440.36"/><use href="#m8" x="318.66" y="440.47"/><use href="#m8" x="326.88" y="440.57"/><use href="#m8" x="335.11" y="440.68"/><use href="#m8" x="343.34" y="440.79"/><use href="#m8" x="351.57" y="440.89"/><use href="#m8" x="359.8" y="441"/><polyline clip-path="url(#c7)" points="203.45,414 211.6,417 219.74,424 227.89,431 235.1,435.4 265.8,436.5 297.13,438 359.8,439.2" fill="none" stroke="#00ffff" stroke-width="1.2" stroke-linejoin="round"/><use href="#m9" x="203.45" y="414"/><use href="#m9" x="211.68" y="417.07"/><use href="#m9" x="219.91" y="424.14"/><use href="#m9" x="228.14" y="431.15"/><use href="#m9" x="236.37" y="435.45"/><use href="#m9" x="244.59" y="435.74"/><use href="#m9" x="252.82" y="436.04"/><use href="#m9" x="261.05" y="436.33"/><use href="#m9" x="269.28" y="436.67"/><use href="#m9" x="277.51" y="437.06"/><use href="#m9" x="285.74" y="437.45"/><use href="#m9" x="293.97" y="437.85"/><use href="#m9" x="302.2" y="438.1"/><use href="#m9" x="310.43" y="438.25"/><use href="#m9" x="318.66" y="438.41"/><use href="#m9" x="326.88" y="438.57"/><use href="#m9" x="335.11" y="438.73"/><use href="#m9" x="343.34" y="438.88"/><use href="#m9" x="351.57" y="439.04"/><use href="#m9" x="359.8" y="439.2"/><polyline clip-path="url(#c7)" points="203.45,420 205.64,437 211.6,447 219.74,452.4 227.89,455.3 234.47,456 359.8,456.2" fill="none" stroke="#ff6a00" stroke-width="1.2" stroke-linejoin="round"/><use href="#m10" x="203.45" y="420"/><use href="#m10" x="211.68" y="447.05"/><use href="#m10" x="219.91" y="452.46"/><use href="#m10" x="228.14" y="455.33"/><use href="#m10" x="236.37" y="456"/><use href="#m10" x="244.59" y="456.02"/><use href="#m10" x="252.82" y="456.03"/><use href="#m10" x="261.05" y="456.04"/><use href="#m10" x="269.28" y="456.06"/><use href="#m10" x="277.51" y="456.07"/><use href="#m10" x="285.74" y="456.08"/><use href="#m10" x="293.97" y="456.09"/><use href="#m10" x="302.2" y="456.11"/><use href="#m10" x="310.43" y="456.12"/><use href="#m10" x="318.66" y="456.13"/><use href="#m10" x="326.88" y="456.15"/><use href="#m10" x="335.11" y="456.16"/><use href="#m10" x="343.34" y="456.17"/><use href="#m10" x="351.57" y="456.19"/><use href="#m10" x="359.8" y="456.2"/><polyline clip-path="url(#c7)" points="203.45,416 211.6,419 219.74,421.5 227.89,423 243.87,423.7 303.4,424.9 304.03,427.2 359.8,428.4" fill="none" stroke="#20b0a4" stroke-width="1.2" stroke-linejoin="round"/><use href="#m11" x="203.45" y="416"/><use href="#m11" x="211.68" y="419.03"/><use href="#m11" x="219.91" y="421.53"/><use href="#m11" x="228.14" y="423.01"/><use href="#m11" x="236.37" y="423.37"/><use href="#m11" x="244.59" y="423.71"/><use href="#m11" x="252.82" y="423.88"/><use href="#m11" x="261.05" y="424.05"/><use href="#m11" x="269.28" y="424.21"/><use href="#m11" x="277.51" y="424.38"/><use href="#m11" x="285.74" y="424.54"/><use href="#m11" x="293.97" y="424.71"/><use href="#m11" x="302.2" y="424.88"/><use href="#m11" x="310.43" y="427.34"/><use href="#m11" x="318.66" y="427.51"/><use href="#m11" x="326.88" y="427.69"/><use href="#m11" x="335.11" y="427.87"/><use href="#m11" x="343.34" y="428.05"/><use href="#m11" x="351.57" y="428.22"/><use href="#m11" x="359.8" y="428.4"/><polyline clip-path="url(#c7)" points="203.45,418 206.27,430 211.6,438 219.74,442.4 227.89,445.4 243.87,446.5 297.13,447.7 359.8,448.3" fill="none" stroke="#8560f0" stroke-width="1.2" stroke-linejoin="round"/><use href="#m12" x="203.45" y="418"/><use href="#m12" x="211.68" y="438.04"/><use href="#m12" x="219.91" y="442.46"/><use href="#m12" x="228.14" y="445.42"/><use href="#m12" x="236.37" y="445.98"/><use href="#m12" x="244.59" y="446.52"/><use href="#m12" x="252.82" y="446.7"/><use href="#m12" x="261.05" y="446.89"/><use href="#m12" x="269.28" y="447.07"/><use href="#m12" x="277.51" y="447.26"/><use href="#m12" x="285.74" y="447.44"/><use href="#m12" x="293.97" y="447.63"/><use href="#m12" x="302.2" y="447.75"/><use href="#m12" x="310.43" y="447.83"/><use href="#m12" x="318.66" y="447.91"/><use href="#m12" x="326.88" y="447.98"/><use href="#m12" x="335.11" y="448.06"/><use href="#m12" x="343.34" y="448.14"/><use href="#m12" x="351.57" y="448.22"/><use href="#m12" x="359.8" y="448.3"/><polyline clip-path="url(#c7)" points="203.45,411 206.27,424 211.6,428.4 227.89,429 234.47,430 235.1,433 311.23,433.6 311.86,436.6 359.8,436.6" fill="none" stroke="#00ff00" stroke-width="1.2" stroke-linejoin="round"/><use href="#m13" x="203.45" y="411"/><use href="#m13" x="211.68" y="428.4"/><use href="#m13" x="219.91" y="428.71"/><use href="#m13" x="228.14" y="429.04"/><use href="#m13" x="236.37" y="433.01"/><use href="#m13" x="244.59" y="433.07"/><use href="#m13" x="252.82" y="433.14"/><use href="#m13" x="261.05" y="433.2"/><use href="#m13" x="269.28" y="433.27"/><use href="#m13" x="277.51" y="433.33"/><use href="#m13" x="285.74" y="433.4"/><use href="#m13" x="293.97" y="433.46"/><use href="#m13" x="302.2" y="433.53"/><use href="#m13" x="310.43" y="433.59"/><use href="#m13" x="318.66" y="436.6"/><use href="#m13" x="326.88" y="436.6"/><use href="#m13" x="335.11" y="436.6"/><use href="#m13" x="343.34" y="436.6"/><use href="#m13" x="351.57" y="436.6"/><use href="#m13" x="359.8" y="436.6"/><polyline clip-path="url(#c7)" points="203.45,427 211.6,431.9 219.74,434 227.89,436 244.5,439 265.8,440.5 284.6,441.5 297.13,443 328.47,444.5 359.8,445.4" fill="none" stroke="#00a4d4" stroke-width="1.2" stroke-linejoin="round"/><use href="#m14" x="203.45" y="427"/><use href="#m14" x="211.68" y="431.92"/><use href="#m14" x="219.91" y="434.04"/><use href="#m14" x="228.14" y="436.04"/><use href="#m14" x="236.37" y="437.53"/><use href="#m14" x="244.59" y="439.01"/><use href="#m14" x="252.82" y="439.59"/><use href="#m14" x="261.05" y="440.17"/><use href="#m14" x="269.28" y="440.69"/><use href="#m14" x="277.51" y="441.12"/><use href="#m14" x="285.74" y="441.64"/><use href="#m14" x="293.97" y="442.62"/><use href="#m14" x="302.2" y="443.24"/><use href="#m14" x="310.43" y="443.64"/><use href="#m14" x="318.66" y="444.03"/><use href="#m14" x="326.88" y="444.42"/><use href="#m14" x="335.11" y="444.69"/><use href="#m14" x="343.34" y="444.93"/><use href="#m14" x="351.57" y="445.16"/><use href="#m14" x="359.8" y="445.4"/>
<rect x="312.36" y="336.19" width="43.81" height="88.63" fill="#fff" stroke="#555" stroke-width="0.5"/>
<g font-size="4.31" fill="#111" stroke="#111" stroke-width="0.04"><path d="M314.37 340.1H328.4" stroke="#ff0000" stroke-width="1.2"/><use href="#m0" x="321.38" y="340.1"/><text x="330" y="341.65">COA</text><path d="M314.37 345.92H328.4" stroke="#0000ff" stroke-width="1.2"/><use href="#m1" x="321.38" y="345.92"/><text x="330" y="347.47">CMRLCCOA</text><path d="M314.37 351.73H328.4" stroke="#4cae1e" stroke-width="1.2"/><use href="#m2" x="321.38" y="351.73"/><text x="330" y="353.28">KOA</text><path d="M314.37 357.55H328.4" stroke="#ffa500" stroke-width="1.2"/><use href="#m3" x="321.38" y="357.55"/><text x="330" y="359.1">SWO</text><path d="M314.37 363.36H328.4" stroke="#ff66dd" stroke-width="1.2"/><use href="#m4" x="321.38" y="363.36"/><text x="330" y="364.92">GMO</text><path d="M314.37 369.18H328.4" stroke="#a02020" stroke-width="1.2"/><use href="#m5" x="321.38" y="369.18"/><text x="330" y="370.73">DMA</text><path d="M314.37 374.99H328.4" stroke="#ffd000" stroke-width="1.2"/><use href="#m6" x="321.38" y="374.99"/><text x="330" y="376.55">TROA</text><path d="M314.37 380.81H328.4" stroke="#b93cff" stroke-width="1.2"/><use href="#m7" x="321.38" y="380.81"/><text x="330" y="382.36">GO</text><path d="M314.37 386.62H328.4" stroke="#dc1430" stroke-width="1.2"/><use href="#m8" x="321.38" y="386.62"/><text x="330" y="388.18">PSO</text><path d="M314.37 392.44H328.4" stroke="#00ffff" stroke-width="1.2"/><use href="#m9" x="321.38" y="392.44"/><text x="330" y="393.99">DE</text><path d="M314.37 398.25H328.4" stroke="#ff6a00" stroke-width="1.2"/><use href="#m10" x="321.38" y="398.25"/><text x="330" y="399.81">SA</text><path d="M314.37 404.07H328.4" stroke="#20b0a4" stroke-width="1.2"/><use href="#m11" x="321.38" y="404.07"/><text x="330" y="405.62">ABC</text><path d="M314.37 409.88H328.4" stroke="#8560f0" stroke-width="1.2"/><use href="#m12" x="321.38" y="409.88"/><text x="330" y="411.44">ISSA</text><path d="M314.37 415.7H328.4" stroke="#00ff00" stroke-width="1.2"/><use href="#m13" x="321.38" y="415.7"/><text x="330" y="417.25">IGWO</text><path d="M314.37 421.52H328.4" stroke="#00a4d4" stroke-width="1.2"/><use href="#m14" x="321.38" y="421.52"/><text x="330" y="423.07">EWOA</text></g>
<!-- cec25 -->
<clipPath id="c8"><rect x="387.1" y="334.1" width="156.4" height="123.9"/></clipPath>
<rect x="387.1" y="334.4" width="156.1" height="123.3" fill="#fff" stroke="#606060" stroke-width="0.6"/>
<path d="M402.43 457.7v-1.6 M402.43 334.4v1.6 M418.07 457.7v-1.6 M418.07 334.4v1.6 M433.71 457.7v-1.6 M433.71 334.4v1.6 M449.35 457.7v-1.6 M449.35 334.4v1.6 M464.99 457.7v-1.6 M464.99 334.4v1.6 M480.63 457.7v-1.6 M480.63 334.4v1.6 M496.28 457.7v-1.6 M496.28 334.4v1.6 M511.92 457.7v-1.6 M511.92 334.4v1.6 M527.56 457.7v-1.6 M527.56 334.4v1.6 M543.2 457.7v-1.6 M543.2 334.4v1.6 M387.1 335h1.6 M543.2 335h-1.6 M387.1 375.8h1.6 M543.2 375.8h-1.6 M387.1 416.6h1.6 M543.2 416.6h-1.6 M387.1 457.4h1.6 M543.2 457.4h-1.6" stroke="#606060" stroke-width="0.5" fill="none"/>
<g font-size="5" fill="#303030"><g text-anchor="middle"><text x="402.43" y="465.4">50</text><text x="418.07" y="465.4">100</text><text x="433.71" y="465.4">150</text><text x="449.35" y="465.4">200</text><text x="464.99" y="465.4">250</text><text x="480.63" y="465.4">300</text><text x="496.28" y="465.4">350</text><text x="511.92" y="465.4">400</text><text x="527.56" y="465.4">450</text><text x="543.2" y="465.4">500</text></g><g text-anchor="end"><text x="385.1" y="336.8">2</text><text x="385.1" y="377.6">1.5</text><text x="385.1" y="418.4">1</text><text x="385.1" y="459.2">0.5</text></g><text x="387.9" y="333.5" font-size="4.8">×10<tspan dy="-2.3" font-size="3.9">4</tspan></text></g>
<text x="465.15" y="332" font-size="7.25" text-anchor="middle" fill="#111">cec25</text>
<text x="465.15" y="473.91" font-size="6.9" text-anchor="middle" fill="#262626">Iteration</text>
<text transform="translate(375.39 396.05) rotate(-90)" font-size="6.8" text-anchor="middle" fill="#262626">Fitness value</text>
<polyline clip-path="url(#c8)" points="387.1,415 389.92,424 395.23,428 403.37,431 411.5,432.5 427.45,433 543.2,433.7" fill="none" stroke="#ff0000" stroke-width="1.2" stroke-linejoin="round"/><use href="#m0" x="387.1" y="415"/><use href="#m0" x="395.32" y="428.03"/><use href="#m0" x="403.53" y="431.03"/><use href="#m0" x="411.75" y="432.51"/><use href="#m0" x="419.96" y="432.77"/><use href="#m0" x="428.18" y="433"/><use href="#m0" x="436.39" y="433.05"/><use href="#m0" x="444.61" y="433.1"/><use href="#m0" x="452.83" y="433.15"/><use href="#m0" x="461.04" y="433.2"/><use href="#m0" x="469.26" y="433.25"/><use href="#m0" x="477.47" y="433.3"/><use href="#m0" x="485.69" y="433.35"/><use href="#m0" x="493.91" y="433.4"/><use href="#m0" x="502.12" y="433.45"/><use href="#m0" x="510.34" y="433.5"/><use href="#m0" x="518.55" y="433.55"/><use href="#m0" x="526.77" y="433.6"/><use href="#m0" x="534.98" y="433.65"/><use href="#m0" x="543.2" y="433.7"/><polyline clip-path="url(#c8)" points="387.1,334.4 387.41,400 388.66,425 395.23,440.1 403.37,446 411.5,448.9 543.2,448.9" fill="none" stroke="#0000ff" stroke-width="1.2" stroke-linejoin="round"/><use href="#m1" x="387.1" y="334.4"/><use href="#m1" x="395.32" y="440.16"/><use href="#m1" x="403.53" y="446.06"/><use href="#m1" x="411.75" y="448.9"/><use href="#m1" x="419.96" y="448.9"/><use href="#m1" x="428.18" y="448.9"/><use href="#m1" x="436.39" y="448.9"/><use href="#m1" x="444.61" y="448.9"/><use href="#m1" x="452.83" y="448.9"/><use href="#m1" x="461.04" y="448.9"/><use href="#m1" x="469.26" y="448.9"/><use href="#m1" x="477.47" y="448.9"/><use href="#m1" x="485.69" y="448.9"/><use href="#m1" x="493.91" y="448.9"/><use href="#m1" x="502.12" y="448.9"/><use href="#m1" x="510.34" y="448.9"/><use href="#m1" x="518.55" y="448.9"/><use href="#m1" x="526.77" y="448.9"/><use href="#m1" x="534.98" y="448.9"/><use href="#m1" x="543.2" y="448.9"/><polyline clip-path="url(#c8)" points="387.1,414 389.92,418 395.23,419 403.37,421 411.5,423.5 543.2,424" fill="none" stroke="#4cae1e" stroke-width="1.2" stroke-linejoin="round"/><use href="#m2" x="387.1" y="414"/><use href="#m2" x="395.32" y="419.02"/><use href="#m2" x="403.53" y="421.05"/><use href="#m2" x="411.75" y="423.5"/><use href="#m2" x="419.96" y="423.53"/><use href="#m2" x="428.18" y="423.56"/><use href="#m2" x="436.39" y="423.59"/><use href="#m2" x="444.61" y="423.63"/><use href="#m2" x="452.83" y="423.66"/><use href="#m2" x="461.04" y="423.69"/><use href="#m2" x="469.26" y="423.72"/><use href="#m2" x="477.47" y="423.75"/><use href="#m2" x="485.69" y="423.78"/><use href="#m2" x="493.91" y="423.81"/><use href="#m2" x="502.12" y="423.84"/><use href="#m2" x="510.34" y="423.88"/><use href="#m2" x="518.55" y="423.91"/><use href="#m2" x="526.77" y="423.94"/><use href="#m2" x="534.98" y="423.97"/><use href="#m2" x="543.2" y="424"/><polyline clip-path="url(#c8)" points="387.1,413 389.92,416.5 395.23,416.6 403.37,419 435.9,419 436.84,420.8 444.66,421 445.29,423.1 543.2,423.5" fill="none" stroke="#ffa500" stroke-width="1.2" stroke-linejoin="round"/><use href="#m3" x="387.1" y="413"/><use href="#m3" x="395.32" y="416.62"/><use href="#m3" x="403.53" y="419"/><use href="#m3" x="411.75" y="419"/><use href="#m3" x="419.96" y="419"/><use href="#m3" x="428.18" y="419"/><use href="#m3" x="436.39" y="419.95"/><use href="#m3" x="444.61" y="421"/><use href="#m3" x="452.83" y="423.13"/><use href="#m3" x="461.04" y="423.16"/><use href="#m3" x="469.26" y="423.2"/><use href="#m3" x="477.47" y="423.23"/><use href="#m3" x="485.69" y="423.27"/><use href="#m3" x="493.91" y="423.3"/><use href="#m3" x="502.12" y="423.33"/><use href="#m3" x="510.34" y="423.37"/><use href="#m3" x="518.55" y="423.4"/><use href="#m3" x="526.77" y="423.43"/><use href="#m3" x="534.98" y="423.47"/><use href="#m3" x="543.2" y="423.5"/><polyline clip-path="url(#c8)" points="387.1,414 389.92,428 395.23,434 403.37,436 446.22,436.6 447.79,440 448.73,455 450.29,458 543.2,458.3" fill="none" stroke="#ff66dd" stroke-width="1.2" stroke-linejoin="round"/><use href="#m4" x="387.1" y="414"/><use href="#m4" x="395.32" y="434.02"/><use href="#m4" x="403.53" y="436"/><use href="#m4" x="411.75" y="436.12"/><use href="#m4" x="419.96" y="436.23"/><use href="#m4" x="428.18" y="436.35"/><use href="#m4" x="436.39" y="436.46"/><use href="#m4" x="444.61" y="436.58"/><use href="#m4" x="452.83" y="458.01"/><use href="#m4" x="461.04" y="458.03"/><use href="#m4" x="469.26" y="458.06"/><use href="#m4" x="477.47" y="458.09"/><use href="#m4" x="485.69" y="458.11"/><use href="#m4" x="493.91" y="458.14"/><use href="#m4" x="502.12" y="458.17"/><use href="#m4" x="510.34" y="458.19"/><use href="#m4" x="518.55" y="458.22"/><use href="#m4" x="526.77" y="458.25"/><use href="#m4" x="534.98" y="458.27"/><use href="#m4" x="543.2" y="458.3"/><polyline clip-path="url(#c8)" points="387.1,413 389.92,424 395.23,430 403.37,434 411.5,436 427.45,437 543.2,437.2" fill="none" stroke="#a02020" stroke-width="1.2" stroke-linejoin="round"/><use href="#m5" x="387.1" y="413"/><use href="#m5" x="395.32" y="430.04"/><use href="#m5" x="403.53" y="434.04"/><use href="#m5" x="411.75" y="436.02"/><use href="#m5" x="419.96" y="436.53"/><use href="#m5" x="428.18" y="437"/><use href="#m5" x="436.39" y="437.02"/><use href="#m5" x="444.61" y="437.03"/><use href="#m5" x="452.83" y="437.04"/><use href="#m5" x="461.04" y="437.06"/><use href="#m5" x="469.26" y="437.07"/><use href="#m5" x="477.47" y="437.09"/><use href="#m5" x="485.69" y="437.1"/><use href="#m5" x="493.91" y="437.11"/><use href="#m5" x="502.12" y="437.13"/><use href="#m5" x="510.34" y="437.14"/><use href="#m5" x="518.55" y="437.16"/><use href="#m5" x="526.77" y="437.17"/><use href="#m5" x="534.98" y="437.19"/><use href="#m5" x="543.2" y="437.2"/><polyline clip-path="url(#c8)" points="387.1,414 389.92,428 395.23,434 403.37,437 411.5,437.8 468.12,438.3 486.89,439.5 543.2,440.1" fill="none" stroke="#ffd000" stroke-width="1.2" stroke-linejoin="round"/><use href="#m6" x="387.1" y="414"/><use href="#m6" x="395.32" y="434.03"/><use href="#m6" x="403.53" y="437.02"/><use href="#m6" x="411.75" y="437.8"/><use href="#m6" x="419.96" y="437.87"/><use href="#m6" x="428.18" y="437.95"/><use href="#m6" x="436.39" y="438.02"/><use href="#m6" x="444.61" y="438.09"/><use href="#m6" x="452.83" y="438.16"/><use href="#m6" x="461.04" y="438.24"/><use href="#m6" x="469.26" y="438.37"/><use href="#m6" x="477.47" y="438.9"/><use href="#m6" x="485.69" y="439.42"/><use href="#m6" x="493.91" y="439.57"/><use href="#m6" x="502.12" y="439.66"/><use href="#m6" x="510.34" y="439.75"/><use href="#m6" x="518.55" y="439.84"/><use href="#m6" x="526.77" y="439.92"/><use href="#m6" x="534.98" y="440.01"/><use href="#m6" x="543.2" y="440.1"/><polyline clip-path="url(#c8)" points="387.1,403.2 387.73,410 389.29,416 392.42,416.5 393.04,423 395.23,423.1 543.2,423.1" fill="none" stroke="#b93cff" stroke-width="1.2" stroke-linejoin="round"/><use href="#m7" x="387.1" y="403.2"/><use href="#m7" x="395.32" y="423.1"/><use href="#m7" x="403.53" y="423.1"/><use href="#m7" x="411.75" y="423.1"/><use href="#m7" x="419.96" y="423.1"/><use href="#m7" x="428.18" y="423.1"/><use href="#m7" x="436.39" y="423.1"/><use href="#m7" x="444.61" y="423.1"/><use href="#m7" x="452.83" y="423.1"/><use href="#m7" x="461.04" y="423.1"/><use href="#m7" x="469.26" y="423.1"/><use href="#m7" x="477.47" y="423.1"/><use href="#m7" x="485.69" y="423.1"/><use href="#m7" x="493.91" y="423.1"/><use href="#m7" x="502.12" y="423.1"/><use href="#m7" x="510.34" y="423.1"/><use href="#m7" x="518.55" y="423.1"/><use href="#m7" x="526.77" y="423.1"/><use href="#m7" x="534.98" y="423.1"/><use href="#m7" x="543.2" y="423.1"/><polyline clip-path="url(#c8)" points="387.1,415 389.92,428 395.23,436.6 403.37,441.3 411.5,442.4 427.45,443 543.2,443" fill="none" stroke="#dc1430" stroke-width="1.2" stroke-linejoin="round"/><use href="#m8" x="387.1" y="415"/><use href="#m8" x="395.32" y="436.65"/><use href="#m8" x="403.53" y="441.32"/><use href="#m8" x="411.75" y="442.41"/><use href="#m8" x="419.96" y="442.72"/><use href="#m8" x="428.18" y="443"/><use href="#m8" x="436.39" y="443"/><use href="#m8" x="444.61" y="443"/><use href="#m8" x="452.83" y="443"/><use href="#m8" x="461.04" y="443"/><use href="#m8" x="469.26" y="443"/><use href="#m8" x="477.47" y="443"/><use href="#m8" x="485.69" y="443"/><use href="#m8" x="493.91" y="443"/><use href="#m8" x="502.12" y="443"/><use href="#m8" x="510.34" y="443"/><use href="#m8" x="518.55" y="443"/><use href="#m8" x="526.77" y="443"/><use href="#m8" x="534.98" y="443"/><use href="#m8" x="543.2" y="443"/><polyline clip-path="url(#c8)" points="387.1,416 395.23,423.7 403.37,428.4 411.5,434.2 419.32,435 510.35,435.5 510.98,442.4 543.2,442.4" fill="none" stroke="#00ffff" stroke-width="1.2" stroke-linejoin="round"/><use href="#m9" x="387.1" y="416"/><use href="#m9" x="395.32" y="423.75"/><use href="#m9" x="403.53" y="428.52"/><use href="#m9" x="411.75" y="434.23"/><use href="#m9" x="419.96" y="435"/><use href="#m9" x="428.18" y="435.05"/><use href="#m9" x="436.39" y="435.09"/><use href="#m9" x="444.61" y="435.14"/><use href="#m9" x="452.83" y="435.18"/><use href="#m9" x="461.04" y="435.23"/><use href="#m9" x="469.26" y="435.27"/><use href="#m9" x="477.47" y="435.32"/><use href="#m9" x="485.69" y="435.36"/><use href="#m9" x="493.91" y="435.41"/><use href="#m9" x="502.12" y="435.45"/><use href="#m9" x="510.34" y="435.5"/><use href="#m9" x="518.55" y="442.4"/><use href="#m9" x="526.77" y="442.4"/><use href="#m9" x="534.98" y="442.4"/><use href="#m9" x="543.2" y="442.4"/><polyline clip-path="url(#c8)" points="387.1,420 388.66,440 395.23,452.4 403.37,455.3 411.5,455.7 543.2,455.8" fill="none" stroke="#ff6a00" stroke-width="1.2" stroke-linejoin="round"/><use href="#m10" x="387.1" y="420"/><use href="#m10" x="395.32" y="452.43"/><use href="#m10" x="403.53" y="455.31"/><use href="#m10" x="411.75" y="455.7"/><use href="#m10" x="419.96" y="455.71"/><use href="#m10" x="428.18" y="455.71"/><use href="#m10" x="436.39" y="455.72"/><use href="#m10" x="444.61" y="455.73"/><use href="#m10" x="452.83" y="455.73"/><use href="#m10" x="461.04" y="455.74"/><use href="#m10" x="469.26" y="455.74"/><use href="#m10" x="477.47" y="455.75"/><use href="#m10" x="485.69" y="455.76"/><use href="#m10" x="493.91" y="455.76"/><use href="#m10" x="502.12" y="455.77"/><use href="#m10" x="510.34" y="455.78"/><use href="#m10" x="518.55" y="455.78"/><use href="#m10" x="526.77" y="455.79"/><use href="#m10" x="534.98" y="455.79"/><use href="#m10" x="543.2" y="455.8"/><polyline clip-path="url(#c8)" points="387.1,415 395.23,424 403.37,429 411.5,431.5 427.45,432.3 543.2,432.5" fill="none" stroke="#20b0a4" stroke-width="1.2" stroke-linejoin="round"/><use href="#m11" x="387.1" y="415"/><use href="#m11" x="395.32" y="424.05"/><use href="#m11" x="403.53" y="429.05"/><use href="#m11" x="411.75" y="431.51"/><use href="#m11" x="419.96" y="431.92"/><use href="#m11" x="428.18" y="432.3"/><use href="#m11" x="436.39" y="432.32"/><use href="#m11" x="444.61" y="432.33"/><use href="#m11" x="452.83" y="432.34"/><use href="#m11" x="461.04" y="432.36"/><use href="#m11" x="469.26" y="432.37"/><use href="#m11" x="477.47" y="432.39"/><use href="#m11" x="485.69" y="432.4"/><use href="#m11" x="493.91" y="432.41"/><use href="#m11" x="502.12" y="432.43"/><use href="#m11" x="510.34" y="432.44"/><use href="#m11" x="518.55" y="432.46"/><use href="#m11" x="526.77" y="432.47"/><use href="#m11" x="534.98" y="432.49"/><use href="#m11" x="543.2" y="432.5"/><polyline clip-path="url(#c8)" points="387.1,420 389.92,435 395.23,442.4 403.37,447.7 411.5,449.5 419.32,450 449.35,451 468.12,451.8 543.2,453" fill="none" stroke="#8560f0" stroke-width="1.2" stroke-linejoin="round"/><use href="#m12" x="387.1" y="420"/><use href="#m12" x="395.32" y="442.45"/><use href="#m12" x="403.53" y="447.74"/><use href="#m12" x="411.75" y="449.52"/><use href="#m12" x="419.96" y="450.02"/><use href="#m12" x="428.18" y="450.29"/><use href="#m12" x="436.39" y="450.57"/><use href="#m12" x="444.61" y="450.84"/><use href="#m12" x="452.83" y="451.15"/><use href="#m12" x="461.04" y="451.5"/><use href="#m12" x="469.26" y="451.82"/><use href="#m12" x="477.47" y="451.95"/><use href="#m12" x="485.69" y="452.08"/><use href="#m12" x="493.91" y="452.21"/><use href="#m12" x="502.12" y="452.34"/><use href="#m12" x="510.34" y="452.47"/><use href="#m12" x="518.55" y="452.61"/><use href="#m12" x="526.77" y="452.74"/><use href="#m12" x="534.98" y="452.87"/><use href="#m12" x="543.2" y="453"/><polyline clip-path="url(#c8)" points="387.1,412 389.92,418 395.23,424 403.37,431 405.56,431.9 458.11,431.9 458.74,433.5 538.51,435 539.13,437.8 543.2,437.8" fill="none" stroke="#00ff00" stroke-width="1.2" stroke-linejoin="round"/><use href="#m13" x="387.1" y="412"/><use href="#m13" x="395.32" y="424.07"/><use href="#m13" x="403.53" y="431.07"/><use href="#m13" x="411.75" y="431.9"/><use href="#m13" x="419.96" y="431.9"/><use href="#m13" x="428.18" y="431.9"/><use href="#m13" x="436.39" y="431.9"/><use href="#m13" x="444.61" y="431.9"/><use href="#m13" x="452.83" y="431.9"/><use href="#m13" x="461.04" y="433.54"/><use href="#m13" x="469.26" y="433.7"/><use href="#m13" x="477.47" y="433.85"/><use href="#m13" x="485.69" y="434.01"/><use href="#m13" x="493.91" y="434.16"/><use href="#m13" x="502.12" y="434.32"/><use href="#m13" x="510.34" y="434.47"/><use href="#m13" x="518.55" y="434.62"/><use href="#m13" x="526.77" y="434.78"/><use href="#m13" x="534.98" y="434.93"/><use href="#m13" x="543.2" y="437.8"/><polyline clip-path="url(#c8)" points="387.1,420 395.23,426 403.37,436.6 411.5,443.6 419.32,444.8 427.45,448.3 435.9,452.4 468.12,453 543.2,454.8" fill="none" stroke="#00a4d4" stroke-width="1.2" stroke-linejoin="round"/><use href="#m14" x="387.1" y="420"/><use href="#m14" x="395.32" y="426.11"/><use href="#m14" x="403.53" y="436.74"/><use href="#m14" x="411.75" y="443.64"/><use href="#m14" x="419.96" y="445.08"/><use href="#m14" x="428.18" y="448.65"/><use href="#m14" x="436.39" y="452.41"/><use href="#m14" x="444.61" y="452.56"/><use href="#m14" x="452.83" y="452.72"/><use href="#m14" x="461.04" y="452.87"/><use href="#m14" x="469.26" y="453.03"/><use href="#m14" x="477.47" y="453.22"/><use href="#m14" x="485.69" y="453.42"/><use href="#m14" x="493.91" y="453.62"/><use href="#m14" x="502.12" y="453.82"/><use href="#m14" x="510.34" y="454.01"/><use href="#m14" x="518.55" y="454.21"/><use href="#m14" x="526.77" y="454.41"/><use href="#m14" x="534.98" y="454.6"/><use href="#m14" x="543.2" y="454.8"/>
<rect x="495.84" y="338.04" width="43.74" height="87.36" fill="#fff" stroke="#555" stroke-width="0.5"/>
<g font-size="4.3" fill="#111" stroke="#111" stroke-width="0.04"><path d="M497.84 341.9H511.85" stroke="#ff0000" stroke-width="1.2"/><use href="#m0" x="504.85" y="341.9"/><text x="513.45" y="343.45">COA</text><path d="M497.84 347.63H511.85" stroke="#0000ff" stroke-width="1.2"/><use href="#m1" x="504.85" y="347.63"/><text x="513.45" y="349.18">CMRLCCOA</text><path d="M497.84 353.36H511.85" stroke="#4cae1e" stroke-width="1.2"/><use href="#m2" x="504.85" y="353.36"/><text x="513.45" y="354.92">KOA</text><path d="M497.84 359.09H511.85" stroke="#ffa500" stroke-width="1.2"/><use href="#m3" x="504.85" y="359.09"/><text x="513.45" y="360.65">SWO</text><path d="M497.84 364.83H511.85" stroke="#ff66dd" stroke-width="1.2"/><use href="#m4" x="504.85" y="364.83"/><text x="513.45" y="366.38">GMO</text><path d="M497.84 370.56H511.85" stroke="#a02020" stroke-width="1.2"/><use href="#m5" x="504.85" y="370.56"/><text x="513.45" y="372.11">DMA</text><path d="M497.84 376.29H511.85" stroke="#ffd000" stroke-width="1.2"/><use href="#m6" x="504.85" y="376.29"/><text x="513.45" y="377.84">TROA</text><path d="M497.84 382.02H511.85" stroke="#b93cff" stroke-width="1.2"/><use href="#m7" x="504.85" y="382.02"/><text x="513.45" y="383.57">GO</text><path d="M497.84 387.75H511.85" stroke="#dc1430" stroke-width="1.2"/><use href="#m8" x="504.85" y="387.75"/><text x="513.45" y="389.3">PSO</text><path d="M497.84 393.48H511.85" stroke="#00ffff" stroke-width="1.2"/><use href="#m9" x="504.85" y="393.48"/><text x="513.45" y="395.03">DE</text><path d="M497.84 399.21H511.85" stroke="#ff6a00" stroke-width="1.2"/><use href="#m10" x="504.85" y="399.21"/><text x="513.45" y="400.76">SA</text><path d="M497.84 404.94H511.85" stroke="#20b0a4" stroke-width="1.2"/><use href="#m11" x="504.85" y="404.94"/><text x="513.45" y="406.49">ABC</text><path d="M497.84 410.67H511.85" stroke="#8560f0" stroke-width="1.2"/><use href="#m12" x="504.85" y="410.67"/><text x="513.45" y="412.22">ISSA</text><path d="M497.84 416.4H511.85" stroke="#00ff00" stroke-width="1.2"/><use href="#m13" x="504.85" y="416.4"/><text x="513.45" y="417.95">IGWO</text><path d="M497.84 422.13H511.85" stroke="#00a4d4" stroke-width="1.2"/><use href="#m14" x="504.85" y="422.13"/><text x="513.45" y="423.68">EWOA</text></g>
<!-- cec27 -->
<clipPath id="c9"><rect x="68.75" y="494.1" width="156.15" height="124.2"/></clipPath>
<rect x="68.75" y="494.4" width="155.85" height="123.6" fill="#fff" stroke="#606060" stroke-width="0.6"/>
<path d="M84.05 618v-1.6 M84.05 494.4v1.6 M99.67 618v-1.6 M99.67 494.4v1.6 M115.29 618v-1.6 M115.29 494.4v1.6 M130.9 618v-1.6 M130.9 494.4v1.6 M146.52 618v-1.6 M146.52 494.4v1.6 M162.14 618v-1.6 M162.14 494.4v1.6 M177.75 618v-1.6 M177.75 494.4v1.6 M193.37 618v-1.6 M193.37 494.4v1.6 M208.98 618v-1.6 M208.98 494.4v1.6 M224.6 618v-1.6 M224.6 494.4v1.6 M68.75 496.4h1.6 M224.6 496.4h-1.6 M68.75 519.2h1.6 M224.6 519.2h-1.6 M68.75 542h1.6 M224.6 542h-1.6 M68.75 564.8h1.6 M224.6 564.8h-1.6 M68.75 587.6h1.6 M224.6 587.6h-1.6 M68.75 610.4h1.6 M224.6 610.4h-1.6" stroke="#606060" stroke-width="0.5" fill="none"/>
<g font-size="5" fill="#303030"><g text-anchor="middle"><text x="84.05" y="625.69">50</text><text x="99.67" y="625.69">100</text><text x="115.29" y="625.69">150</text><text x="130.9" y="625.69">200</text><text x="146.52" y="625.69">250</text><text x="162.14" y="625.69">300</text><text x="177.75" y="625.69">350</text><text x="193.37" y="625.69">400</text><text x="208.98" y="625.69">450</text><text x="224.6" y="625.69">500</text></g><g text-anchor="end"><text x="66.75" y="498.2">3</text><text x="66.75" y="521">2.5</text><text x="66.75" y="543.8">2</text><text x="66.75" y="566.6">1.5</text><text x="66.75" y="589.4">1</text><text x="66.75" y="612.2">0.5</text></g><text x="69.55" y="493.5" font-size="4.8">×10<tspan dy="-2.3" font-size="3.9">4</tspan></text></g>
<text x="146.68" y="492" font-size="7.24" text-anchor="middle" fill="#111">cec27</text>
<text x="146.68" y="634.18" font-size="6.89" text-anchor="middle" fill="#262626">Iteration</text>
<text transform="translate(57.06 556.2) rotate(-90)" font-size="6.79" text-anchor="middle" fill="#262626">Fitness value</text>
<polyline clip-path="url(#c9)" points="68.75,558 70,560.8 224.6,560.8" fill="none" stroke="#ff0000" stroke-width="1.2" stroke-linejoin="round"/><use href="#m0" x="68.75" y="558"/><use href="#m0" x="76.95" y="560.8"/><use href="#m0" x="85.16" y="560.8"/><use href="#m0" x="93.36" y="560.8"/><use href="#m0" x="101.56" y="560.8"/><use href="#m0" x="109.76" y="560.8"/><use href="#m0" x="117.97" y="560.8"/><use href="#m0" x="126.17" y="560.8"/><use href="#m0" x="134.37" y="560.8"/><use href="#m0" x="142.57" y="560.8"/><use href="#m0" x="150.78" y="560.8"/><use href="#m0" x="158.98" y="560.8"/><use href="#m0" x="167.18" y="560.8"/><use href="#m0" x="175.38" y="560.8"/><use href="#m0" x="183.59" y="560.8"/><use href="#m0" x="191.79" y="560.8"/><use href="#m0" x="199.99" y="560.8"/><use href="#m0" x="208.19" y="560.8"/><use href="#m0" x="216.4" y="560.8"/><use href="#m0" x="224.6" y="560.8"/><polyline clip-path="url(#c9)" points="68.75,614 69.69,618.2 224.6,618.3" fill="none" stroke="#0000ff" stroke-width="1.2" stroke-linejoin="round"/><use href="#m1" x="68.75" y="614"/><use href="#m1" x="76.95" y="618.2"/><use href="#m1" x="85.16" y="618.21"/><use href="#m1" x="93.36" y="618.22"/><use href="#m1" x="101.56" y="618.22"/><use href="#m1" x="109.76" y="618.23"/><use href="#m1" x="117.97" y="618.23"/><use href="#m1" x="126.17" y="618.24"/><use href="#m1" x="134.37" y="618.24"/><use href="#m1" x="142.57" y="618.25"/><use href="#m1" x="150.78" y="618.25"/><use href="#m1" x="158.98" y="618.26"/><use href="#m1" x="167.18" y="618.26"/><use href="#m1" x="175.38" y="618.27"/><use href="#m1" x="183.59" y="618.27"/><use href="#m1" x="191.79" y="618.28"/><use href="#m1" x="199.99" y="618.28"/><use href="#m1" x="208.19" y="618.29"/><use href="#m1" x="216.4" y="618.29"/><use href="#m1" x="224.6" y="618.3"/><polyline clip-path="url(#c9)" points="68.75,551 70,554 93.42,554.4 94.05,556.7 109.04,556.7 109.98,560.2 116.85,560.2 117.47,569.6 141.21,569.6 141.83,573.1 147.14,573.1 147.77,576 151.52,576 152.14,584.3 224.6,584.8" fill="none" stroke="#4cae1e" stroke-width="1.2" stroke-linejoin="round"/><use href="#m2" x="68.75" y="551"/><use href="#m2" x="76.95" y="554.12"/><use href="#m2" x="85.16" y="554.26"/><use href="#m2" x="93.36" y="554.4"/><use href="#m2" x="101.56" y="556.7"/><use href="#m2" x="109.76" y="559.4"/><use href="#m2" x="117.97" y="569.6"/><use href="#m2" x="126.17" y="569.6"/><use href="#m2" x="134.37" y="569.6"/><use href="#m2" x="142.57" y="573.1"/><use href="#m2" x="150.78" y="576"/><use href="#m2" x="158.98" y="584.35"/><use href="#m2" x="167.18" y="584.4"/><use href="#m2" x="175.38" y="584.46"/><use href="#m2" x="183.59" y="584.52"/><use href="#m2" x="191.79" y="584.57"/><use href="#m2" x="199.99" y="584.63"/><use href="#m2" x="208.19" y="584.69"/><use href="#m2" x="216.4" y="584.74"/><use href="#m2" x="224.6" y="584.8"/><polyline clip-path="url(#c9)" points="68.75,550 70,553.8 136.52,553.8 137.15,556.1 161.2,556.1 162.14,563.8 174.63,563.8 175.25,568.4 199.61,568.4 200.24,575 215.23,575 215.85,583 224.6,583" fill="none" stroke="#ffa500" stroke-width="1.2" stroke-linejoin="round"/><use href="#m3" x="68.75" y="550"/><use href="#m3" x="76.95" y="553.8"/><use href="#m3" x="85.16" y="553.8"/><use href="#m3" x="93.36" y="553.8"/><use href="#m3" x="101.56" y="553.8"/><use href="#m3" x="109.76" y="553.8"/><use href="#m3" x="117.97" y="553.8"/><use href="#m3" x="126.17" y="553.8"/><use href="#m3" x="134.37" y="553.8"/><use href="#m3" x="142.57" y="556.1"/><use href="#m3" x="150.78" y="556.1"/><use href="#m3" x="158.98" y="556.1"/><use href="#m3" x="167.18" y="563.8"/><use href="#m3" x="175.38" y="568.4"/><use href="#m3" x="183.59" y="568.4"/><use href="#m3" x="191.79" y="568.4"/><use href="#m3" x="199.99" y="572.39"/><use href="#m3" x="208.19" y="575"/><use href="#m3" x="216.4" y="583"/><use href="#m3" x="224.6" y="583"/><polyline clip-path="url(#c9)" points="68.75,554 69.37,575 71.56,592 76.87,609 84.99,613 93.11,614 224.6,615" fill="none" stroke="#ff66dd" stroke-width="1.2" stroke-linejoin="round"/><use href="#m4" x="68.75" y="554"/><use href="#m4" x="76.95" y="609.04"/><use href="#m4" x="85.16" y="613.02"/><use href="#m4" x="93.36" y="614"/><use href="#m4" x="101.56" y="614.06"/><use href="#m4" x="109.76" y="614.13"/><use href="#m4" x="117.97" y="614.19"/><use href="#m4" x="126.17" y="614.25"/><use href="#m4" x="134.37" y="614.31"/><use href="#m4" x="142.57" y="614.38"/><use href="#m4" x="150.78" y="614.44"/><use href="#m4" x="158.98" y="614.5"/><use href="#m4" x="167.18" y="614.56"/><use href="#m4" x="175.38" y="614.63"/><use href="#m4" x="183.59" y="614.69"/><use href="#m4" x="191.79" y="614.75"/><use href="#m4" x="199.99" y="614.81"/><use href="#m4" x="208.19" y="614.88"/><use href="#m4" x="216.4" y="614.94"/><use href="#m4" x="224.6" y="615"/><polyline clip-path="url(#c9)" points="68.75,543.9 69.06,563.8 72.19,583.7 76.46,595.4 85.24,602.4 93.42,605.4 101.54,607.1 109.85,608.3 118.1,608.9 124.03,609.5 162.14,610.3 224.6,610.6" fill="none" stroke="#a02020" stroke-width="1.2" stroke-linejoin="round"/><use href="#m5" x="68.75" y="543.9"/><use href="#m5" x="76.95" y="595.79"/><use href="#m5" x="85.16" y="602.33"/><use href="#m5" x="93.36" y="605.38"/><use href="#m5" x="101.56" y="607.1"/><use href="#m5" x="109.76" y="608.29"/><use href="#m5" x="117.97" y="608.89"/><use href="#m5" x="126.17" y="609.54"/><use href="#m5" x="134.37" y="609.72"/><use href="#m5" x="142.57" y="609.89"/><use href="#m5" x="150.78" y="610.06"/><use href="#m5" x="158.98" y="610.23"/><use href="#m5" x="167.18" y="610.32"/><use href="#m5" x="175.38" y="610.36"/><use href="#m5" x="183.59" y="610.4"/><use href="#m5" x="191.79" y="610.44"/><use href="#m5" x="199.99" y="610.48"/><use href="#m5" x="208.19" y="610.52"/><use href="#m5" x="216.4" y="610.56"/><use href="#m5" x="224.6" y="610.6"/><polyline clip-path="url(#c9)" points="68.75,549 69.69,552 71.56,557 224.6,557.3" fill="none" stroke="#ffd000" stroke-width="1.2" stroke-linejoin="round"/><use href="#m6" x="68.75" y="549"/><use href="#m6" x="76.95" y="557.01"/><use href="#m6" x="85.16" y="557.03"/><use href="#m6" x="93.36" y="557.04"/><use href="#m6" x="101.56" y="557.06"/><use href="#m6" x="109.76" y="557.07"/><use href="#m6" x="117.97" y="557.09"/><use href="#m6" x="126.17" y="557.11"/><use href="#m6" x="134.37" y="557.12"/><use href="#m6" x="142.57" y="557.14"/><use href="#m6" x="150.78" y="557.16"/><use href="#m6" x="158.98" y="557.17"/><use href="#m6" x="167.18" y="557.19"/><use href="#m6" x="175.38" y="557.2"/><use href="#m6" x="183.59" y="557.22"/><use href="#m6" x="191.79" y="557.24"/><use href="#m6" x="199.99" y="557.25"/><use href="#m6" x="208.19" y="557.27"/><use href="#m6" x="216.4" y="557.28"/><use href="#m6" x="224.6" y="557.3"/><polyline clip-path="url(#c9)" points="68.75,494.4 69.69,520 70.94,545.1 72.81,549 74.68,554.5 85.24,554.4 93.42,559.1 101.54,561.4 109.85,563.8 118.1,565.5 120.28,565.5 120.91,569.6 147.14,569.6 147.77,574.9 164.63,574.9 165.26,581.9 215.23,581.9 215.85,587.6 224.6,587.6" fill="none" stroke="#b93cff" stroke-width="1.2" stroke-linejoin="round"/><use href="#m7" x="68.75" y="494.4"/><use href="#m7" x="76.95" y="554.48"/><use href="#m7" x="85.16" y="554.4"/><use href="#m7" x="93.36" y="559.06"/><use href="#m7" x="101.56" y="561.4"/><use href="#m7" x="109.76" y="563.77"/><use href="#m7" x="117.97" y="565.47"/><use href="#m7" x="126.17" y="569.6"/><use href="#m7" x="134.37" y="569.6"/><use href="#m7" x="142.57" y="569.6"/><use href="#m7" x="150.78" y="574.9"/><use href="#m7" x="158.98" y="574.9"/><use href="#m7" x="167.18" y="581.9"/><use href="#m7" x="175.38" y="581.9"/><use href="#m7" x="183.59" y="581.9"/><use href="#m7" x="191.79" y="581.9"/><use href="#m7" x="199.99" y="581.9"/><use href="#m7" x="208.19" y="581.9"/><use href="#m7" x="216.4" y="587.6"/><use href="#m7" x="224.6" y="587.6"/><polyline clip-path="url(#c9)" points="68.75,518.7 76.46,531 85.24,537.5 93.42,541.2 101.54,545.1 109.85,546.6 118.1,547.2 130.9,547.6 162.14,548.3 224.6,548.5" fill="none" stroke="#dc1430" stroke-width="1.2" stroke-linejoin="round"/><use href="#m8" x="68.75" y="518.7"/><use href="#m8" x="76.95" y="531.36"/><use href="#m8" x="85.16" y="537.44"/><use href="#m8" x="93.36" y="541.17"/><use href="#m8" x="101.56" y="545.1"/><use href="#m8" x="109.76" y="546.58"/><use href="#m8" x="117.97" y="547.19"/><use href="#m8" x="126.17" y="547.45"/><use href="#m8" x="134.37" y="547.68"/><use href="#m8" x="142.57" y="547.86"/><use href="#m8" x="150.78" y="548.05"/><use href="#m8" x="158.98" y="548.23"/><use href="#m8" x="167.18" y="548.32"/><use href="#m8" x="175.38" y="548.34"/><use href="#m8" x="183.59" y="548.37"/><use href="#m8" x="191.79" y="548.39"/><use href="#m8" x="199.99" y="548.42"/><use href="#m8" x="208.19" y="548.45"/><use href="#m8" x="216.4" y="548.47"/><use href="#m8" x="224.6" y="548.5"/><polyline clip-path="url(#c9)" points="68.75,566.1 72.19,575 76.46,582.5 79.37,585 79.99,591.9 85.24,593.1 89.05,595 89.68,597.5 93.42,598.9 97.17,599.5 97.8,601.3 101.54,601.9 109.85,603.6 118.1,604.2 123.94,606 146.52,607.6 177.75,608.5 224.6,609" fill="none" stroke="#00ffff" stroke-width="1.2" stroke-linejoin="round"/><use href="#m9" x="68.75" y="566.1"/><use href="#m9" x="76.95" y="582.92"/><use href="#m9" x="85.16" y="593.08"/><use href="#m9" x="93.36" y="598.88"/><use href="#m9" x="101.56" y="601.9"/><use href="#m9" x="109.76" y="603.58"/><use href="#m9" x="117.97" y="604.19"/><use href="#m9" x="126.17" y="606.16"/><use href="#m9" x="134.37" y="606.74"/><use href="#m9" x="142.57" y="607.32"/><use href="#m9" x="150.78" y="607.72"/><use href="#m9" x="158.98" y="607.96"/><use href="#m9" x="167.18" y="608.2"/><use href="#m9" x="175.38" y="608.43"/><use href="#m9" x="183.59" y="608.56"/><use href="#m9" x="191.79" y="608.65"/><use href="#m9" x="199.99" y="608.74"/><use href="#m9" x="208.19" y="608.82"/><use href="#m9" x="216.4" y="608.91"/><use href="#m9" x="224.6" y="609"/><polyline clip-path="url(#c9)" points="68.75,568.4 70,600 70.94,610.7 73.43,614.8 77.81,615.7 224.6,616.5" fill="none" stroke="#ff6a00" stroke-width="1.2" stroke-linejoin="round"/><use href="#m10" x="68.75" y="568.4"/><use href="#m10" x="76.95" y="615.52"/><use href="#m10" x="85.16" y="615.74"/><use href="#m10" x="93.36" y="615.78"/><use href="#m10" x="101.56" y="615.83"/><use href="#m10" x="109.76" y="615.87"/><use href="#m10" x="117.97" y="615.92"/><use href="#m10" x="126.17" y="615.96"/><use href="#m10" x="134.37" y="616.01"/><use href="#m10" x="142.57" y="616.05"/><use href="#m10" x="150.78" y="616.1"/><use href="#m10" x="158.98" y="616.14"/><use href="#m10" x="167.18" y="616.19"/><use href="#m10" x="175.38" y="616.23"/><use href="#m10" x="183.59" y="616.28"/><use href="#m10" x="191.79" y="616.32"/><use href="#m10" x="199.99" y="616.37"/><use href="#m10" x="208.19" y="616.41"/><use href="#m10" x="216.4" y="616.46"/><use href="#m10" x="224.6" y="616.5"/><polyline clip-path="url(#c9)" points="68.75,565 71.56,590 76.46,599.5 85.24,603 93.42,606 101.54,607.1 109.85,608.3 118.1,609.2 162.14,609.8 224.6,610" fill="none" stroke="#20b0a4" stroke-width="1.2" stroke-linejoin="round"/><use href="#m11" x="68.75" y="565"/><use href="#m11" x="76.95" y="599.69"/><use href="#m11" x="85.16" y="602.97"/><use href="#m11" x="93.36" y="605.98"/><use href="#m11" x="101.56" y="607.1"/><use href="#m11" x="109.76" y="608.29"/><use href="#m11" x="117.97" y="609.19"/><use href="#m11" x="126.17" y="609.31"/><use href="#m11" x="134.37" y="609.42"/><use href="#m11" x="142.57" y="609.53"/><use href="#m11" x="150.78" y="609.65"/><use href="#m11" x="158.98" y="609.76"/><use href="#m11" x="167.18" y="609.82"/><use href="#m11" x="175.38" y="609.84"/><use href="#m11" x="183.59" y="609.87"/><use href="#m11" x="191.79" y="609.89"/><use href="#m11" x="199.99" y="609.92"/><use href="#m11" x="208.19" y="609.95"/><use href="#m11" x="216.4" y="609.97"/><use href="#m11" x="224.6" y="610"/><polyline clip-path="url(#c9)" points="68.75,566 70.31,595 76.46,608 85.24,611.5 93.42,612.4 124.03,614 224.6,614.8" fill="none" stroke="#8560f0" stroke-width="1.2" stroke-linejoin="round"/><use href="#m12" x="68.75" y="566"/><use href="#m12" x="76.95" y="608.19"/><use href="#m12" x="85.16" y="611.47"/><use href="#m12" x="93.36" y="612.39"/><use href="#m12" x="101.56" y="612.83"/><use href="#m12" x="109.76" y="613.25"/><use href="#m12" x="117.97" y="613.68"/><use href="#m12" x="126.17" y="614.02"/><use href="#m12" x="134.37" y="614.08"/><use href="#m12" x="142.57" y="614.15"/><use href="#m12" x="150.78" y="614.21"/><use href="#m12" x="158.98" y="614.28"/><use href="#m12" x="167.18" y="614.34"/><use href="#m12" x="175.38" y="614.41"/><use href="#m12" x="183.59" y="614.47"/><use href="#m12" x="191.79" y="614.54"/><use href="#m12" x="199.99" y="614.6"/><use href="#m12" x="208.19" y="614.67"/><use href="#m12" x="216.4" y="614.73"/><use href="#m12" x="224.6" y="614.8"/><polyline clip-path="url(#c9)" points="68.75,548 69.37,580 71.56,598 76.46,606 85.24,608.9 93.42,610.1 101.54,611.2 110.6,612.4 124.03,613 224.6,614.2" fill="none" stroke="#00ff00" stroke-width="1.2" stroke-linejoin="round"/><use href="#m13" x="68.75" y="548"/><use href="#m13" x="76.95" y="606.16"/><use href="#m13" x="85.16" y="608.87"/><use href="#m13" x="93.36" y="610.09"/><use href="#m13" x="101.56" y="611.2"/><use href="#m13" x="109.76" y="612.29"/><use href="#m13" x="117.97" y="612.73"/><use href="#m13" x="126.17" y="613.03"/><use href="#m13" x="134.37" y="613.12"/><use href="#m13" x="142.57" y="613.22"/><use href="#m13" x="150.78" y="613.32"/><use href="#m13" x="158.98" y="613.42"/><use href="#m13" x="167.18" y="613.51"/><use href="#m13" x="175.38" y="613.61"/><use href="#m13" x="183.59" y="613.71"/><use href="#m13" x="191.79" y="613.81"/><use href="#m13" x="199.99" y="613.91"/><use href="#m13" x="208.19" y="614"/><use href="#m13" x="216.4" y="614.1"/><use href="#m13" x="224.6" y="614.2"/><polyline clip-path="url(#c9)" points="68.75,567 70.31,596 76.46,608.3 85.24,611.8 93.42,612.4 162.14,613.6 224.6,614.5" fill="none" stroke="#00a4d4" stroke-width="1.2" stroke-linejoin="round"/><use href="#m14" x="68.75" y="567"/><use href="#m14" x="76.95" y="608.49"/><use href="#m14" x="85.16" y="611.77"/><use href="#m14" x="93.36" y="612.4"/><use href="#m14" x="101.56" y="612.54"/><use href="#m14" x="109.76" y="612.69"/><use href="#m14" x="117.97" y="612.83"/><use href="#m14" x="126.17" y="612.97"/><use href="#m14" x="134.37" y="613.12"/><use href="#m14" x="142.57" y="613.26"/><use href="#m14" x="150.78" y="613.4"/><use href="#m14" x="158.98" y="613.54"/><use href="#m14" x="167.18" y="613.67"/><use href="#m14" x="175.38" y="613.79"/><use href="#m14" x="183.59" y="613.91"/><use href="#m14" x="191.79" y="614.03"/><use href="#m14" x="199.99" y="614.15"/><use href="#m14" x="208.19" y="614.26"/><use href="#m14" x="216.4" y="614.38"/><use href="#m14" x="224.6" y="614.5"/>
<rect x="177.32" y="498.05" width="43.67" height="87.57" fill="#fff" stroke="#555" stroke-width="0.5"/>
<g font-size="4.3" fill="#111" stroke="#111" stroke-width="0.04"><path d="M179.31 501.92H193.3" stroke="#ff0000" stroke-width="1.2"/><use href="#m0" x="186.31" y="501.92"/><text x="194.9" y="503.47">COA</text><path d="M179.31 507.66H193.3" stroke="#0000ff" stroke-width="1.2"/><use href="#m1" x="186.31" y="507.66"/><text x="194.9" y="509.21">CMRLCCOA</text><path d="M179.31 513.41H193.3" stroke="#4cae1e" stroke-width="1.2"/><use href="#m2" x="186.31" y="513.41"/><text x="194.9" y="514.96">KOA</text><path d="M179.31 519.15H193.3" stroke="#ffa500" stroke-width="1.2"/><use href="#m3" x="186.31" y="519.15"/><text x="194.9" y="520.7">SWO</text><path d="M179.31 524.9H193.3" stroke="#ff66dd" stroke-width="1.2"/><use href="#m4" x="186.31" y="524.9"/><text x="194.9" y="526.45">GMO</text><path d="M179.31 530.64H193.3" stroke="#a02020" stroke-width="1.2"/><use href="#m5" x="186.31" y="530.64"/><text x="194.9" y="532.19">DMA</text><path d="M179.31 536.39H193.3" stroke="#ffd000" stroke-width="1.2"/><use href="#m6" x="186.31" y="536.39"/><text x="194.9" y="537.93">TROA</text><path d="M179.31 542.13H193.3" stroke="#b93cff" stroke-width="1.2"/><use href="#m7" x="186.31" y="542.13"/><text x="194.9" y="543.68">GO</text><path d="M179.31 547.88H193.3" stroke="#dc1430" stroke-width="1.2"/><use href="#m8" x="186.31" y="547.88"/><text x="194.9" y="549.42">PSO</text><path d="M179.31 553.62H193.3" stroke="#00ffff" stroke-width="1.2"/><use href="#m9" x="186.31" y="553.62"/><text x="194.9" y="555.17">DE</text><path d="M179.31 559.37H193.3" stroke="#ff6a00" stroke-width="1.2"/><use href="#m10" x="186.31" y="559.37"/><text x="194.9" y="560.91">SA</text><path d="M179.31 565.11H193.3" stroke="#20b0a4" stroke-width="1.2"/><use href="#m11" x="186.31" y="565.11"/><text x="194.9" y="566.66">ABC</text><path d="M179.31 570.86H193.3" stroke="#8560f0" stroke-width="1.2"/><use href="#m12" x="186.31" y="570.86"/><text x="194.9" y="572.4">ISSA</text><path d="M179.31 576.6H193.3" stroke="#00ff00" stroke-width="1.2"/><use href="#m13" x="186.31" y="576.6"/><text x="194.9" y="578.15">IGWO</text><path d="M179.31 582.34H193.3" stroke="#00a4d4" stroke-width="1.2"/><use href="#m14" x="186.31" y="582.34"/><text x="194.9" y="583.89">EWOA</text></g>
<!-- cec28 -->
<clipPath id="c10"><rect x="341.6" y="494.1" width="156.7" height="125"/></clipPath>
<rect x="341.6" y="494.4" width="156.4" height="124.4" fill="#fff" stroke="#606060" stroke-width="0.6"/>
<path d="M356.96 618.8v-1.6 M356.96 494.4v1.6 M372.63 618.8v-1.6 M372.63 494.4v1.6 M388.3 618.8v-1.6 M388.3 494.4v1.6 M403.97 618.8v-1.6 M403.97 494.4v1.6 M419.64 618.8v-1.6 M419.64 494.4v1.6 M435.31 618.8v-1.6 M435.31 494.4v1.6 M450.99 618.8v-1.6 M450.99 494.4v1.6 M466.66 618.8v-1.6 M466.66 494.4v1.6 M482.33 618.8v-1.6 M482.33 494.4v1.6 M498 618.8v-1.6 M498 494.4v1.6 M341.6 498h1.6 M498 498h-1.6 M341.6 517h1.6 M498 517h-1.6 M341.6 536h1.6 M498 536h-1.6 M341.6 555h1.6 M498 555h-1.6 M341.6 574h1.6 M498 574h-1.6 M341.6 593h1.6 M498 593h-1.6 M341.6 612h1.6 M498 612h-1.6" stroke="#606060" stroke-width="0.5" fill="none"/>
<g font-size="5.01" fill="#303030"><g text-anchor="middle"><text x="356.96" y="626.52">50</text><text x="372.63" y="626.52">100</text><text x="388.3" y="626.52">150</text><text x="403.97" y="626.52">200</text><text x="419.64" y="626.52">250</text><text x="435.31" y="626.52">300</text><text x="450.99" y="626.52">350</text><text x="466.66" y="626.52">400</text><text x="482.33" y="626.52">450</text><text x="498" y="626.52">500</text></g><g text-anchor="end"><text x="339.6" y="499.8">3.5</text><text x="339.6" y="518.8">3</text><text x="339.6" y="537.8">2.5</text><text x="339.6" y="556.8">2</text><text x="339.6" y="575.8">1.5</text><text x="339.6" y="594.8">1</text><text x="339.6" y="613.8">0.5</text></g><text x="342.4" y="493.5" font-size="4.81">×10<tspan dy="-2.31" font-size="3.91">4</tspan></text></g>
<text x="419.8" y="491.99" font-size="7.27" text-anchor="middle" fill="#111">cec28</text>
<text x="419.8" y="635.04" font-size="6.92" text-anchor="middle" fill="#262626">Iteration</text>
<text transform="translate(329.87 556.6) rotate(-90)" font-size="6.82" text-anchor="middle" fill="#262626">Fitness value</text>
<polyline clip-path="url(#c10)" points="341.6,531.6 341.91,560 342.85,580 344.01,585.5 498,586" fill="none" stroke="#ff0000" stroke-width="1.2" stroke-linejoin="round"/><use href="#m0" x="341.6" y="531.6"/><use href="#m0" x="349.83" y="585.52"/><use href="#m0" x="358.06" y="585.55"/><use href="#m0" x="366.29" y="585.57"/><use href="#m0" x="374.53" y="585.6"/><use href="#m0" x="382.76" y="585.63"/><use href="#m0" x="390.99" y="585.65"/><use href="#m0" x="399.22" y="585.68"/><use href="#m0" x="407.45" y="585.71"/><use href="#m0" x="415.68" y="585.73"/><use href="#m0" x="423.92" y="585.76"/><use href="#m0" x="432.15" y="585.79"/><use href="#m0" x="440.38" y="585.81"/><use href="#m0" x="448.61" y="585.84"/><use href="#m0" x="456.84" y="585.87"/><use href="#m0" x="465.07" y="585.89"/><use href="#m0" x="473.31" y="585.92"/><use href="#m0" x="481.54" y="585.95"/><use href="#m0" x="489.77" y="585.97"/><use href="#m0" x="498" y="586"/><polyline clip-path="url(#c10)" points="341.6,617 342.23,618.5 498,618.6" fill="none" stroke="#0000ff" stroke-width="1.2" stroke-linejoin="round"/><use href="#m1" x="341.6" y="617"/><use href="#m1" x="349.83" y="618.5"/><use href="#m1" x="358.06" y="618.51"/><use href="#m1" x="366.29" y="618.52"/><use href="#m1" x="374.53" y="618.52"/><use href="#m1" x="382.76" y="618.53"/><use href="#m1" x="390.99" y="618.53"/><use href="#m1" x="399.22" y="618.54"/><use href="#m1" x="407.45" y="618.54"/><use href="#m1" x="415.68" y="618.55"/><use href="#m1" x="423.92" y="618.55"/><use href="#m1" x="432.15" y="618.56"/><use href="#m1" x="440.38" y="618.56"/><use href="#m1" x="448.61" y="618.57"/><use href="#m1" x="456.84" y="618.57"/><use href="#m1" x="465.07" y="618.58"/><use href="#m1" x="473.31" y="618.58"/><use href="#m1" x="481.54" y="618.59"/><use href="#m1" x="489.77" y="618.59"/><use href="#m1" x="498" y="618.6"/><polyline clip-path="url(#c10)" points="341.6,557 342.23,558.5 396.45,558.5 396.76,569 491.73,569 498,568.5" fill="none" stroke="#4cae1e" stroke-width="1.2" stroke-linejoin="round"/><use href="#m2" x="341.6" y="557"/><use href="#m2" x="349.83" y="558.5"/><use href="#m2" x="358.06" y="558.5"/><use href="#m2" x="366.29" y="558.5"/><use href="#m2" x="374.53" y="558.5"/><use href="#m2" x="382.76" y="558.5"/><use href="#m2" x="390.99" y="558.5"/><use href="#m2" x="399.22" y="569"/><use href="#m2" x="407.45" y="569"/><use href="#m2" x="415.68" y="569"/><use href="#m2" x="423.92" y="569"/><use href="#m2" x="432.15" y="569"/><use href="#m2" x="440.38" y="569"/><use href="#m2" x="448.61" y="569"/><use href="#m2" x="456.84" y="569"/><use href="#m2" x="465.07" y="569"/><use href="#m2" x="473.31" y="569"/><use href="#m2" x="481.54" y="569"/><use href="#m2" x="489.77" y="569"/><use href="#m2" x="498" y="568.5"/><polyline clip-path="url(#c10)" points="341.6,530.4 347.56,530.4 347.87,573.1 409.3,573.1 412.43,581.1 498,581.5" fill="none" stroke="#ffa500" stroke-width="1.2" stroke-linejoin="round"/><use href="#m3" x="341.6" y="530.4"/><use href="#m3" x="349.83" y="573.1"/><use href="#m3" x="358.06" y="573.1"/><use href="#m3" x="366.29" y="573.1"/><use href="#m3" x="374.53" y="573.1"/><use href="#m3" x="382.76" y="573.1"/><use href="#m3" x="390.99" y="573.1"/><use href="#m3" x="399.22" y="573.1"/><use href="#m3" x="407.45" y="573.1"/><use href="#m3" x="415.68" y="581.12"/><use href="#m3" x="423.92" y="581.15"/><use href="#m3" x="432.15" y="581.19"/><use href="#m3" x="440.38" y="581.23"/><use href="#m3" x="448.61" y="581.27"/><use href="#m3" x="456.84" y="581.31"/><use href="#m3" x="465.07" y="581.35"/><use href="#m3" x="473.31" y="581.38"/><use href="#m3" x="481.54" y="581.42"/><use href="#m3" x="489.77" y="581.46"/><use href="#m3" x="498" y="581.5"/><polyline clip-path="url(#c10)" points="341.6,560 342.54,580 344.01,600.1 349.91,611.8 358.09,615.3 366.3,617.1 498,617.8" fill="none" stroke="#ff66dd" stroke-width="1.2" stroke-linejoin="round"/><use href="#m4" x="341.6" y="560"/><use href="#m4" x="349.83" y="611.65"/><use href="#m4" x="358.06" y="615.29"/><use href="#m4" x="366.29" y="617.1"/><use href="#m4" x="374.53" y="617.14"/><use href="#m4" x="382.76" y="617.19"/><use href="#m4" x="390.99" y="617.23"/><use href="#m4" x="399.22" y="617.27"/><use href="#m4" x="407.45" y="617.32"/><use href="#m4" x="415.68" y="617.36"/><use href="#m4" x="423.92" y="617.41"/><use href="#m4" x="432.15" y="617.45"/><use href="#m4" x="440.38" y="617.49"/><use href="#m4" x="448.61" y="617.54"/><use href="#m4" x="456.84" y="617.58"/><use href="#m4" x="465.07" y="617.62"/><use href="#m4" x="473.31" y="617.67"/><use href="#m4" x="481.54" y="617.71"/><use href="#m4" x="489.77" y="617.76"/><use href="#m4" x="498" y="617.8"/><polyline clip-path="url(#c10)" points="341.6,498.2 341.91,560 344.01,580.2 346.3,591.9 349.91,594.2 358.09,598.3 366.3,601.3 374.51,603 382.66,604.8 390.93,605.4 396.76,606 451.61,609.5 498,611.6" fill="none" stroke="#a02020" stroke-width="1.2" stroke-linejoin="round"/><use href="#m5" x="341.6" y="498.2"/><use href="#m5" x="349.83" y="594.15"/><use href="#m5" x="358.06" y="598.29"/><use href="#m5" x="366.29" y="601.3"/><use href="#m5" x="374.53" y="603"/><use href="#m5" x="382.76" y="604.81"/><use href="#m5" x="390.99" y="605.41"/><use href="#m5" x="399.22" y="606.16"/><use href="#m5" x="407.45" y="606.68"/><use href="#m5" x="415.68" y="607.21"/><use href="#m5" x="423.92" y="607.73"/><use href="#m5" x="432.15" y="608.26"/><use href="#m5" x="440.38" y="608.78"/><use href="#m5" x="448.61" y="609.31"/><use href="#m5" x="456.84" y="609.74"/><use href="#m5" x="465.07" y="610.11"/><use href="#m5" x="473.31" y="610.48"/><use href="#m5" x="481.54" y="610.85"/><use href="#m5" x="489.77" y="611.23"/><use href="#m5" x="498" y="611.6"/><polyline clip-path="url(#c10)" points="341.6,580.2 344.01,585.8 498,586" fill="none" stroke="#ffd000" stroke-width="1.2" stroke-linejoin="round"/><use href="#m6" x="341.6" y="580.2"/><use href="#m6" x="349.83" y="585.81"/><use href="#m6" x="358.06" y="585.82"/><use href="#m6" x="366.29" y="585.83"/><use href="#m6" x="374.53" y="585.84"/><use href="#m6" x="382.76" y="585.85"/><use href="#m6" x="390.99" y="585.86"/><use href="#m6" x="399.22" y="585.87"/><use href="#m6" x="407.45" y="585.88"/><use href="#m6" x="415.68" y="585.89"/><use href="#m6" x="423.92" y="585.9"/><use href="#m6" x="432.15" y="585.91"/><use href="#m6" x="440.38" y="585.93"/><use href="#m6" x="448.61" y="585.94"/><use href="#m6" x="456.84" y="585.95"/><use href="#m6" x="465.07" y="585.96"/><use href="#m6" x="473.31" y="585.97"/><use href="#m6" x="481.54" y="585.98"/><use href="#m6" x="489.77" y="585.99"/><use href="#m6" x="498" y="586"/><polyline clip-path="url(#c10)" points="341.6,494.6 345.2,494.6 345.36,520.2 352.26,520.2 352.57,558.9 383.91,559.1 384.23,565.2 415.26,565.2 415.57,570 494.87,570 498,573.5" fill="none" stroke="#b93cff" stroke-width="1.2" stroke-linejoin="round"/><use href="#m7" x="341.6" y="494.6"/><use href="#m7" x="349.83" y="520.2"/><use href="#m7" x="358.06" y="558.94"/><use href="#m7" x="366.29" y="558.99"/><use href="#m7" x="374.53" y="559.04"/><use href="#m7" x="382.76" y="559.09"/><use href="#m7" x="390.99" y="565.2"/><use href="#m7" x="399.22" y="565.2"/><use href="#m7" x="407.45" y="565.2"/><use href="#m7" x="415.68" y="570"/><use href="#m7" x="423.92" y="570"/><use href="#m7" x="432.15" y="570"/><use href="#m7" x="440.38" y="570"/><use href="#m7" x="448.61" y="570"/><use href="#m7" x="456.84" y="570"/><use href="#m7" x="465.07" y="570"/><use href="#m7" x="473.31" y="570"/><use href="#m7" x="481.54" y="570"/><use href="#m7" x="489.77" y="570"/><use href="#m7" x="498" y="573.5"/><polyline clip-path="url(#c10)" points="341.6,556.1 349.91,570.2 358.09,585.4 366.3,592.5 374.51,596.6 382.66,599.5 390.93,601.9 396.76,603 419.64,605 451.61,606.5 498,608" fill="none" stroke="#dc1430" stroke-width="1.2" stroke-linejoin="round"/><use href="#m8" x="341.6" y="556.1"/><use href="#m8" x="349.83" y="570.07"/><use href="#m8" x="358.06" y="585.36"/><use href="#m8" x="366.29" y="592.5"/><use href="#m8" x="374.53" y="596.61"/><use href="#m8" x="382.76" y="599.53"/><use href="#m8" x="390.99" y="601.91"/><use href="#m8" x="399.22" y="603.21"/><use href="#m8" x="407.45" y="603.93"/><use href="#m8" x="415.68" y="604.65"/><use href="#m8" x="423.92" y="605.2"/><use href="#m8" x="432.15" y="605.59"/><use href="#m8" x="440.38" y="605.97"/><use href="#m8" x="448.61" y="606.36"/><use href="#m8" x="456.84" y="606.67"/><use href="#m8" x="465.07" y="606.94"/><use href="#m8" x="473.31" y="607.2"/><use href="#m8" x="481.54" y="607.47"/><use href="#m8" x="489.77" y="607.73"/><use href="#m8" x="498" y="608"/><polyline clip-path="url(#c10)" points="341.6,535.7 341.91,556 349.91,573.1 351.63,583.7 358.09,588.4 366.3,594.8 374.51,595.4 382.66,602.4 390.93,603.6 408.05,606 439.7,611.8 451.61,613.6 498,615" fill="none" stroke="#00ffff" stroke-width="1.2" stroke-linejoin="round"/><use href="#m9" x="341.6" y="535.7"/><use href="#m9" x="349.83" y="572.94"/><use href="#m9" x="358.06" y="588.38"/><use href="#m9" x="366.29" y="594.8"/><use href="#m9" x="374.53" y="595.41"/><use href="#m9" x="382.76" y="602.41"/><use href="#m9" x="390.99" y="603.61"/><use href="#m9" x="399.22" y="604.76"/><use href="#m9" x="407.45" y="605.92"/><use href="#m9" x="415.68" y="607.4"/><use href="#m9" x="423.92" y="608.91"/><use href="#m9" x="432.15" y="610.42"/><use href="#m9" x="440.38" y="611.9"/><use href="#m9" x="448.61" y="613.15"/><use href="#m9" x="456.84" y="613.76"/><use href="#m9" x="465.07" y="614.01"/><use href="#m9" x="473.31" y="614.25"/><use href="#m9" x="481.54" y="614.5"/><use href="#m9" x="489.77" y="614.75"/><use href="#m9" x="498" y="615"/><polyline clip-path="url(#c10)" points="341.6,557 342.54,575 344.01,589.5 349.91,606 358.09,615.9 363.23,616.7 498,617" fill="none" stroke="#ff6a00" stroke-width="1.2" stroke-linejoin="round"/><use href="#m10" x="341.6" y="557"/><use href="#m10" x="349.83" y="605.79"/><use href="#m10" x="358.06" y="615.87"/><use href="#m10" x="366.29" y="616.71"/><use href="#m10" x="374.53" y="616.73"/><use href="#m10" x="382.76" y="616.74"/><use href="#m10" x="390.99" y="616.76"/><use href="#m10" x="399.22" y="616.78"/><use href="#m10" x="407.45" y="616.8"/><use href="#m10" x="415.68" y="616.82"/><use href="#m10" x="423.92" y="616.84"/><use href="#m10" x="432.15" y="616.85"/><use href="#m10" x="440.38" y="616.87"/><use href="#m10" x="448.61" y="616.89"/><use href="#m10" x="456.84" y="616.91"/><use href="#m10" x="465.07" y="616.93"/><use href="#m10" x="473.31" y="616.95"/><use href="#m10" x="481.54" y="616.96"/><use href="#m10" x="489.77" y="616.98"/><use href="#m10" x="498" y="617"/><polyline clip-path="url(#c10)" points="341.6,559.7 349.91,584.9 358.09,591.3 366.3,596.6 374.51,598.3 382.66,601.9 390.93,603 419.64,606 451.61,608.5 498,611.6" fill="none" stroke="#20b0a4" stroke-width="1.2" stroke-linejoin="round"/><use href="#m11" x="341.6" y="559.7"/><use href="#m11" x="349.83" y="584.67"/><use href="#m11" x="358.06" y="591.28"/><use href="#m11" x="366.29" y="596.6"/><use href="#m11" x="374.53" y="598.31"/><use href="#m11" x="382.76" y="601.91"/><use href="#m11" x="390.99" y="603.01"/><use href="#m11" x="399.22" y="603.87"/><use href="#m11" x="407.45" y="604.73"/><use href="#m11" x="415.68" y="605.59"/><use href="#m11" x="423.92" y="606.33"/><use href="#m11" x="432.15" y="606.98"/><use href="#m11" x="440.38" y="607.62"/><use href="#m11" x="448.61" y="608.27"/><use href="#m11" x="456.84" y="608.85"/><use href="#m11" x="465.07" y="609.4"/><use href="#m11" x="473.31" y="609.95"/><use href="#m11" x="481.54" y="610.5"/><use href="#m11" x="489.77" y="611.05"/><use href="#m11" x="498" y="611.6"/><polyline clip-path="url(#c10)" points="341.6,564.3 344.01,585 349.91,600.7 358.09,606 366.3,610.1 374.51,612.4 382.66,614.2 390.93,615.3 435.31,616.5 498,617" fill="none" stroke="#8560f0" stroke-width="1.2" stroke-linejoin="round"/><use href="#m12" x="341.6" y="564.3"/><use href="#m12" x="349.83" y="600.5"/><use href="#m12" x="358.06" y="605.99"/><use href="#m12" x="366.29" y="610.1"/><use href="#m12" x="374.53" y="612.4"/><use href="#m12" x="382.76" y="614.21"/><use href="#m12" x="390.99" y="615.3"/><use href="#m12" x="399.22" y="615.52"/><use href="#m12" x="407.45" y="615.75"/><use href="#m12" x="415.68" y="615.97"/><use href="#m12" x="423.92" y="616.19"/><use href="#m12" x="432.15" y="616.41"/><use href="#m12" x="440.38" y="616.54"/><use href="#m12" x="448.61" y="616.61"/><use href="#m12" x="456.84" y="616.67"/><use href="#m12" x="465.07" y="616.74"/><use href="#m12" x="473.31" y="616.8"/><use href="#m12" x="481.54" y="616.87"/><use href="#m12" x="489.77" y="616.93"/><use href="#m12" x="498" y="617"/><polyline clip-path="url(#c10)" points="341.6,518.1 341.91,565 344.01,591.9 349.91,608.9 358.09,612.8 366.3,614.2 374.51,615 382.66,615.3 396.76,615.9 498,616.5" fill="none" stroke="#00ff00" stroke-width="1.2" stroke-linejoin="round"/><use href="#m13" x="341.6" y="518.1"/><use href="#m13" x="349.83" y="608.69"/><use href="#m13" x="358.06" y="612.79"/><use href="#m13" x="366.29" y="614.2"/><use href="#m13" x="374.53" y="615"/><use href="#m13" x="382.76" y="615.3"/><use href="#m13" x="390.99" y="615.65"/><use href="#m13" x="399.22" y="615.91"/><use href="#m13" x="407.45" y="615.96"/><use href="#m13" x="415.68" y="616.01"/><use href="#m13" x="423.92" y="616.06"/><use href="#m13" x="432.15" y="616.11"/><use href="#m13" x="440.38" y="616.16"/><use href="#m13" x="448.61" y="616.21"/><use href="#m13" x="456.84" y="616.26"/><use href="#m13" x="465.07" y="616.3"/><use href="#m13" x="473.31" y="616.35"/><use href="#m13" x="481.54" y="616.4"/><use href="#m13" x="489.77" y="616.45"/><use href="#m13" x="498" y="616.5"/><polyline clip-path="url(#c10)" points="341.6,559 344.01,585 349.91,598.3 358.09,601.3 366.3,604.2 371,606 374.51,611.2 382.66,612.8 390.93,615.3 419.64,616.5 498,617" fill="none" stroke="#00a4d4" stroke-width="1.2" stroke-linejoin="round"/><use href="#m14" x="341.6" y="559"/><use href="#m14" x="349.83" y="598.13"/><use href="#m14" x="358.06" y="601.29"/><use href="#m14" x="366.29" y="604.2"/><use href="#m14" x="374.53" y="611.2"/><use href="#m14" x="382.76" y="612.83"/><use href="#m14" x="390.99" y="615.3"/><use href="#m14" x="399.22" y="615.65"/><use href="#m14" x="407.45" y="615.99"/><use href="#m14" x="415.68" y="616.33"/><use href="#m14" x="423.92" y="616.53"/><use href="#m14" x="432.15" y="616.58"/><use href="#m14" x="440.38" y="616.63"/><use href="#m14" x="448.61" y="616.68"/><use href="#m14" x="456.84" y="616.74"/><use href="#m14" x="465.07" y="616.79"/><use href="#m14" x="473.31" y="616.84"/><use href="#m14" x="481.54" y="616.89"/><use href="#m14" x="489.77" y="616.95"/><use href="#m14" x="498" y="617"/>
<rect x="450.55" y="498.07" width="43.82" height="88.14" fill="#fff" stroke="#555" stroke-width="0.5"/>
<g font-size="4.31" fill="#111" stroke="#111" stroke-width="0.04"><path d="M452.55 501.96H466.59" stroke="#ff0000" stroke-width="1.2"/><use href="#m0" x="459.57" y="501.96"/><text x="468.19" y="503.52">COA</text><path d="M452.55 507.75H466.59" stroke="#0000ff" stroke-width="1.2"/><use href="#m1" x="459.57" y="507.75"/><text x="468.19" y="509.3">CMRLCCOA</text><path d="M452.55 513.53H466.59" stroke="#4cae1e" stroke-width="1.2"/><use href="#m2" x="459.57" y="513.53"/><text x="468.19" y="515.08">KOA</text><path d="M452.55 519.31H466.59" stroke="#ffa500" stroke-width="1.2"/><use href="#m3" x="459.57" y="519.31"/><text x="468.19" y="520.86">SWO</text><path d="M452.55 525.09H466.59" stroke="#ff66dd" stroke-width="1.2"/><use href="#m4" x="459.57" y="525.09"/><text x="468.19" y="526.65">GMO</text><path d="M452.55 530.87H466.59" stroke="#a02020" stroke-width="1.2"/><use href="#m5" x="459.57" y="530.87"/><text x="468.19" y="532.43">DMA</text><path d="M452.55 536.66H466.59" stroke="#ffd000" stroke-width="1.2"/><use href="#m6" x="459.57" y="536.66"/><text x="468.19" y="538.21">TROA</text><path d="M452.55 542.44H466.59" stroke="#b93cff" stroke-width="1.2"/><use href="#m7" x="459.57" y="542.44"/><text x="468.19" y="543.99">GO</text><path d="M452.55 548.22H466.59" stroke="#dc1430" stroke-width="1.2"/><use href="#m8" x="459.57" y="548.22"/><text x="468.19" y="549.78">PSO</text><path d="M452.55 554H466.59" stroke="#00ffff" stroke-width="1.2"/><use href="#m9" x="459.57" y="554"/><text x="468.19" y="555.56">DE</text><path d="M452.55 559.79H466.59" stroke="#ff6a00" stroke-width="1.2"/><use href="#m10" x="459.57" y="559.79"/><text x="468.19" y="561.34">SA</text><path d="M452.55 565.57H466.59" stroke="#20b0a4" stroke-width="1.2"/><use href="#m11" x="459.57" y="565.57"/><text x="468.19" y="567.12">ABC</text><path d="M452.55 571.35H466.59" stroke="#8560f0" stroke-width="1.2"/><use href="#m12" x="459.57" y="571.35"/><text x="468.19" y="572.9">ISSA</text><path d="M452.55 577.13H466.59" stroke="#00ff00" stroke-width="1.2"/><use href="#m13" x="459.57" y="577.13"/><text x="468.19" y="578.69">IGWO</text><path d="M452.55 582.92H466.59" stroke="#00a4d4" stroke-width="1.2"/><use href="#m14" x="459.57" y="582.92"/><text x="468.19" y="584.47">EWOA</text></g>
</svg>
</body></html>
